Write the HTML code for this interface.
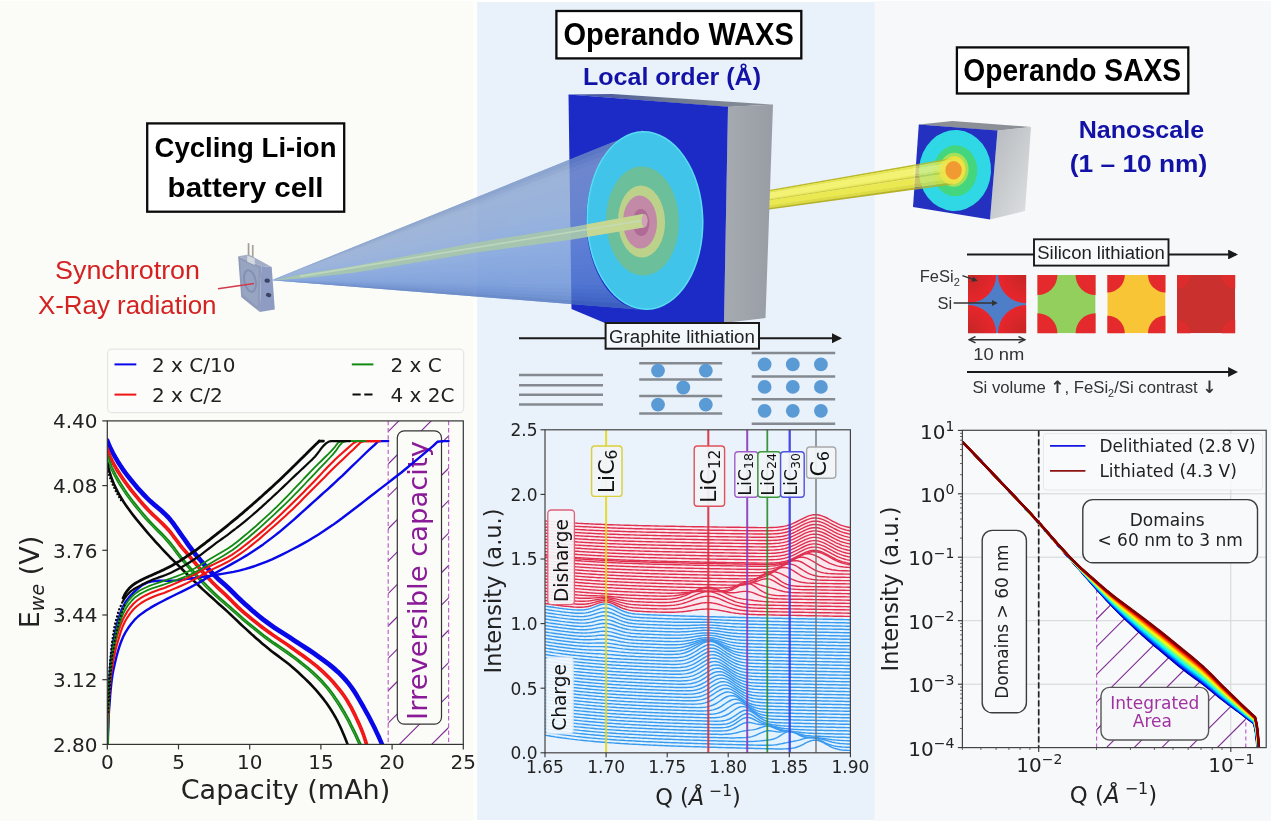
<!DOCTYPE html>
<html lang="en"><head><meta charset="utf-8"><title>Operando WAXS / SAXS of a cycling Li-ion battery cell</title>
<style>html,body{margin:0;padding:0;background:#fff;overflow:hidden}svg{display:block}</style></head>
<body>
<svg width="1280" height="822" viewBox="0 0 1280 822">
<rect x="0" y="0" width="1280" height="822" fill="#ffffff"/>
<rect x="0" y="1" width="477" height="820" fill="#fbfcf8"/>
<rect x="874" y="1" width="397" height="820" fill="#f6f8fa"/>
<rect x="477" y="2" width="397.5" height="818" fill="#e9f1fa"/>
<rect x="473" y="1" width="4.2" height="820" fill="#fefefd"/>
<defs>
<linearGradient id="coneG" x1="0" y1="0" x2="0" y2="1">
<stop offset="0" stop-color="#5f86c8"/><stop offset="0.18" stop-color="#86abe2"/><stop offset="0.5" stop-color="#8fb2e6"/><stop offset="0.8" stop-color="#7fa3dc"/><stop offset="1" stop-color="#5a7fc4"/>
</linearGradient>
<linearGradient id="coneFade" x1="0" y1="0" x2="1" y2="0">
<stop offset="0" stop-color="#fff" stop-opacity="0.75"/><stop offset="0.5" stop-color="#fff" stop-opacity="0.92"/><stop offset="1" stop-color="#fff" stop-opacity="1"/>
</linearGradient>
<linearGradient id="beamG" x1="0" y1="0" x2="0" y2="1">
<stop offset="0" stop-color="#c9c832"/><stop offset="0.15" stop-color="#eeee55"/><stop offset="0.45" stop-color="#f4f268"/><stop offset="0.52" stop-color="#cfcf3a"/><stop offset="0.6" stop-color="#eeec58"/><stop offset="0.88" stop-color="#e6e448"/><stop offset="1" stop-color="#bdbb2c"/>
</linearGradient>
<linearGradient id="sideG" x1="0" y1="0" x2="1" y2="0">
<stop offset="0" stop-color="#a6abb2"/><stop offset="1" stop-color="#989da5"/>
</linearGradient>
<linearGradient id="sideS" x1="0" y1="0" x2="1" y2="1">
<stop offset="0" stop-color="#b4b8bc"/><stop offset="1" stop-color="#dfe1e3"/>
</linearGradient>
<linearGradient id="topG" x1="0" y1="0" x2="1" y2="0">
<stop offset="0" stop-color="#3d4fa8"/><stop offset="0.5" stop-color="#6f7a90"/><stop offset="1" stop-color="#8a9098"/>
</linearGradient>
<radialGradient id="redC" cx="0.5" cy="0.5" r="0.5">
<stop offset="0" stop-color="#c42626"/><stop offset="1" stop-color="#e8262c"/>
</radialGradient>
<marker id="ah" viewBox="0 0 10 10" refX="8" refY="5" markerWidth="5.2" markerHeight="5.2" orient="auto-start-reverse"><path d="M0 0L10 5L0 10z" fill="#1a1a1a"/></marker>
<marker id="ahs" viewBox="0 0 10 10" refX="7" refY="5" markerWidth="4.2" markerHeight="4.2" orient="auto-start-reverse"><path d="M0 0L10 5L0 10z" fill="#333"/></marker>
<marker id="aho" viewBox="0 0 10 10" refX="8.5" refY="5" markerWidth="5" markerHeight="5" orient="auto-start-reverse"><path d="M1 1L9 5L1 9" fill="none" stroke="#333" stroke-width="1.8"/></marker>
</defs>
<polygon points="760,191.7 913.5,164.7 913.5,166.5 760,193" fill="#b9b82c"/><polygon points="760,192.8 913.5,166.2 913.5,168.7 760,194.7" fill="#e6e650"/><polygon points="760,194.5 913.5,168.5 913.5,175.3 760,199.7" fill="#f3f272"/><polygon points="760,199.5 913.5,175 913.5,176.9 760,200.9" fill="#ecea58"/><polygon points="760,200.9 913.5,176.8 913.5,178.3 760,202" fill="#cfce3c"/><polygon points="760,201.9 913.5,178.2 913.5,184.8 760,207" fill="#ebe952"/><polygon points="760,206.8 913.5,184.6 913.5,188.1 760,209.5" fill="#dedc44"/><polygon points="760,209.3 913.5,187.8 913.5,189.8 760,210.8" fill="#b4b228"/>
<polygon points="568.5,94.6 612,94 773,104.6 728,107" fill="url(#topG)"/>
<polygon points="728,106.8 773,104.6 765.5,318 724,323" fill="url(#sideG)"/>
<polygon points="568.5,94.6 728,106.8 724,323 605,323 571.5,309" fill="#1c2bc6"/>
<defs><clipPath id="coneclip"><path d="M0 0H645V131C612 131 586.5 171 586.5 220.5S612 310 645 310V400H0Z"/></clipPath></defs>
<g clip-path="url(#coneclip)"><g opacity="0.77"><polygon points="271.5,280.2 613.4,142.0 650,220 642.0,309.8" fill="#759ad9"/><polygon points="271.5,280.2 642.3,130.3 644.9,136.8" fill="#708ec2"/><polygon points="271.5,280.2 644.3,135.1 646.7,141.6" fill="#7a96c7"/><polygon points="271.5,280.2 646.1,139.9 648.5,146.4" fill="#839fcd"/><polygon points="271.5,280.2 647.9,144.7 650.2,151.3" fill="#87a2cf"/><polygon points="271.5,280.2 649.6,149.6 651.8,156.2" fill="#86a2d0"/><polygon points="271.5,280.2 651.2,154.5 653.4,161.1" fill="#85a1d0"/><polygon points="271.5,280.2 652.8,159.4 654.9,166" fill="#84a1d1"/><polygon points="271.5,280.2 654.3,164.3 656.3,171" fill="#84a1d1"/><polygon points="271.5,280.2 655.8,169.3 657.7,176" fill="#83a1d2"/><polygon points="271.5,280.2 657.2,174.2 659,180.9" fill="#82a0d2"/><polygon points="271.5,280.2 658.5,179.2 660.2,185.9" fill="#81a0d3"/><polygon points="271.5,280.2 659.8,184.2 661.4,191" fill="#80a0d3"/><polygon points="271.5,280.2 661,189.2 662.5,196" fill="#7f9fd4"/><polygon points="271.5,280.2 662.2,194.2 663.6,201" fill="#7d9ed5"/><polygon points="271.5,280.2 663.2,199.3 664.6,206.1" fill="#7c9ed5"/><polygon points="271.5,280.2 664.2,204.3 665.5,211.2" fill="#7b9dd6"/><polygon points="271.5,280.2 665.2,209.4 666.4,216.2" fill="#799cd7"/><polygon points="271.5,280.2 666.1,214.5 667.1,221.3" fill="#789cd7"/><polygon points="271.5,280.2 666.9,219.6 667.9,226.4" fill="#779bd8"/><polygon points="271.5,280.2 667.6,224.7 668.5,231.6" fill="#759ad9"/><polygon points="271.5,280.2 668.3,229.8 669.1,236.7" fill="#7499d9"/><polygon points="271.5,280.2 668.9,234.9 669.7,241.8" fill="#7298d8"/><polygon points="271.5,280.2 669.5,240 670.1,246.9" fill="#7096d8"/><polygon points="271.5,280.2 670,245.1 670.5,252.1" fill="#6f95d8"/><polygon points="271.5,280.2 670.4,250.3 670.8,257.2" fill="#6d94d7"/><polygon points="271.5,280.2 670.7,255.4 671.1,262.4" fill="#6c93d7"/><polygon points="271.5,280.2 671,260.6 671.3,267.5" fill="#6a91d7"/><polygon points="271.5,280.2 671.2,265.7 671.4,272.7" fill="#6890d6"/><polygon points="271.5,280.2 671.4,270.9 671.5,277.8" fill="#668fd6"/><polygon points="271.5,280.2 671.5,276 671.5,283" fill="#658dd5"/><polygon points="271.5,280.2 671.5,281.2 671.4,288.1" fill="#638cd5"/><polygon points="271.5,280.2 671.5,286.3 671.3,293.3" fill="#5e88d2"/><polygon points="271.5,280.2 671.3,291.5 671.1,298.4" fill="#5a82cf"/><polygon points="271.5,280.2 671.2,296.6 670.8,303.6" fill="#547dcb"/><polygon points="271.5,280.2 670.9,301.8 670.5,308.7" fill="#4e77c6"/><polygon points="271.5,280.2 670.6,306.9 670.2,312.1" fill="#456ebd"/></g></g>
<g transform="rotate(-1.5 644 221)">
<ellipse cx="645" cy="220.5" rx="58.5" ry="89.5" fill="#5adcf4"/>
<ellipse cx="645" cy="220.5" rx="57" ry="88" fill="#40c4ea"/>
<ellipse cx="642.5" cy="221" rx="36.5" ry="54.5" fill="#6bbf9a"/>
<ellipse cx="641.5" cy="221.5" rx="23.5" ry="36" fill="#bcd28a"/>
<ellipse cx="640" cy="222" rx="17" ry="26.5" fill="#c38aa8"/>
<ellipse cx="641" cy="222.5" rx="8.5" ry="13.5" fill="#b06a96"/>
</g>
<defs><clipPath id="ringclip"><ellipse cx="645" cy="220.5" rx="58.5" ry="89.5"/></clipPath></defs>
<polygon points="272.5,280.5 300,274.6 353.8,266 476,242.6 572.5,227 643,214 647.5,220.5 644.5,227.2 572.5,239.4 476,252.6 353.8,272.8 300,278.4" fill="#a9c8ac" opacity="0.9"/>
<polygon points="272.5,280.5 300,274.6 353.8,266 476,242.6 572.5,227 643,214 647.5,220.5 644.5,227.2 572.5,239.4 476,252.6 353.8,272.8 300,278.4" fill="#c9d88e" opacity="0.9" clip-path="url(#ringclip)"/>
<path d="M300 276.4L476 247.5L644 220.2" stroke="#c4dcc0" stroke-width="1.6" fill="none" opacity="0.8"/>
<ellipse cx="644.6" cy="220.6" rx="3" ry="6.6" fill="#cfa2b4"/>
<polygon points="918.8,124.5 952.5,121 1031,127 997.5,130.8" fill="#8c9096"/>
<polygon points="997.5,130.5 1031,127 1025,211 990,219.5" fill="url(#sideS)"/>
<polygon points="918.8,124.5 997.5,130.5 990,219.5 913,207" fill="#2430c0"/>
<g transform="rotate(4 955 170.5)">
<ellipse cx="955" cy="170.5" rx="36" ry="40.5" fill="#2fd8e4"/>
<ellipse cx="955.3" cy="170.8" rx="22" ry="25.5" fill="#43d67e"/>
<ellipse cx="954" cy="169.8" rx="14.6" ry="17" fill="#a6e05a"/>
<ellipse cx="954" cy="169.8" rx="11.4" ry="13.6" fill="#f0e23c"/>
</g>
<g opacity="0.82"><polygon points="913,164.8 952.5,157.9 952.5,159.7 913,166.6" fill="#b9b82c"/><polygon points="913,166.3 952.5,159.5 952.5,162.1 913,168.8" fill="#e6e650"/><polygon points="913,168.6 952.5,161.9 952.5,169.1 913,175.3" fill="#f3f272"/><polygon points="913,175.1 952.5,168.8 952.5,170.8 913,177" fill="#ecea58"/><polygon points="913,176.8 952.5,170.7 952.5,172.3 913,178.4" fill="#cfce3c"/><polygon points="913,178.2 952.5,172.1 952.5,179.2 913,184.9" fill="#ebe952"/><polygon points="913,184.6 952.5,178.9 952.5,182.6 913,188.1" fill="#dedc44"/><polygon points="913,187.9 952.5,182.4 952.5,184.5 913,189.9" fill="#b4b228"/></g>
<ellipse cx="952" cy="171.2" rx="12.5" ry="13.2" fill="#ece44a" opacity="0.8"/>
<ellipse cx="953.6" cy="170.3" rx="8.2" ry="9.2" fill="#f29a32"/>
<g>
<rect x="247.7" y="243.2" width="1.7" height="13.5" fill="#a39c92"/><rect x="251.9" y="245" width="1.7" height="13" fill="#a9a298"/>
<polygon points="238.1,256.2 261.3,266 259.8,312 241.2,297" fill="#8f9bb8"/>
<polygon points="240.2,260 258.6,268 257.6,306.5 242.6,294.5" fill="#98a5c2"/>
<polygon points="261.3,266 271.7,267 274.8,309.4 259.8,312" fill="#8e9cc4"/>
<polygon points="238.1,256.2 249,254.6 271.7,267 261.3,266" fill="#a2adc6"/>
<ellipse cx="250" cy="281" rx="5.6" ry="11" fill="none" stroke="#8391b2" stroke-width="2" transform="rotate(-12 250 281)"/>
<polygon points="247.2,255.6 254.8,258.8 254.8,265 247.2,261.8" fill="#d4d8e0"/>
<ellipse cx="267.2" cy="280.6" rx="2.7" ry="2.1" fill="#3c4464" transform="rotate(15 267.2 280.6)"/><ellipse cx="268.6" cy="295" rx="2.7" ry="2.1" fill="#3c4464" transform="rotate(15 268.6 295)"/>
</g>
<line x1="218" y1="288.8" x2="254" y2="283.5" stroke="#d23a4a" stroke-width="1.6"/>
<rect x="147.2" y="123.4" width="197" height="88.3" fill="#ffffff" stroke="#0a0a0a" stroke-width="2.3"/>
<text x="154.5" y="156.9" font-size="28.5" font-family="Liberation Sans, sans-serif" fill="#000" font-weight="bold" textLength="182" lengthAdjust="spacingAndGlyphs">Cycling Li-ion</text>
<text x="167.6" y="197.2" font-size="28.5" font-family="Liberation Sans, sans-serif" fill="#000" font-weight="bold" textLength="156" lengthAdjust="spacingAndGlyphs">battery cell</text>
<rect x="556.4" y="11" width="244.9" height="47.4" fill="#ffffff" stroke="#0a0a0a" stroke-width="2.3"/>
<text x="563.4" y="44.8" font-size="31" font-family="Liberation Sans, sans-serif" fill="#000" font-weight="bold" textLength="230.4" lengthAdjust="spacingAndGlyphs">Operando WAXS</text>
<rect x="956.9" y="47.4" width="231.4" height="46.1" fill="#ffffff" stroke="#0a0a0a" stroke-width="2.3"/>
<text x="963.2" y="81" font-size="31" font-family="Liberation Sans, sans-serif" fill="#000" font-weight="bold" textLength="218" lengthAdjust="spacingAndGlyphs">Operando SAXS</text>
<text x="583" y="85.3" font-size="23.5" font-family="Liberation Sans, sans-serif" fill="#1212a6" font-weight="bold" textLength="178" lengthAdjust="spacingAndGlyphs">Local order (Å)</text>
<text x="1078.7" y="137.5" font-size="23.5" font-family="Liberation Sans, sans-serif" fill="#1212a6" font-weight="bold" textLength="125.5" lengthAdjust="spacingAndGlyphs">Nanoscale</text>
<text x="1069.8" y="172" font-size="23.5" font-family="Liberation Sans, sans-serif" fill="#1212a6" font-weight="bold" textLength="137.5" lengthAdjust="spacingAndGlyphs">(1 – 10 nm)</text>
<text x="55" y="279.4" font-size="26" font-family="Liberation Sans, sans-serif" fill="#d42222" textLength="145" lengthAdjust="spacingAndGlyphs">Synchrotron</text>
<text x="37.9" y="314.4" font-size="26" font-family="Liberation Sans, sans-serif" fill="#d42222" textLength="178.6" lengthAdjust="spacingAndGlyphs">X-Ray radiation</text>
<line x1="519" y1="338.2" x2="840" y2="338.2" stroke="#1a1a1a" stroke-width="2" marker-end="url(#ah)"/>
<rect x="605.6" y="323" width="153.4" height="25.7" fill="#f3f8fd" stroke="#1a1a1a" stroke-width="2.0"/>
<text x="609" y="342.6" font-size="18" font-family="Liberation Sans, sans-serif" fill="#222" textLength="146" lengthAdjust="spacingAndGlyphs">Graphite lithiation</text>
<line x1="519" y1="375" x2="603" y2="375" stroke="#858a90" stroke-width="2.5"/>
<line x1="519" y1="385.2" x2="603" y2="385.2" stroke="#858a90" stroke-width="2.5"/>
<line x1="519" y1="394.8" x2="603" y2="394.8" stroke="#858a90" stroke-width="2.5"/>
<line x1="519" y1="404.6" x2="603" y2="404.6" stroke="#858a90" stroke-width="2.5"/>
<line x1="639.2" y1="363.2" x2="722.2" y2="363.2" stroke="#858a90" stroke-width="2.5"/>
<line x1="639.2" y1="379.4" x2="722.2" y2="379.4" stroke="#858a90" stroke-width="2.5"/>
<line x1="639.2" y1="396" x2="722.2" y2="396" stroke="#858a90" stroke-width="2.5"/>
<line x1="639.2" y1="413.4" x2="722.2" y2="413.4" stroke="#858a90" stroke-width="2.5"/>
<circle cx="658" cy="370.6" r="6.9" fill="#5b9bd5"/>
<circle cx="705.8" cy="370.6" r="6.9" fill="#5b9bd5"/>
<circle cx="683.3" cy="387.5" r="6.9" fill="#5b9bd5"/>
<circle cx="658" cy="404.6" r="6.9" fill="#5b9bd5"/>
<circle cx="705.8" cy="404.6" r="6.9" fill="#5b9bd5"/>
<line x1="751.7" y1="353.1" x2="835.2" y2="353.1" stroke="#858a90" stroke-width="2.5"/>
<line x1="751.7" y1="376.5" x2="835.2" y2="376.5" stroke="#858a90" stroke-width="2.5"/>
<line x1="751.7" y1="399.3" x2="835.2" y2="399.3" stroke="#858a90" stroke-width="2.5"/>
<line x1="751.7" y1="423.7" x2="835.2" y2="423.7" stroke="#858a90" stroke-width="2.5"/>
<circle cx="764.6" cy="364.4" r="6.9" fill="#5b9bd5"/>
<circle cx="764.6" cy="386.9" r="6.9" fill="#5b9bd5"/>
<circle cx="764.6" cy="410.8" r="6.9" fill="#5b9bd5"/>
<circle cx="792.8" cy="364.4" r="6.9" fill="#5b9bd5"/>
<circle cx="792.8" cy="386.9" r="6.9" fill="#5b9bd5"/>
<circle cx="792.8" cy="410.8" r="6.9" fill="#5b9bd5"/>
<circle cx="820.9" cy="364.4" r="6.9" fill="#5b9bd5"/>
<circle cx="820.9" cy="386.9" r="6.9" fill="#5b9bd5"/>
<circle cx="820.9" cy="410.8" r="6.9" fill="#5b9bd5"/>
<line x1="967" y1="254.5" x2="1236" y2="254.5" stroke="#1a1a1a" stroke-width="1.9" marker-end="url(#ah)"/>
<rect x="1034" y="239.3" width="134.5" height="26.3" fill="#f8fafc" stroke="#1a1a1a" stroke-width="1.9"/>
<text x="1037.2" y="259" font-size="18" font-family="Liberation Sans, sans-serif" fill="#222" textLength="127.6" lengthAdjust="spacingAndGlyphs">Silicon lithiation</text>
<defs><clipPath id="sq0"><rect x="968" y="275" width="58.2" height="58.2"/></clipPath><clipPath id="sq1"><rect x="1037.4" y="275" width="58.2" height="58.2"/></clipPath><clipPath id="sq2"><rect x="1107.3" y="275" width="58.2" height="58.2"/></clipPath><clipPath id="sq3"><rect x="1177" y="275" width="58.2" height="58.2"/></clipPath></defs>
<g clip-path="url(#sq0)"><rect x="968" y="275" width="58.2" height="58.2" fill="#4f7ec8"/>
<circle cx="968" cy="275" r="28.2" fill="url(#redC)"/>
<circle cx="1026.2" cy="275" r="28.2" fill="url(#redC)"/>
<circle cx="968" cy="333.2" r="28.2" fill="url(#redC)"/>
<circle cx="1026.2" cy="333.2" r="28.2" fill="url(#redC)"/>
</g>
<g clip-path="url(#sq1)"><rect x="1037.4" y="275" width="58.2" height="58.2" fill="#92cf5c"/>
<circle cx="1037.4" cy="275" r="20" fill="#e52a2e"/>
<circle cx="1095.6" cy="275" r="20" fill="#e52a2e"/>
<circle cx="1037.4" cy="333.2" r="20" fill="#e52a2e"/>
<circle cx="1095.6" cy="333.2" r="20" fill="#e52a2e"/>
</g>
<g clip-path="url(#sq2)"><rect x="1107.3" y="275" width="58.2" height="58.2" fill="#f7c536"/>
<circle cx="1107.3" cy="275" r="17.5" fill="#e52a2e"/>
<circle cx="1165.5" cy="275" r="17.5" fill="#e52a2e"/>
<circle cx="1107.3" cy="333.2" r="17.5" fill="#e52a2e"/>
<circle cx="1165.5" cy="333.2" r="17.5" fill="#e52a2e"/>
</g>
<g clip-path="url(#sq3)"><rect x="1177" y="275" width="58.2" height="58.2" fill="#c9302e"/>
<circle cx="1177" cy="275" r="13.5" fill="#de2c2c"/>
<circle cx="1235.2" cy="275" r="13.5" fill="#de2c2c"/>
<circle cx="1177" cy="333.2" r="13.5" fill="#de2c2c"/>
<circle cx="1235.2" cy="333.2" r="13.5" fill="#de2c2c"/>
</g>
<text x="919.7" y="282" font-size="16.5" font-family="Liberation Sans, sans-serif" fill="#333">FeSi<tspan font-size="11" dy="4">2</tspan></text>
<text x="937.4" y="308.7" font-size="16.5" font-family="Liberation Sans, sans-serif" fill="#333">Si</text>
<line x1="962.4" y1="275.6" x2="976" y2="280.4" stroke="#333" stroke-width="1.4" marker-end="url(#ahs)"/>
<line x1="953.6" y1="303" x2="996" y2="303" stroke="#333" stroke-width="1.4" marker-end="url(#ahs)"/>
<line x1="969.5" y1="339.7" x2="1024.5" y2="339.7" stroke="#333" stroke-width="1.6" marker-start="url(#aho)" marker-end="url(#aho)"/>
<text x="973.2" y="360" font-size="16.5" font-family="Liberation Sans, sans-serif" fill="#333" textLength="51" lengthAdjust="spacingAndGlyphs">10 nm</text>
<line x1="967" y1="372" x2="1236" y2="372" stroke="#1a1a1a" stroke-width="1.9" marker-end="url(#ah)"/>
<text x="972.4" y="392.5" font-size="17" font-family="Liberation Sans, sans-serif" fill="#333" textLength="244" lengthAdjust="spacingAndGlyphs">Si volume <tspan font-weight="bold" font-family="DejaVu Sans, sans-serif" font-size="17">↑</tspan>, FeSi<tspan font-size="11" dy="4">2</tspan><tspan dy="-4">/Si contrast </tspan><tspan font-weight="bold" font-family="DejaVu Sans, sans-serif" font-size="17">↓</tspan></text>
<defs><clipPath id="lclip"><rect x="107.3" y="420.9" width="356" height="323.5"/></clipPath>
<clipPath id="lhatch"><rect x="388.2" y="420.9" width="60.4" height="323.5"/></clipPath></defs>
<rect x="107.3" y="420.9" width="356" height="323.5" fill="#fbfcf8"/>
<g clip-path="url(#lhatch)" stroke="#7e2a92" stroke-width="1.1">
<line x1="-37.5" y1="760" x2="322.5" y2="400"/>
<line x1="-5.1" y1="760" x2="354.9" y2="400"/>
<line x1="27.3" y1="760" x2="387.3" y2="400"/>
<line x1="59.7" y1="760" x2="419.7" y2="400"/>
<line x1="92.1" y1="760" x2="452.1" y2="400"/>
<line x1="124.5" y1="760" x2="484.5" y2="400"/>
<line x1="156.9" y1="760" x2="516.9" y2="400"/>
<line x1="189.3" y1="760" x2="549.3" y2="400"/>
<line x1="221.7" y1="760" x2="581.7" y2="400"/>
<line x1="254.1" y1="760" x2="614.1" y2="400"/>
<line x1="286.5" y1="760" x2="646.5" y2="400"/>
<line x1="318.9" y1="760" x2="678.9" y2="400"/>
<line x1="351.3" y1="760" x2="711.3" y2="400"/>
<line x1="383.7" y1="760" x2="743.7" y2="400"/>
<line x1="416.1" y1="760" x2="776.1" y2="400"/>
<line x1="448.5" y1="760" x2="808.5" y2="400"/>
<line x1="480.9" y1="760" x2="840.9" y2="400"/>
</g>
<line x1="388.2" y1="420.9" x2="388.2" y2="744.4" stroke="#b846c6" stroke-width="1.2" stroke-dasharray="4.4 2.8" opacity="0.85"/>
<line x1="448.6" y1="420.9" x2="448.6" y2="744.4" stroke="#b846c6" stroke-width="1.2" stroke-dasharray="4.4 2.8" opacity="0.85"/>
<rect x="397.3" y="430.8" width="44.2" height="293.4" rx="7" ry="7" fill="#fbfcf8" stroke="#333" stroke-width="1.2"/>
<text x="427.2" y="580.5" font-size="27.4" font-family="DejaVu Sans, Liberation Sans, sans-serif" fill="#8a1a98" text-anchor="middle" transform="rotate(-90 427.2 580.5)">Irreversible capacity</text>
<g clip-path="url(#lclip)" fill="none" stroke-linejoin="round" stroke-linecap="round">
<path d="M107.6 440L109.4 444.3L111.3 448.6L113.4 452.8L115.7 456.9L118.1 460.9L120.6 464.8L123.2 468.7L125.9 472.5L128.8 476.2L131.7 479.9L134.7 483.5L137.7 487.1L140.9 490.6L144 494L147.3 497.4L150.6 500.6L154.2 503.7L157.8 506.7L161.4 509.8L164.8 512.9L168.1 516.2L171.1 519.7L174 523.4L176.7 527.3L179.4 531.1L182.1 534.9L184.8 538.8L187.5 542.6L190.2 546.4L193 550.1L195.9 553.8L198.9 557.4L201.9 561L205 564.5L208.2 567.9L211.4 571.3L214.7 574.6L218.1 577.9L221.6 581L225.1 584.1L228.6 587.2L231.9 590.5L235.2 593.8L238.5 597.1L241.9 600.3L245.4 603.4L248.9 606.6L252.4 609.7L256 612.7L259.6 615.7L263.2 618.6L266.9 621.4L270.7 624.2L274.5 626.8L278.4 629.4L282.4 632L286.3 634.5L290.3 637L294.2 639.6L298.1 642.2L302 644.7L306 647.3L309.9 649.8L313.8 652.4L317.6 655.1L321.4 657.8L325.2 660.6L328.9 663.4L332.6 666.4L336.1 669.4L339.6 672.6L342.8 675.9L346 679.4L349 683L351.8 686.7L354.4 690.5L356.9 694.5L359.3 698.5L361.6 702.6L364 706.7L366.2 710.8L368.5 714.9L370.7 719L372.8 723.2L374.9 727.3L376.9 731.6L378.9 735.8L380.8 740.1L382.6 744.4" stroke="#0808e8" stroke-width="3.4"/>
<path d="M106.6 441.6L108.4 445.9L110.3 450.2L112.4 454.4L114.7 458.5L117.1 462.5L119.6 466.4L122.2 470.3L124.9 474.1L127.8 477.8L130.7 481.5L133.7 485.1L136.7 488.7L139.9 492.2L143 495.6L146.3 499L149.6 502.2L153.2 505.3L156.8 508.3L160.4 511.4L163.8 514.5L167.1 517.8L170.1 521.3L173 525L175.7 528.9L178.4 532.7L181.1 536.5L183.8 540.4L186.5 544.2L189.2 548L192 551.7L194.9 555.4L197.9 559L200.9 562.6L204 566.1L207.2 569.5L210.4 572.9L213.7 576.2L217.1 579.5L220.6 582.6L224.1 585.7L227.6 588.8L230.9 592.1L234.2 595.4L237.5 598.7L240.9 601.9L244.4 605L247.9 608.2L251.4 611.3L255 614.3L258.6 617.3L262.2 620.2L265.9 623L269.7 625.8L273.5 628.4L277.4 631L281.4 633.6L285.3 636.1L289.3 638.6L293.2 641.2L297.1 643.8L301 646.3L305 648.9L308.9 651.4L312.8 654L316.6 656.7L320.4 659.4L324.2 662.2L327.9 665L331.6 668L335.1 671L338.6 674.2L341.8 677.5L345 681L348 684.6L350.8 688.3L353.4 692.1L355.9 696.1L358.3 700.1L360.6 704.2L363 708.3L365.2 712.4L367.5 716.5L369.7 720.6L371.8 724.8L373.9 728.9L375.9 733.2L377.9 737.4L379.8 741.7L381.6 746" stroke="#0808e8" stroke-width="2.4"/>
<path d="M107.6 448L109.1 452.2L110.8 456.4L112.7 460.5L114.8 464.4L117 468.4L119.4 472.2L121.9 476L124.4 479.7L127 483.3L129.7 486.9L132.4 490.5L135.3 494L138.2 497.5L141.1 500.9L144 504.3L147 507.6L150.1 510.9L153.3 514L156.6 517.1L159.9 520.2L163.2 523.3L166.3 526.5L169.3 529.8L172.2 533.3L174.9 536.9L177.6 540.5L180.3 544.1L183.1 547.6L186 551L188.9 554.4L191.8 557.9L194.7 561.3L197.6 564.8L200.5 568.2L203.4 571.6L206.4 575L209.5 578.2L212.6 581.5L215.8 584.7L219 587.8L222.3 590.9L225.6 593.9L228.9 597L232.1 600.2L235.2 603.4L238.4 606.5L241.7 609.6L245.1 612.5L248.5 615.4L252 618.3L255.5 621.1L259 623.9L262.6 626.7L266.2 629.4L269.8 632L273.5 634.6L277.2 637.1L280.9 639.6L284.7 642.1L288.4 644.6L292.1 647.2L295.8 649.8L299.4 652.4L303.1 655L306.8 657.7L310.4 660.4L313.9 663.1L317.4 665.9L320.8 668.8L324.1 671.8L327.4 675L330.6 678.2L333.6 681.5L336.5 684.9L339.4 688.4L342.2 691.9L344.8 695.6L347.3 699.3L349.6 703.2L351.8 707.1L353.8 711.1L355.8 715.1L357.7 719.2L359.6 723.3L361.4 727.4L363.1 731.6L364.6 735.8L366 740.1L367.3 744.4" stroke="#f01414" stroke-width="2.2"/>
<path d="M106.2 449L107.7 453.2L109.4 457.4L111.3 461.5L113.4 465.4L115.6 469.4L118 473.2L120.5 477L123 480.7L125.6 484.3L128.3 487.9L131 491.5L133.9 495L136.8 498.5L139.7 501.9L142.6 505.3L145.6 508.6L148.7 511.9L151.9 515L155.2 518.1L158.5 521.2L161.8 524.3L164.9 527.5L167.9 530.8L170.8 534.3L173.5 537.9L176.2 541.5L178.9 545.1L181.7 548.6L184.6 552L187.5 555.4L190.4 558.9L193.3 562.3L196.2 565.8L199.1 569.2L202 572.6L205 576L208.1 579.2L211.2 582.5L214.4 585.7L217.6 588.8L220.9 591.9L224.2 594.9L227.5 598L230.7 601.2L233.8 604.4L237 607.5L240.3 610.6L243.7 613.5L247.1 616.4L250.6 619.3L254.1 622.1L257.6 624.9L261.2 627.7L264.8 630.4L268.4 633L272.1 635.6L275.8 638.1L279.5 640.6L283.3 643.1L287 645.6L290.7 648.2L294.4 650.8L298 653.4L301.7 656L305.4 658.7L309 661.4L312.5 664.1L316 666.9L319.4 669.8L322.7 672.8L326 676L329.2 679.2L332.2 682.5L335.1 685.9L338 689.4L340.8 692.9L343.4 696.6L345.9 700.3L348.2 704.2L350.4 708.1L352.4 712.1L354.4 716.1L356.3 720.2L358.2 724.3L360 728.4L361.7 732.6L363.2 736.8L364.6 741.1L365.9 745.4" stroke="#f01414" stroke-width="1.8"/>
<path d="M107.6 455L109 459.2L110.5 463.3L112.1 467.3L114 471.3L116 475.2L118.2 479L120.4 482.8L122.8 486.5L125.1 490.1L127.6 493.7L130.2 497.3L132.8 500.8L135.5 504.2L138.3 507.7L141.1 511L143.9 514.4L146.7 517.7L149.7 521L152.7 524.1L155.8 527.3L158.9 530.4L162 533.5L165 536.6L168 539.9L170.8 543.2L173.5 546.6L176.1 550.1L178.7 553.6L181.4 557.1L184.2 560.4L187.1 563.8L189.9 567.1L192.8 570.4L195.8 573.6L198.7 576.9L201.7 580.1L204.7 583.2L207.8 586.4L210.9 589.5L214 592.5L217.2 595.5L220.5 598.4L223.8 601.2L227.2 604.1L230.5 607L233.7 609.9L237 612.8L240.3 615.7L243.6 618.6L246.9 621.4L250.3 624.2L253.7 627L257.1 629.7L260.5 632.5L263.9 635.2L267.4 637.8L271 640.4L274.5 642.9L278.2 645.4L281.8 647.8L285.4 650.3L289 652.8L292.5 655.4L296 658L299.5 660.7L302.9 663.5L306.4 666.2L309.7 669L313.1 671.9L316.3 674.9L319.4 677.9L322.4 681L325.3 684.3L328.2 687.6L330.9 691.1L333.5 694.6L336 698.2L338.4 701.8L340.8 705.5L343 709.3L345.3 713.1L347.4 716.9L349.5 720.7L351.4 724.7L353.4 728.6L355.3 732.5L357.2 736.5L359 740.4L360.9 744.4" stroke="#128a12" stroke-width="1.9"/>
<path d="M106.2 456L107.6 460.2L109.1 464.3L110.7 468.3L112.6 472.3L114.6 476.2L116.8 480L119 483.8L121.4 487.5L123.7 491.1L126.2 494.7L128.8 498.3L131.4 501.8L134.1 505.2L136.9 508.7L139.7 512L142.5 515.4L145.3 518.7L148.3 522L151.3 525.1L154.4 528.3L157.5 531.4L160.6 534.5L163.6 537.6L166.6 540.9L169.4 544.2L172.1 547.6L174.7 551.1L177.3 554.6L180 558.1L182.8 561.4L185.7 564.8L188.5 568.1L191.4 571.4L194.4 574.6L197.3 577.9L200.3 581.1L203.3 584.2L206.4 587.4L209.5 590.5L212.6 593.5L215.8 596.5L219.1 599.4L222.4 602.2L225.8 605.1L229.1 608L232.3 610.9L235.6 613.8L238.9 616.7L242.2 619.6L245.5 622.4L248.9 625.2L252.3 628L255.7 630.7L259.1 633.5L262.5 636.2L266 638.8L269.6 641.4L273.1 643.9L276.8 646.4L280.4 648.8L284 651.3L287.6 653.8L291.1 656.4L294.6 659L298.1 661.7L301.5 664.5L305 667.2L308.3 670L311.7 672.9L314.9 675.9L318 678.9L321 682L323.9 685.3L326.8 688.6L329.5 692.1L332.1 695.6L334.6 699.2L337 702.8L339.4 706.5L341.6 710.3L343.9 714.1L346 717.9L348.1 721.7L350 725.7L352 729.6L353.9 733.5L355.8 737.5L357.6 741.4L359.5 745.4" stroke="#128a12" stroke-width="1.5"/>
<path d="M107.6 464L108.5 468.1L109.6 472.2L110.9 476.2L112.3 480.1L113.9 484L115.7 487.8L117.6 491.6L119.7 495.3L121.8 498.9L124 502.5L126.4 505.9L128.8 509.3L131.3 512.7L133.9 516.1L136.5 519.4L139.2 522.6L141.9 525.9L144.6 529.1L147.3 532.3L150 535.5L152.8 538.7L155.6 541.8L158.5 544.9L161.3 548L164.2 551.1L167.1 554.1L170 557.2L173 560.1L176 563.1L179 566.1L181.9 569L184.9 572L187.9 575L190.9 577.9L193.9 580.9L196.9 583.8L200 586.7L203 589.6L206.1 592.4L209.2 595.3L212.4 598.1L215.5 600.9L218.6 603.7L221.8 606.5L224.9 609.3L228 612.1L231.1 615L234.1 617.9L237.2 620.8L240.2 623.7L243.3 626.6L246.4 629.4L249.5 632.2L252.6 635.1L255.8 637.9L258.9 640.6L262.1 643.4L265.3 646.1L268.6 648.8L271.9 651.4L275.2 653.9L278.6 656.4L282 659L285.4 661.5L288.7 664.1L291.9 666.7L295.1 669.5L298.2 672.3L301.3 675.2L304.4 678.1L307.4 681L310.4 684L313.3 687.1L316.1 690.2L318.8 693.4L321.5 696.6L324.1 699.9L326.6 703.3L329 706.8L331.3 710.3L333.5 713.9L335.6 717.5L337.6 721.2L339.4 725L341.2 728.8L342.9 732.7L344.5 736.6L346.1 740.5L347.6 744.4" stroke="#0a0a0a" stroke-width="2.6"/>
<path d="M106.4 464.8L106.5 465.2L106.6 465.7L106.7 466.1L106.8 466.6L106.9 467L107 467.5L107.1 467.9L107.2 468.3L107.3 468.8L107.4 469.2L107.5 469.7L107.6 470.1L107.8 470.5L107.9 471L108 471.4L108.1 471.9L108.2 472.3L108.4 472.7L108.5 473.2L108.6 473.6L108.8 474L108.9 474.5L109 474.9L109.2 475.3L109.3 475.8L109.4 476.2L109.6 476.6L109.7 477L109.8 477.5L110 477.9L110.1 478.3L110.3 478.8L110.4 479.2L110.6 479.6L110.8 480L110.9 480.5L111.1 480.9L111.3 481.3L111.4 481.7L111.6 482.2L111.8 482.6L111.9 483L112.1 483.4L112.3 483.8L112.5 484.2L112.6 484.7L112.8 485.1L113 485.5L113.2 485.9L113.4 486.3L113.6 486.7L113.7 487.1L113.9 487.5L114.1 487.9L114.3 488.4L114.5 488.8L114.7 489.2L114.9 489.6L115.1 490L115.3 490.4L115.5 490.8L115.7 491.2L115.9 491.6L116.1 492L116.3 492.4L116.6 492.8L116.8 493.2L117 493.6L117.2 494L117.4 494.4L117.6 494.8L117.9 495.2L118.1 495.6L118.3 496L118.5 496.4L118.8 496.8L119 497.2L119.2 497.5L119.5 497.9L119.7 498.3L119.9 498.7L120.2 499.1L120.4 499.5L120.7 499.9L120.9 500.3L121.2 500.7L121.4 501L121.6 501.4L121.9 501.8" stroke="#0a0a0a" stroke-width="2.0" stroke-dasharray="0.1 3.4"/>
<path d="M107.8 744.4L107.8 738.6L107.9 732.8L108 727L108.1 721.2L108.2 715.4L108.3 709.6L108.4 703.8L108.6 698L108.8 692.2L109 686.4L109.3 680.6L109.6 674.8L110 669L110.5 663.2L111.1 657.5L111.8 651.7L112.6 646L113.5 640.2L114.6 634.5L115.8 628.8L117.2 623.2L118.8 617.6L120.7 612.1L122.9 606.8L125.8 601.7L129.2 597.1L133.3 592.8L137.6 588.9L142.2 585.1L147.2 582.7L152.9 581.2L158.7 580.7L164.5 580.7L170.3 580.7L176.1 580.4L181.9 579.7L187.6 578.9L193.4 578.2L199.1 577.4L204.9 576.6L210.6 575.7L216.3 574.8L222.1 573.9L227.8 572.9L233.5 571.9L239.2 570.7L244.8 569.2L250.4 567.5L255.9 565.7L261.3 563.7L266.7 561.6L272 559.3L277.3 556.8L282.5 554.3L287.7 551.7L292.9 549L298 546.4L303.1 543.6L308.2 540.7L313.1 537.7L318.1 534.7L323 531.6L327.8 528.3L332.6 525.1L337.3 521.7L342 518.3L346.6 514.7L351.2 511.2L355.8 507.7L360.4 504.2L365 500.6L369.6 497L374.2 493.5L378.8 489.9L383.4 486.4L388 482.9L392.6 479.3L397.1 475.8L401.7 472.2L406.2 468.5L410.6 464.8L415.1 461.1L419.6 457.4L424 453.6L428.5 449.9L432.9 446.2L437.4 441.8L442.6 441.1L448.6 441.1" stroke="#0808e8" stroke-width="2.4"/>
<path d="M107.8 744.4L107.9 739.4L108 734.4L108.1 729.4L108.3 724.5L108.5 719.5L108.8 714.5L109.1 709.5L109.5 704.6L109.9 699.6L110.2 694.6L110.7 689.6L111.2 684.7L111.8 679.8L112.5 674.8L113.4 669.9L114.5 665L115.6 660.2L116.8 655.3L118.2 650.5L119.7 645.7L121.4 641L123.3 636.5L125.6 632.1L128.3 627.8L131.3 623.7L134.5 619.9L138 616.5L142 613.4L146.1 610.6L150.3 607.9L154.6 605.4L159 603L163.4 600.7L167.9 598.4L172.3 596.2L176.8 594L181.3 591.8L185.8 589.6L190.2 587.4L194.6 585L199 582.6L203.2 580.1L207.5 577.5L211.8 575L216.2 572.5L220.5 570.1L224.9 567.8L229.3 565.4L233.7 562.9L238 560.5L242.3 558L246.6 555.4L250.8 552.7L255 550L259.1 547.2L263.2 544.4L267.2 541.4L271.2 538.4L275.1 535.4L279 532.3L282.8 529.1L286.6 525.8L290.4 522.6L294.2 519.3L297.9 516L301.6 512.7L305.3 509.3L309 506L312.7 502.6L316.4 499.3L320.1 496L323.8 492.7L327.6 489.3L331.2 486L334.9 482.6L338.5 479.2L342.2 475.8L345.8 472.3L349.3 468.8L352.9 465.4L356.5 462L360.1 458.5L363.7 455L367.3 451.5L370.9 448.1L374.6 444.8L378.3 441.2L382.9 441.1L388.2 441.1" stroke="#0808e8" stroke-width="2.4"/>
<path d="M107.8 744.4L107.9 739.4L107.9 734.4L108.1 729.4L108.2 724.4L108.3 719.5L108.5 714.5L108.7 709.5L108.9 704.5L109.1 699.5L109.4 694.5L109.7 689.5L110.1 684.6L110.5 679.6L111.1 674.6L111.8 669.7L112.6 664.8L113.5 659.8L114.5 655L115.6 650.1L116.8 645.3L118.2 640.4L119.6 635.6L121.1 630.8L122.8 626.2L124.9 621.7L127.5 617.3L130.4 613.1L133.6 609.3L137.1 606L141.2 603L145.5 600.4L149.9 598.2L154.5 596.3L159.2 594.6L164 592.9L168.6 591.1L173.2 589.1L177.8 587.2L182.4 585.2L187 583.1L191.4 580.9L195.8 578.6L200.1 576.1L204.4 573.5L208.8 571.2L213.3 568.9L217.8 566.8L222.3 564.6L226.8 562.3L231.1 559.9L235.3 557.2L239.4 554.4L243.5 551.5L247.5 548.5L251.4 545.4L255.3 542.3L259.2 539.1L262.9 535.8L266.7 532.5L270.4 529.2L274.2 526L277.9 522.7L281.7 519.3L285.4 516L289 512.6L292.7 509.2L296.2 505.7L299.8 502.2L303.3 498.6L306.8 495.1L310.3 491.5L313.8 488L317.3 484.4L320.8 480.9L324.4 477.4L327.9 473.8L331.4 470.3L335 466.8L338.6 463.3L342.2 459.9L345.8 456.4L349.4 453L353.1 449.7L356.8 446L360.7 442.2L364.9 441.1L369.5 441.1L374.6 441.1L380 441.1" stroke="#f01414" stroke-width="2.1"/>
<path d="M107.8 744.4L107.8 739.4L107.9 734.4L108 729.4L108.1 724.3L108.2 719.3L108.3 714.3L108.5 709.3L108.6 704.3L108.8 699.3L109 694.3L109.3 689.2L109.6 684.2L110 679.2L110.3 674.2L110.9 669.3L111.5 664.3L112.3 659.3L113.1 654.4L114 649.4L115 644.5L116.2 639.6L117.5 634.8L118.9 630L120.5 625.2L122.4 620.5L124.6 616.1L127.2 611.7L130.2 607.5L133.5 603.7L137.1 600.5L141.3 597.7L145.8 595.2L150.2 593.1L154.9 591.3L159.6 589.6L164.4 587.9L169.1 586.1L173.7 584.1L178.3 582.1L182.9 580.1L187.4 578L192 575.8L196.4 573.5L200.8 571L205.2 568.6L209.6 566.3L214.2 564.1L218.7 561.9L223.2 559.7L227.6 557.4L231.9 554.8L236 552L240.1 549.1L244.1 546L248.1 542.9L252 539.8L255.9 536.6L259.7 533.4L263.6 530.1L267.3 526.8L271.1 523.5L274.8 520.1L278.4 516.7L282.1 513.2L285.7 509.8L289.3 506.3L292.9 502.7L296.5 499.2L300 495.7L303.6 492.2L307.1 488.6L310.6 485L314.1 481.4L317.6 477.8L321 474.1L324.4 470.4L327.9 466.8L331.4 463.2L334.9 459.7L338.6 456.3L342.3 453L346.1 449.6L349.9 446.3L353.6 443L357.6 441.1L362 441.1L366.9 441.1L372.1 441.1L378 441.1" stroke="#f01414" stroke-width="2.1"/>
<path d="M107.8 744.4L107.8 739.5L107.8 734.5L107.9 729.6L108 724.7L108.1 719.7L108.2 714.8L108.3 709.9L108.5 705L108.6 700L108.8 695.1L109.1 690.2L109.4 685.3L109.8 680.3L110.2 675.4L110.7 670.5L111.3 665.6L111.8 660.7L112.5 655.8L113.3 651L114.2 646.1L115.3 641.3L116.3 636.5L117.4 631.6L118.7 626.8L120.1 622L121.7 617.4L123.5 613L125.9 608.6L128.7 604.3L131.9 600.5L135.3 597.2L139.3 594.4L143.8 592L148.2 589.9L152.8 588.2L157.5 586.6L162.2 585.1L166.9 583.5L171.6 581.9L176.2 580.1L180.8 578.4L185.4 576.6L190 574.7L194.4 572.6L198.7 570.2L203 567.7L207.2 565.2L211.5 562.7L215.7 560.2L220 557.8L224.3 555.2L228.5 552.6L232.5 549.9L236.5 547L240.4 543.9L244.2 540.8L248.1 537.7L251.8 534.5L255.6 531.3L259.3 528.1L262.9 524.8L266.6 521.4L270.2 518.1L273.8 514.8L277.4 511.4L281 508L284.6 504.6L288.2 501.2L291.7 497.7L295.1 494.2L298.6 490.7L301.9 487.1L305.3 483.5L308.7 479.9L312.1 476.3L315.5 472.8L318.9 469.2L322.3 465.6L325.7 462.1L329.1 458.5L332.5 454.9L335.8 450.9L339 446.2L342.4 442.4L346.2 441.1L350.5 441.1L355.2 441.1L360.4 441.1L366 441.1" stroke="#128a12" stroke-width="1.8"/>
<path d="M107.8 744.4L107.8 739.5L107.8 734.6L107.9 729.7L108 724.7L108.1 719.8L108.1 714.9L108.3 710L108.4 705.1L108.5 700.2L108.7 695.3L108.8 690.4L109.1 685.5L109.4 680.6L109.8 675.7L110.2 670.8L110.7 665.9L111.1 661L111.7 656.1L112.3 651.3L113.1 646.4L114.1 641.6L115.1 636.7L116.1 632L117.3 627.1L118.5 622.3L120 617.5L121.6 612.9L123.5 608.6L126 604.3L128.9 600.1L132.2 596.4L135.7 593.2L139.8 590.5L144.2 588.2L148.7 586.2L153.3 584.5L157.9 582.9L162.6 581.3L167.3 579.7L171.9 578L176.5 576.3L181.1 574.5L185.6 572.6L190.1 570.6L194.5 568.5L198.7 566L202.9 563.4L207.1 560.8L211.3 558.2L215.5 555.8L219.8 553.3L224.1 550.8L228.2 548.2L232.2 545.4L236.2 542.5L240 539.5L243.8 536.3L247.6 533.1L251.3 530L255.1 526.8L258.7 523.5L262.4 520.2L266 516.9L269.6 513.6L273.2 510.2L276.7 506.8L280.2 503.3L283.6 499.8L287.1 496.3L290.5 492.8L293.9 489.2L297.3 485.7L300.7 482.1L304 478.5L307.4 475L310.8 471.4L314.2 467.9L317.7 464.4L321.2 461L324.7 457.5L328.2 454.1L331.6 450.6L335 446.8L338.3 442.4L342.1 441.1L346.4 441.1L351.1 441.1L356.3 441.1L362 441.1" stroke="#128a12" stroke-width="1.8"/>
<path d="M123.1 601L124.8 598.2L126.7 595.6L128.8 593.2L131 591.1L133.6 589.3L136.4 587.6L139.2 586.1L142 584.6L144.9 583.2L147.8 581.8L150.7 580.6L153.6 579.3L156.6 578.2L159.6 577.1L162.6 576.1L165.6 575L168.6 573.8L171.5 572.5L174.3 571.1L177.2 569.6L180 568.1L182.7 566.5L185.5 564.9L188.2 563.2L190.9 561.5L193.6 559.8L196.2 558L198.8 556.2L201.4 554.3L203.9 552.4L206.5 550.4L209 548.5L211.5 546.6L214.1 544.6L216.6 542.7L219.2 540.9L221.8 539L224.4 537.2L227 535.3L229.5 533.4L232 531.4L234.6 529.5L237.1 527.5L239.6 525.6L242.1 523.6L244.6 521.6L247 519.6L249.5 517.5L251.9 515.5L254.3 513.4L256.7 511.3L259.1 509.2L261.5 507.1L263.8 504.9L266.2 502.8L268.5 500.6L270.9 498.5L273.2 496.3L275.6 494.1L277.9 492L280.2 489.8L282.5 487.6L284.8 485.4L287.1 483.2L289.4 481L291.7 478.8L294 476.6L296.3 474.4L298.7 472.2L301 470L303.3 467.9L305.6 465.7L307.9 463.5L310.3 461.3L312.6 459.1L314.9 456.7L317.1 454L319.3 451.1L321.4 448.2L323.7 445.6L326 443.4L328.4 441.8L331 441.1L333.8 441.1L336.7 441.1L339.8 441.1L343.1 441.1L346.5 441.1L350 441.1" stroke="#0a0a0a" stroke-width="2.2"/>
<path d="M123.1 598L124.4 595.3L125.8 592.8L127.5 590.4L129.2 588.3L131.2 586.4L133.4 584.7L135.8 583L138.3 581.6L140.8 580.2L143.3 578.9L145.9 577.7L148.5 576.6L151.1 575.4L153.7 574.2L156.3 573.1L158.9 571.9L161.5 570.7L164.1 569.6L166.7 568.3L169.2 567L171.7 565.7L174.2 564.3L176.6 562.8L179.1 561.4L181.5 559.8L183.9 558.3L186.3 556.7L188.6 555.1L191 553.5L193.3 551.9L195.7 550.3L198 548.6L200.2 546.9L202.5 545.2L204.8 543.5L207 541.7L209.3 540L211.5 538.2L213.8 536.4L216 534.7L218.2 532.9L220.5 531.2L222.7 529.4L224.9 527.6L227.1 525.8L229.3 524L231.5 522.2L233.7 520.4L235.9 518.6L238.1 516.8L240.3 514.9L242.5 513.1L244.6 511.2L246.8 509.4L248.9 507.5L251.1 505.7L253.2 503.8L255.4 501.9L257.5 500L259.6 498.1L261.8 496.2L263.9 494.3L266 492.4L268.1 490.5L270.2 488.6L272.3 486.7L274.4 484.7L276.5 482.8L278.5 480.9L280.6 478.9L282.7 476.9L284.7 475L286.8 473L288.9 471L290.9 469.1L292.9 467.1L295 465.1L297 463.1L299 461.1L301 459.1L303.1 457.1L305.1 455.1L307.1 453L309.1 451L311.1 449L313.2 447L315.2 445.1L317.3 443.1L319.3 441.1" stroke="#0a0a0a" stroke-width="2.8"/>
<path d="M319.3 441.1L319.3 441.1L319.4 441.1L319.4 441.1L319.5 441.1L319.5 441.1L319.6 441.1L319.6 441.1L319.7 441.1L319.7 441.1L319.8 441.1L319.8 441.1L319.9 441.1L319.9 441.1L320 441.1L320 441.1L320.1 441.1L320.1 441.1L320.1 441.1L320.2 441.1L320.2 441.1L320.3 441.1L320.3 441.1L320.4 441.1L320.4 441.1L320.5 441.1L320.5 441.1L320.6 441.1L320.6 441.1L320.7 441.1L320.7 441.1L320.8 441.1L320.8 441.1L320.9 441.1L320.9 441.1L321 441.1L321 441.1L321 441.1L321.1 441.1L321.1 441.1L321.2 441.1L321.2 441.1L321.3 441.1L321.3 441.1L321.4 441.1L321.4 441.1L321.5 441.1L321.5 441.1L321.6 441.1L321.6 441.1L321.7 441.1L321.7 441.1L321.8 441.1L321.8 441.1L321.8 441.1L321.9 441.1L321.9 441.1L322 441.1L322 441.1L322.1 441.1L322.1 441.1L322.2 441.1L322.2 441.1L322.3 441.1L322.3 441.1L322.4 441.1L322.4 441.1L322.5 441.1L322.5 441.1L322.6 441.1L322.6 441.1L322.7 441.1L322.7 441.1L322.7 441.1L322.8 441.1L322.8 441.1L322.9 441.1L322.9 441.1L323 441.1L323 441.1L323.1 441.1L323.1 441.1L323.2 441.1L323.2 441.1L323.3 441.1L323.3 441.1L323.4 441.1L323.4 441.1L323.5 441.1L323.5 441.1" stroke="#0a0a0a" stroke-width="2.6"/>
</g>
<path d="M108.2 712L108.8 690L109.6 668L111.5 646L114.5 626L118.5 611L123.3 600" fill="none" stroke="#0a0a0a" stroke-width="2.3" stroke-dasharray="0.1 3.6" stroke-linecap="round"/>
<path d="M109.6 700L110.4 678L112.4 656L115.6 636L119.8 619L124.6 605" fill="none" stroke="#0a0a0a" stroke-width="2.0" stroke-dasharray="0.1 3.6" stroke-linecap="round"/>
<rect x="107.3" y="420.9" width="356" height="323.5" fill="none" stroke="#333" stroke-width="1.2"/>
<line x1="107.3" y1="744.4" x2="107.3" y2="749.4" stroke="#333" stroke-width="1.2"/>
<text x="107.3" y="769" font-size="20" font-family="DejaVu Sans, Liberation Sans, sans-serif" fill="#222" text-anchor="middle">0</text>
<line x1="178.5" y1="744.4" x2="178.5" y2="749.4" stroke="#333" stroke-width="1.2"/>
<text x="178.5" y="769" font-size="20" font-family="DejaVu Sans, Liberation Sans, sans-serif" fill="#222" text-anchor="middle">5</text>
<line x1="249.7" y1="744.4" x2="249.7" y2="749.4" stroke="#333" stroke-width="1.2"/>
<text x="249.7" y="769" font-size="20" font-family="DejaVu Sans, Liberation Sans, sans-serif" fill="#222" text-anchor="middle">10</text>
<line x1="320.9" y1="744.4" x2="320.9" y2="749.4" stroke="#333" stroke-width="1.2"/>
<text x="320.9" y="769" font-size="20" font-family="DejaVu Sans, Liberation Sans, sans-serif" fill="#222" text-anchor="middle">15</text>
<line x1="392.1" y1="744.4" x2="392.1" y2="749.4" stroke="#333" stroke-width="1.2"/>
<text x="392.1" y="769" font-size="20" font-family="DejaVu Sans, Liberation Sans, sans-serif" fill="#222" text-anchor="middle">20</text>
<line x1="463.3" y1="744.4" x2="463.3" y2="749.4" stroke="#333" stroke-width="1.2"/>
<text x="463.3" y="769" font-size="20" font-family="DejaVu Sans, Liberation Sans, sans-serif" fill="#222" text-anchor="middle">25</text>
<line x1="102.3" y1="744.4" x2="107.3" y2="744.4" stroke="#333" stroke-width="1.2"/>
<text x="97.5" y="751.8" font-size="20" font-family="DejaVu Sans, Liberation Sans, sans-serif" fill="#222" text-anchor="end">2.80</text>
<line x1="102.3" y1="679.7" x2="107.3" y2="679.7" stroke="#333" stroke-width="1.2"/>
<text x="97.5" y="687.1" font-size="20" font-family="DejaVu Sans, Liberation Sans, sans-serif" fill="#222" text-anchor="end">3.12</text>
<line x1="102.3" y1="615" x2="107.3" y2="615" stroke="#333" stroke-width="1.2"/>
<text x="97.5" y="622.4" font-size="20" font-family="DejaVu Sans, Liberation Sans, sans-serif" fill="#222" text-anchor="end">3.44</text>
<line x1="102.3" y1="550.3" x2="107.3" y2="550.3" stroke="#333" stroke-width="1.2"/>
<text x="97.5" y="557.7" font-size="20" font-family="DejaVu Sans, Liberation Sans, sans-serif" fill="#222" text-anchor="end">3.76</text>
<line x1="102.3" y1="485.6" x2="107.3" y2="485.6" stroke="#333" stroke-width="1.2"/>
<text x="97.5" y="493" font-size="20" font-family="DejaVu Sans, Liberation Sans, sans-serif" fill="#222" text-anchor="end">4.08</text>
<line x1="102.3" y1="420.9" x2="107.3" y2="420.9" stroke="#333" stroke-width="1.2"/>
<text x="97.5" y="428.3" font-size="20" font-family="DejaVu Sans, Liberation Sans, sans-serif" fill="#222" text-anchor="end">4.40</text>
<text x="285.5" y="799" font-size="27" font-family="DejaVu Sans, Liberation Sans, sans-serif" fill="#222" text-anchor="middle">Capacity (mAh)</text>
<text x="38.5" y="582" font-size="27" font-family="DejaVu Sans, Liberation Sans, sans-serif" fill="#222" text-anchor="middle" transform="rotate(-90 38.5 582)">E<tspan font-size="19" dy="5" font-style="italic">we</tspan><tspan dy="-5"> (V)</tspan></text>
<rect x="107.6" y="349.2" width="356" height="63.4" rx="4" ry="4" fill="#fcfdfa" stroke="#e4e6e2" stroke-width="1.2"/>
<line x1="114.5" y1="364.4" x2="136.3" y2="364.4" stroke="#0808e8" stroke-width="2"/>
<line x1="114.5" y1="394.6" x2="136.3" y2="394.6" stroke="#f01414" stroke-width="2"/>
<line x1="351.8" y1="364.4" x2="373.4" y2="364.4" stroke="#128a12" stroke-width="2"/>
<line x1="352.5" y1="394.6" x2="372.5" y2="394.6" stroke="#0a0a0a" stroke-width="2" stroke-dasharray="8.2 3.6"/>
<text x="152" y="372" font-size="20" font-family="DejaVu Sans, Liberation Sans, sans-serif" fill="#222">2 x C/10</text>
<text x="152" y="402" font-size="20" font-family="DejaVu Sans, Liberation Sans, sans-serif" fill="#222">2 x C/2</text>
<text x="390.4" y="372" font-size="20" font-family="DejaVu Sans, Liberation Sans, sans-serif" fill="#222">2 x C</text>
<text x="390.4" y="402" font-size="20" font-family="DejaVu Sans, Liberation Sans, sans-serif" fill="#222">4 x 2C</text>
<defs><clipPath id="mclip"><rect x="545" y="429.8" width="305.4" height="323"/></clipPath></defs>
<rect x="545" y="429.8" width="305.4" height="323" fill="#eaf2fb"/>
<g clip-path="url(#mclip)" stroke-linejoin="round">
<g fill="none" stroke="#3a9aee" stroke-width="1.45">
<path d="M545 606.1L547 606.4L549.1 606.7L551.1 607L553.2 607.3L555.2 607.6L557.3 607.9L559.3 608.2L561.4 608.4L563.4 608.7L565.5 608.9L567.5 609.2L569.6 609.4L571.6 609.6L573.7 609.8L575.7 609.9L577.8 610L579.8 610L581.9 610L583.9 609.8L586 609.5L588 609.1L590.1 608.6L592.1 607.9L594.2 607.1L596.2 606.3L598.3 605.5L600.3 604.8L602.4 604.3L604.4 604L606.5 604.1L608.5 604.4L610.6 605L612.6 605.9L614.7 606.9L616.7 608L618.8 609.1L620.8 610.1L622.9 611L624.9 611.8L627 612.5L629 613L631.1 613.4L633.1 613.7L635.2 614L637.2 614.1L639.3 614.3L641.3 614.4L643.4 614.5L645.4 614.6L647.5 614.7L649.5 614.8L651.6 614.9L653.6 615L655.7 615L657.7 615.1L659.8 615.2L661.8 615.3L663.9 615.3L665.9 615.4L668 615.5L670 615.5L672.1 615.6L674.1 615.7L676.2 615.7L678.2 615.8L680.3 615.9L682.3 615.9L684.4 616L686.4 616.1L688.5 616.1L690.5 616.2L692.6 616.2L694.6 616.3L696.7 616.4L698.7 616.4L700.8 616.5L702.8 616.5L704.9 616.6L706.9 616.6L709 616.7L711 616.7L713.1 616.8L715.1 616.8L717.2 616.9L719.2 616.9L721.3 617L723.3 617L725.4 617.1L727.4 617.1L729.5 617.2L731.5 617.2L733.6 617.3L735.6 617.3L737.7 617.4L739.7 617.4L741.8 617.5L743.8 617.5L745.9 617.6L747.9 617.6L750 617.7L752 617.7L754.1 617.8L756.1 617.8L758.2 617.8L760.2 617.9L762.3 617.9L764.3 618L766.4 618L768.4 618.1L770.5 618.1L772.5 618.1L774.6 618.2L776.6 618.2L778.7 618.3L780.7 618.3L782.8 618.4L784.8 618.4L786.9 618.4L788.9 618.5L791 618.5L793 618.6L795.1 618.6L797.1 618.7L799.2 618.7L801.2 618.7L803.3 618.8L805.3 618.8L807.4 618.9L809.4 618.9L811.5 618.9L813.5 619L815.6 619L817.6 619.1L819.7 619.1L821.7 619.1L823.8 619.2L825.8 619.2L827.9 619.3L829.9 619.3L832 619.3L834 619.4L836.1 619.4L838.1 619.5L840.2 619.5L842.2 619.5L844.3 619.6L846.3 619.6L848.4 619.7L850.4 619.7L850.4 750.5L848.4 750.4L846.3 750.3L844.3 750.2L842.2 750L840.2 749.7L838.1 749.3L836.1 748.8L834 748.1L832 747.3L829.9 746.3L827.9 745.2L825.8 744.1L823.8 742.9L821.7 741.9L819.7 741L817.6 740.4L815.6 740.1L813.5 740.2L811.5 740.6L809.4 741.3L807.4 742.2L805.3 743.2L803.3 744.3L801.2 745.3L799.2 746.3L797.1 747L795.1 747.7L793 748.1L791 748.5L788.9 748.7L786.9 748.8L784.8 748.9L782.8 749L780.7 748.9L778.7 748.9L776.6 748.9L774.6 748.9L772.5 748.8L770.5 748.8L768.4 748.7L766.4 748.7L764.3 748.6L762.3 748.6L760.2 748.5L758.2 748.5L756.1 748.4L754.1 748.4L752 748.3L750 748.3L747.9 748.2L745.9 748.2L743.8 748.1L741.8 748.1L739.7 748L737.7 747.9L735.6 747.9L733.6 747.8L731.5 747.8L729.5 747.7L727.4 747.7L725.4 747.6L723.3 747.6L721.3 747.5L719.2 747.4L717.2 747.4L715.1 747.3L713.1 747.3L711 747.2L709 747.2L706.9 747.1L704.9 747L702.8 747L700.8 746.9L698.7 746.8L696.7 746.8L694.6 746.7L692.6 746.6L690.5 746.6L688.5 746.5L686.4 746.4L684.4 746.4L682.3 746.3L680.3 746.2L678.2 746.2L676.2 746.1L674.1 746L672.1 745.9L670 745.9L668 745.8L665.9 745.7L663.9 745.6L661.8 745.5L659.8 745.5L657.7 745.4L655.7 745.3L653.6 745.2L651.6 745.1L649.5 745L647.5 744.9L645.4 744.8L643.4 744.7L641.3 744.6L639.3 744.5L637.2 744.4L635.2 744.3L633.1 744.2L631.1 744.1L629 744L627 743.8L624.9 743.7L622.9 743.6L620.8 743.5L618.8 743.3L616.7 743.2L614.7 743.1L612.6 742.9L610.6 742.8L608.5 742.6L606.5 742.5L604.4 742.3L602.4 742.2L600.3 742L598.3 741.8L596.2 741.7L594.2 741.5L592.1 741.3L590.1 741.1L588 740.9L586 740.7L583.9 740.5L581.9 740.3L579.8 740.1L577.8 739.9L575.7 739.6L573.7 739.4L571.6 739.1L569.6 738.9L567.5 738.6L565.5 738.3L563.4 738.1L561.4 737.8L559.3 737.5L557.3 737.2L555.2 736.9L553.2 736.5L551.1 736.2L549.1 735.8L547 735.5L545 735.1Z" fill="#e2f3fe" stroke="none"/>
<path d="M545 735.1L547 735.5L549.1 735.8L551.1 736.2L553.2 736.5L555.2 736.9L557.3 737.2L559.3 737.5L561.4 737.8L563.4 738.1L565.5 738.3L567.5 738.6L569.6 738.9L571.6 739.1L573.7 739.4L575.7 739.6L577.8 739.9L579.8 740.1L581.9 740.3L583.9 740.5L586 740.7L588 740.9L590.1 741.1L592.1 741.3L594.2 741.5L596.2 741.7L598.3 741.8L600.3 742L602.4 742.2L604.4 742.3L606.5 742.5L608.5 742.6L610.6 742.8L612.6 742.9L614.7 743.1L616.7 743.2L618.8 743.3L620.8 743.5L622.9 743.6L624.9 743.7L627 743.8L629 744L631.1 744.1L633.1 744.2L635.2 744.3L637.2 744.4L639.3 744.5L641.3 744.6L643.4 744.7L645.4 744.8L647.5 744.9L649.5 745L651.6 745.1L653.6 745.2L655.7 745.3L657.7 745.4L659.8 745.5L661.8 745.5L663.9 745.6L665.9 745.7L668 745.8L670 745.9L672.1 745.9L674.1 746L676.2 746.1L678.2 746.2L680.3 746.2L682.3 746.3L684.4 746.4L686.4 746.4L688.5 746.5L690.5 746.6L692.6 746.6L694.6 746.7L696.7 746.8L698.7 746.8L700.8 746.9L702.8 747L704.9 747L706.9 747.1L709 747.2L711 747.2L713.1 747.3L715.1 747.3L717.2 747.4L719.2 747.4L721.3 747.5L723.3 747.6L725.4 747.6L727.4 747.7L729.5 747.7L731.5 747.8L733.6 747.8L735.6 747.9L737.7 747.9L739.7 748L741.8 748.1L743.8 748.1L745.9 748.2L747.9 748.2L750 748.3L752 748.3L754.1 748.4L756.1 748.4L758.2 748.5L760.2 748.5L762.3 748.6L764.3 748.6L766.4 748.7L768.4 748.7L770.5 748.8L772.5 748.8L774.6 748.9L776.6 748.9L778.7 748.9L780.7 748.9L782.8 749L784.8 748.9L786.9 748.8L788.9 748.7L791 748.5L793 748.1L795.1 747.7L797.1 747L799.2 746.3L801.2 745.3L803.3 744.3L805.3 743.2L807.4 742.2L809.4 741.3L811.5 740.6L813.5 740.2L815.6 740.1L817.6 740.4L819.7 741L821.7 741.9L823.8 742.9L825.8 744.1L827.9 745.2L829.9 746.3L832 747.3L834 748.1L836.1 748.8L838.1 749.3L840.2 749.7L842.2 750L844.3 750.2L846.3 750.3L848.4 750.4L850.4 750.5"/>
<path d="M545 731.9L547 732.2L549.1 732.6L551.1 733L553.2 733.3L555.2 733.6L557.3 733.9L559.3 734.2L561.4 734.5L563.4 734.8L565.5 735.1L567.5 735.4L569.6 735.6L571.6 735.9L573.7 736.1L575.7 736.4L577.8 736.6L579.8 736.8L581.9 737.1L583.9 737.3L586 737.5L588 737.7L590.1 737.9L592.1 738.1L594.2 738.2L596.2 738.4L598.3 738.6L600.3 738.8L602.4 738.9L604.4 739.1L606.5 739.2L608.5 739.4L610.6 739.5L612.6 739.7L614.7 739.8L616.7 740L618.8 740.1L620.8 740.2L622.9 740.3L624.9 740.5L627 740.6L629 740.7L631.1 740.8L633.1 740.9L635.2 741L637.2 741.2L639.3 741.3L641.3 741.4L643.4 741.5L645.4 741.6L647.5 741.7L649.5 741.7L651.6 741.8L653.6 741.9L655.7 742L657.7 742.1L659.8 742.2L661.8 742.3L663.9 742.4L665.9 742.4L668 742.5L670 742.6L672.1 742.7L674.1 742.8L676.2 742.8L678.2 742.9L680.3 743L682.3 743L684.4 743.1L686.4 743.2L688.5 743.3L690.5 743.3L692.6 743.4L694.6 743.5L696.7 743.5L698.7 743.6L700.8 743.6L702.8 743.7L704.9 743.8L706.9 743.8L709 743.9L711 744L713.1 744L715.1 744.1L717.2 744.1L719.2 744.2L721.3 744.2L723.3 744.3L725.4 744.4L727.4 744.4L729.5 744.5L731.5 744.5L733.6 744.6L735.6 744.6L737.7 744.7L739.7 744.7L741.8 744.8L743.8 744.8L745.9 744.9L747.9 744.9L750 745L752 745L754.1 745.1L756.1 745.1L758.2 745.2L760.2 745.2L762.3 745.3L764.3 745.3L766.4 745.3L768.4 745.3L770.5 745.2L772.5 745.1L774.6 744.9L776.6 744.7L778.7 744.3L780.7 743.9L782.8 743.5L784.8 743L786.9 742.6L788.9 742.1L791 741.8L793 741.4L795.1 741L797.1 740.6L799.2 740.1L801.2 739.5L803.3 738.9L805.3 738.3L807.4 737.8L809.4 737.6L811.5 737.5L813.5 737.8L815.6 738.3L817.6 739.1L819.7 740L821.7 741L823.8 742.1L825.8 743.1L827.9 744L829.9 744.8L832 745.4L834 745.9L836.1 746.3L838.1 746.6L840.2 746.8L842.2 747L844.3 747.1L846.3 747.2L848.4 747.2L850.4 747.3"/>
<path d="M545 728.6L547 729L549.1 729.4L551.1 729.7L553.2 730.1L555.2 730.4L557.3 730.7L559.3 731L561.4 731.3L563.4 731.6L565.5 731.9L567.5 732.1L569.6 732.4L571.6 732.7L573.7 732.9L575.7 733.1L577.8 733.4L579.8 733.6L581.9 733.8L583.9 734L586 734.2L588 734.4L590.1 734.6L592.1 734.8L594.2 735L596.2 735.2L598.3 735.3L600.3 735.5L602.4 735.7L604.4 735.8L606.5 736L608.5 736.1L610.6 736.3L612.6 736.4L614.7 736.6L616.7 736.7L618.8 736.8L620.8 737L622.9 737.1L624.9 737.2L627 737.3L629 737.5L631.1 737.6L633.1 737.7L635.2 737.8L637.2 737.9L639.3 738L641.3 738.1L643.4 738.2L645.4 738.3L647.5 738.4L649.5 738.5L651.6 738.6L653.6 738.7L655.7 738.8L657.7 738.9L659.8 738.9L661.8 739L663.9 739.1L665.9 739.2L668 739.3L670 739.3L672.1 739.4L674.1 739.5L676.2 739.6L678.2 739.6L680.3 739.7L682.3 739.8L684.4 739.9L686.4 739.9L688.5 740L690.5 740.1L692.6 740.1L694.6 740.2L696.7 740.3L698.7 740.3L700.8 740.4L702.8 740.4L704.9 740.5L706.9 740.6L709 740.6L711 740.7L713.1 740.7L715.1 740.8L717.2 740.9L719.2 740.9L721.3 741L723.3 741L725.4 741.1L727.4 741.1L729.5 741.2L731.5 741.3L733.6 741.3L735.6 741.4L737.7 741.4L739.7 741.5L741.8 741.5L743.8 741.5L745.9 741.6L747.9 741.6L750 741.5L752 741.5L754.1 741.4L756.1 741.2L758.2 741.1L760.2 740.9L762.3 740.7L764.3 740.5L766.4 740.3L768.4 740L770.5 739.7L772.5 739.3L774.6 738.7L776.6 737.8L778.7 736.7L780.7 735.4L782.8 734L784.8 732.8L786.9 731.9L788.9 731.4L791 731.4L793 731.9L795.1 732.8L797.1 733.9L799.2 735L801.2 736.1L803.3 736.9L805.3 737.4L807.4 737.7L809.4 737.8L811.5 737.8L813.5 737.8L815.6 738L817.6 738.2L819.7 738.6L821.7 739.1L823.8 739.7L825.8 740.3L827.9 740.9L829.9 741.5L832 742.1L834 742.5L836.1 742.9L838.1 743.2L840.2 743.5L842.2 743.6L844.3 743.8L846.3 743.9L848.4 743.9L850.4 744"/>
<path d="M545 725.4L547 725.8L549.1 726.2L551.1 726.5L553.2 726.8L555.2 727.2L557.3 727.5L559.3 727.8L561.4 728.1L563.4 728.4L565.5 728.6L567.5 728.9L569.6 729.2L571.6 729.4L573.7 729.7L575.7 729.9L577.8 730.1L579.8 730.4L581.9 730.6L583.9 730.8L586 731L588 731.2L590.1 731.4L592.1 731.6L594.2 731.8L596.2 731.9L598.3 732.1L600.3 732.3L602.4 732.4L604.4 732.6L606.5 732.7L608.5 732.9L610.6 733L612.6 733.2L614.7 733.3L616.7 733.5L618.8 733.6L620.8 733.7L622.9 733.8L624.9 734L627 734.1L629 734.2L631.1 734.3L633.1 734.4L635.2 734.5L637.2 734.6L639.3 734.7L641.3 734.9L643.4 735L645.4 735L647.5 735.1L649.5 735.2L651.6 735.3L653.6 735.4L655.7 735.5L657.7 735.6L659.8 735.7L661.8 735.8L663.9 735.8L665.9 735.9L668 736L670 736.1L672.1 736.2L674.1 736.2L676.2 736.3L678.2 736.4L680.3 736.5L682.3 736.5L684.4 736.6L686.4 736.7L688.5 736.7L690.5 736.8L692.6 736.9L694.6 736.9L696.7 737L698.7 737.1L700.8 737.1L702.8 737.2L704.9 737.2L706.9 737.3L709 737.4L711 737.4L713.1 737.5L715.1 737.5L717.2 737.6L719.2 737.7L721.3 737.7L723.3 737.8L725.4 737.8L727.4 737.8L729.5 737.9L731.5 737.9L733.6 737.9L735.6 737.9L737.7 737.8L739.7 737.8L741.8 737.7L743.8 737.6L745.9 737.5L747.9 737.3L750 737L752 736.6L754.1 735.9L756.1 735.2L758.2 734.2L760.2 733.2L762.3 732.3L764.3 731.5L766.4 730.9L768.4 730.7L770.5 730.8L772.5 731.1L774.6 731.4L776.6 731.8L778.7 731.9L780.7 731.9L782.8 731.7L784.8 731.4L786.9 731.1L788.9 731.1L791 731.3L793 731.9L795.1 732.6L797.1 733.6L799.2 734.5L801.2 735.4L803.3 736.1L805.3 736.6L807.4 737L809.4 737.2L811.5 737.4L813.5 737.5L815.6 737.6L817.6 737.7L819.7 737.9L821.7 738.2L823.8 738.5L825.8 738.8L827.9 739.1L829.9 739.4L832 739.7L834 739.9L836.1 740.1L838.1 740.2L840.2 740.4L842.2 740.5L844.3 740.6L846.3 740.6L848.4 740.7L850.4 740.7"/>
<path d="M545 722.2L547 722.6L549.1 722.9L551.1 723.3L553.2 723.6L555.2 723.9L557.3 724.2L559.3 724.6L561.4 724.8L563.4 725.1L565.5 725.4L567.5 725.7L569.6 725.9L571.6 726.2L573.7 726.4L575.7 726.7L577.8 726.9L579.8 727.1L581.9 727.3L583.9 727.5L586 727.8L588 727.9L590.1 728.1L592.1 728.3L594.2 728.5L596.2 728.7L598.3 728.9L600.3 729L602.4 729.2L604.4 729.3L606.5 729.5L608.5 729.6L610.6 729.8L612.6 729.9L614.7 730.1L616.7 730.2L618.8 730.3L620.8 730.5L622.9 730.6L624.9 730.7L627 730.8L629 731L631.1 731.1L633.1 731.2L635.2 731.3L637.2 731.4L639.3 731.5L641.3 731.6L643.4 731.7L645.4 731.8L647.5 731.9L649.5 732L651.6 732.1L653.6 732.2L655.7 732.3L657.7 732.3L659.8 732.4L661.8 732.5L663.9 732.6L665.9 732.7L668 732.7L670 732.8L672.1 732.9L674.1 733L676.2 733.1L678.2 733.1L680.3 733.2L682.3 733.3L684.4 733.3L686.4 733.4L688.5 733.5L690.5 733.5L692.6 733.6L694.6 733.7L696.7 733.7L698.7 733.8L700.8 733.9L702.8 733.9L704.9 734L706.9 734L709 734.1L711 734.2L713.1 734.2L715.1 734.3L717.2 734.3L719.2 734.4L721.3 734.4L723.3 734.4L725.4 734.3L727.4 734.2L729.5 734L731.5 733.8L733.6 733.4L735.6 733L737.7 732.5L739.7 731.9L741.8 731.4L743.8 731L745.9 730.6L747.9 730.4L750 730.1L752 729.9L754.1 729.6L756.1 729.1L758.2 728.5L760.2 727.8L762.3 727.1L764.3 726.5L766.4 726.1L768.4 726.1L770.5 726.5L772.5 727.2L774.6 728L776.6 729L778.7 729.8L780.7 730.5L782.8 730.9L784.8 731.3L786.9 731.5L788.9 731.7L791 732L793 732.4L795.1 732.9L797.1 733.4L799.2 734L801.2 734.5L803.3 735L805.3 735.4L807.4 735.6L809.4 735.8L811.5 736L813.5 736.1L815.6 736.2L817.6 736.2L819.7 736.3L821.7 736.4L823.8 736.5L825.8 736.6L827.9 736.7L829.9 736.8L832 736.9L834 737L836.1 737.1L838.1 737.2L840.2 737.2L842.2 737.3L844.3 737.3L846.3 737.4L848.4 737.4L850.4 737.5"/>
<path d="M545 719L547 719.3L549.1 719.7L551.1 720L553.2 720.4L555.2 720.7L557.3 721L559.3 721.3L561.4 721.6L563.4 721.9L565.5 722.2L567.5 722.4L569.6 722.7L571.6 722.9L573.7 723.2L575.7 723.4L577.8 723.7L579.8 723.9L581.9 724.1L583.9 724.3L586 724.5L588 724.7L590.1 724.9L592.1 725.1L594.2 725.3L596.2 725.4L598.3 725.6L600.3 725.8L602.4 725.9L604.4 726.1L606.5 726.3L608.5 726.4L610.6 726.5L612.6 726.7L614.7 726.8L616.7 727L618.8 727.1L620.8 727.2L622.9 727.3L624.9 727.5L627 727.6L629 727.7L631.1 727.8L633.1 727.9L635.2 728L637.2 728.1L639.3 728.2L641.3 728.3L643.4 728.4L645.4 728.5L647.5 728.6L649.5 728.7L651.6 728.8L653.6 728.9L655.7 729L657.7 729.1L659.8 729.2L661.8 729.3L663.9 729.3L665.9 729.4L668 729.5L670 729.6L672.1 729.6L674.1 729.7L676.2 729.8L678.2 729.9L680.3 729.9L682.3 730L684.4 730.1L686.4 730.1L688.5 730.2L690.5 730.3L692.6 730.3L694.6 730.4L696.7 730.5L698.7 730.5L700.8 730.6L702.8 730.7L704.9 730.7L706.9 730.8L709 730.8L711 730.9L713.1 731L715.1 731L717.2 731L719.2 731L721.3 731L723.3 730.9L725.4 730.8L727.4 730.5L729.5 730L731.5 729.4L733.6 728.5L735.6 727.5L737.7 726.3L739.7 725.1L741.8 724.1L743.8 723.2L745.9 722.6L747.9 722.4L750 722.5L752 722.9L754.1 723.4L756.1 723.9L758.2 724.2L760.2 724.5L762.3 724.6L764.3 724.8L766.4 724.9L768.4 725.2L770.5 725.7L772.5 726.4L774.6 727.2L776.6 728L778.7 728.8L780.7 729.5L782.8 730L784.8 730.4L786.9 730.7L788.9 730.9L791 731.2L793 731.4L795.1 731.7L797.1 731.9L799.2 732.2L801.2 732.5L803.3 732.7L805.3 732.9L807.4 733.1L809.4 733.2L811.5 733.3L813.5 733.4L815.6 733.4L817.6 733.5L819.7 733.5L821.7 733.6L823.8 733.6L825.8 733.7L827.9 733.7L829.9 733.8L832 733.8L834 733.9L836.1 733.9L838.1 733.9L840.2 734L842.2 734L844.3 734.1L846.3 734.1L848.4 734.2L850.4 734.2"/>
<path d="M545 715.7L547 716.1L549.1 716.5L551.1 716.8L553.2 717.1L555.2 717.5L557.3 717.8L559.3 718.1L561.4 718.4L563.4 718.7L565.5 718.9L567.5 719.2L569.6 719.5L571.6 719.7L573.7 720L575.7 720.2L577.8 720.4L579.8 720.6L581.9 720.9L583.9 721.1L586 721.3L588 721.5L590.1 721.7L592.1 721.8L594.2 722L596.2 722.2L598.3 722.4L600.3 722.5L602.4 722.7L604.4 722.9L606.5 723L608.5 723.2L610.6 723.3L612.6 723.4L614.7 723.6L616.7 723.7L618.8 723.8L620.8 724L622.9 724.1L624.9 724.2L627 724.3L629 724.4L631.1 724.6L633.1 724.7L635.2 724.8L637.2 724.9L639.3 725L641.3 725.1L643.4 725.2L645.4 725.3L647.5 725.4L649.5 725.5L651.6 725.6L653.6 725.7L655.7 725.7L657.7 725.8L659.8 725.9L661.8 726L663.9 726.1L665.9 726.2L668 726.2L670 726.3L672.1 726.4L674.1 726.5L676.2 726.5L678.2 726.6L680.3 726.7L682.3 726.8L684.4 726.8L686.4 726.9L688.5 727L690.5 727L692.6 727.1L694.6 727.2L696.7 727.2L698.7 727.3L700.8 727.3L702.8 727.4L704.9 727.5L706.9 727.5L709 727.6L711 727.6L713.1 727.7L715.1 727.7L717.2 727.8L719.2 727.8L721.3 727.7L723.3 727.6L725.4 727.4L727.4 727L729.5 726.5L731.5 725.7L733.6 724.6L735.6 723.3L737.7 721.9L739.7 720.5L741.8 719.2L743.8 718.2L745.9 717.6L747.9 717.4L750 717.8L752 718.5L754.1 719.5L756.1 720.6L758.2 721.7L760.2 722.6L762.3 723.4L764.3 724L766.4 724.5L768.4 725L770.5 725.5L772.5 726L774.6 726.5L776.6 727L778.7 727.5L780.7 728L782.8 728.3L784.8 728.6L786.9 728.8L788.9 729L791 729.1L793 729.3L795.1 729.4L797.1 729.5L799.2 729.6L801.2 729.7L803.3 729.8L805.3 729.9L807.4 730L809.4 730L811.5 730.1L813.5 730.1L815.6 730.2L817.6 730.2L819.7 730.3L821.7 730.3L823.8 730.4L825.8 730.4L827.9 730.5L829.9 730.5L832 730.5L834 730.6L836.1 730.6L838.1 730.7L840.2 730.7L842.2 730.8L844.3 730.8L846.3 730.8L848.4 730.9L850.4 730.9"/>
<path d="M545 712.5L547 712.9L549.1 713.2L551.1 713.6L553.2 713.9L555.2 714.2L557.3 714.6L559.3 714.9L561.4 715.1L563.4 715.4L565.5 715.7L567.5 716L569.6 716.2L571.6 716.5L573.7 716.7L575.7 717L577.8 717.2L579.8 717.4L581.9 717.6L583.9 717.8L586 718L588 718.2L590.1 718.4L592.1 718.6L594.2 718.8L596.2 719L598.3 719.1L600.3 719.3L602.4 719.4L604.4 719.6L606.5 719.8L608.5 719.9L610.6 720L612.6 720.2L614.7 720.3L616.7 720.5L618.8 720.6L620.8 720.7L622.9 720.8L624.9 721L627 721.1L629 721.2L631.1 721.3L633.1 721.4L635.2 721.5L637.2 721.6L639.3 721.7L641.3 721.8L643.4 721.9L645.4 722L647.5 722.1L649.5 722.2L651.6 722.3L653.6 722.4L655.7 722.5L657.7 722.6L659.8 722.7L661.8 722.7L663.9 722.8L665.9 722.9L668 723L670 723.1L672.1 723.1L674.1 723.2L676.2 723.3L678.2 723.3L680.3 723.4L682.3 723.5L684.4 723.6L686.4 723.6L688.5 723.7L690.5 723.8L692.6 723.8L694.6 723.9L696.7 724L698.7 724L700.8 724.1L702.8 724.1L704.9 724.2L706.9 724.3L709 724.3L711 724.4L713.1 724.4L715.1 724.5L717.2 724.5L719.2 724.5L721.3 724.5L723.3 724.3L725.4 724.1L727.4 723.7L729.5 723.1L731.5 722.2L733.6 721.1L735.6 719.8L737.7 718.3L739.7 716.8L741.8 715.4L743.8 714.4L745.9 713.7L747.9 713.7L750 714.1L752 715.1L754.1 716.4L756.1 717.8L758.2 719.2L760.2 720.6L762.3 721.7L764.3 722.5L766.4 723.2L768.4 723.8L770.5 724.2L772.5 724.6L774.6 724.9L776.6 725.2L778.7 725.4L780.7 725.7L782.8 725.9L784.8 726L786.9 726.1L788.9 726.2L791 726.3L793 726.4L795.1 726.4L797.1 726.5L799.2 726.5L801.2 726.6L803.3 726.6L805.3 726.7L807.4 726.7L809.4 726.8L811.5 726.8L813.5 726.9L815.6 726.9L817.6 727L819.7 727L821.7 727L823.8 727.1L825.8 727.1L827.9 727.2L829.9 727.2L832 727.3L834 727.3L836.1 727.4L838.1 727.4L840.2 727.4L842.2 727.5L844.3 727.5L846.3 727.6L848.4 727.6L850.4 727.7"/>
<path d="M545 709.3L547 709.7L549.1 710L551.1 710.4L553.2 710.7L555.2 711L557.3 711.3L559.3 711.6L561.4 711.9L563.4 712.2L565.5 712.5L567.5 712.7L569.6 713L571.6 713.2L573.7 713.5L575.7 713.7L577.8 713.9L579.8 714.2L581.9 714.4L583.9 714.6L586 714.8L588 715L590.1 715.2L592.1 715.4L594.2 715.5L596.2 715.7L598.3 715.9L600.3 716L602.4 716.2L604.4 716.4L606.5 716.5L608.5 716.7L610.6 716.8L612.6 716.9L614.7 717.1L616.7 717.2L618.8 717.3L620.8 717.5L622.9 717.6L624.9 717.7L627 717.8L629 717.9L631.1 718.1L633.1 718.2L635.2 718.3L637.2 718.4L639.3 718.5L641.3 718.6L643.4 718.7L645.4 718.8L647.5 718.9L649.5 719L651.6 719.1L653.6 719.1L655.7 719.2L657.7 719.3L659.8 719.4L661.8 719.5L663.9 719.6L665.9 719.6L668 719.7L670 719.8L672.1 719.9L674.1 719.9L676.2 720L678.2 720.1L680.3 720.2L682.3 720.2L684.4 720.3L686.4 720.4L688.5 720.4L690.5 720.5L692.6 720.6L694.6 720.6L696.7 720.7L698.7 720.8L700.8 720.8L702.8 720.9L704.9 720.9L706.9 721L709 721.1L711 721.1L713.1 721.1L715.1 721.2L717.2 721.2L719.2 721.1L721.3 721L723.3 720.7L725.4 720.4L727.4 719.8L729.5 719L731.5 718L733.6 716.7L735.6 715.4L737.7 713.9L739.7 712.5L741.8 711.3L743.8 710.5L745.9 710.2L747.9 710.3L750 711L752 712.1L754.1 713.5L756.1 715L758.2 716.5L760.2 718L762.3 719.2L764.3 720.3L766.4 721L768.4 721.6L770.5 722.1L772.5 722.3L774.6 722.5L776.6 722.7L778.7 722.8L780.7 722.8L782.8 722.9L784.8 723L786.9 723L788.9 723.1L791 723.1L793 723.1L795.1 723.2L797.1 723.2L799.2 723.3L801.2 723.3L803.3 723.4L805.3 723.4L807.4 723.5L809.4 723.5L811.5 723.6L813.5 723.6L815.6 723.6L817.6 723.7L819.7 723.7L821.7 723.8L823.8 723.8L825.8 723.9L827.9 723.9L829.9 724L832 724L834 724L836.1 724.1L838.1 724.1L840.2 724.2L842.2 724.2L844.3 724.3L846.3 724.3L848.4 724.3L850.4 724.4"/>
<path d="M545 706.1L547 706.4L549.1 706.8L551.1 707.1L553.2 707.5L555.2 707.8L557.3 708.1L559.3 708.4L561.4 708.7L563.4 709L565.5 709.2L567.5 709.5L569.6 709.8L571.6 710L573.7 710.2L575.7 710.5L577.8 710.7L579.8 710.9L581.9 711.1L583.9 711.3L586 711.5L588 711.7L590.1 711.9L592.1 712.1L594.2 712.3L596.2 712.5L598.3 712.6L600.3 712.8L602.4 713L604.4 713.1L606.5 713.3L608.5 713.4L610.6 713.6L612.6 713.7L614.7 713.8L616.7 714L618.8 714.1L620.8 714.2L622.9 714.3L624.9 714.5L627 714.6L629 714.7L631.1 714.8L633.1 714.9L635.2 715L637.2 715.1L639.3 715.2L641.3 715.3L643.4 715.4L645.4 715.5L647.5 715.6L649.5 715.7L651.6 715.8L653.6 715.9L655.7 716L657.7 716.1L659.8 716.1L661.8 716.2L663.9 716.3L665.9 716.4L668 716.5L670 716.5L672.1 716.6L674.1 716.7L676.2 716.8L678.2 716.8L680.3 716.9L682.3 717L684.4 717L686.4 717.1L688.5 717.2L690.5 717.2L692.6 717.3L694.6 717.4L696.7 717.4L698.7 717.5L700.8 717.6L702.8 717.6L704.9 717.7L706.9 717.7L709 717.8L711 717.8L713.1 717.8L715.1 717.7L717.2 717.5L719.2 717.3L721.3 716.9L723.3 716.3L725.4 715.5L727.4 714.5L729.5 713.3L731.5 711.9L733.6 710.5L735.6 709.1L737.7 707.9L739.7 707L741.8 706.6L743.8 706.6L745.9 707.1L747.9 708.1L750 709.4L752 710.9L754.1 712.4L756.1 713.9L758.2 715.2L760.2 716.3L762.3 717.2L764.3 717.9L766.4 718.4L768.4 718.8L770.5 719.1L772.5 719.2L774.6 719.4L776.6 719.5L778.7 719.5L780.7 719.6L782.8 719.6L784.8 719.7L786.9 719.7L788.9 719.8L791 719.8L793 719.9L795.1 719.9L797.1 720L799.2 720L801.2 720.1L803.3 720.1L805.3 720.2L807.4 720.2L809.4 720.2L811.5 720.3L813.5 720.3L815.6 720.4L817.6 720.4L819.7 720.5L821.7 720.5L823.8 720.6L825.8 720.6L827.9 720.6L829.9 720.7L832 720.7L834 720.8L836.1 720.8L838.1 720.9L840.2 720.9L842.2 720.9L844.3 721L846.3 721L848.4 721.1L850.4 721.1"/>
<path d="M545 702.8L547 703.2L549.1 703.6L551.1 703.9L553.2 704.2L555.2 704.5L557.3 704.9L559.3 705.2L561.4 705.4L563.4 705.7L565.5 706L567.5 706.3L569.6 706.5L571.6 706.8L573.7 707L575.7 707.2L577.8 707.5L579.8 707.7L581.9 707.9L583.9 708.1L586 708.3L588 708.5L590.1 708.7L592.1 708.9L594.2 709L596.2 709.2L598.3 709.4L600.3 709.5L602.4 709.7L604.4 709.9L606.5 710L608.5 710.2L610.6 710.3L612.6 710.4L614.7 710.6L616.7 710.7L618.8 710.8L620.8 711L622.9 711.1L624.9 711.2L627 711.3L629 711.4L631.1 711.6L633.1 711.7L635.2 711.8L637.2 711.9L639.3 712L641.3 712.1L643.4 712.2L645.4 712.3L647.5 712.4L649.5 712.5L651.6 712.5L653.6 712.6L655.7 712.7L657.7 712.8L659.8 712.9L661.8 713L663.9 713L665.9 713.1L668 713.2L670 713.3L672.1 713.4L674.1 713.4L676.2 713.5L678.2 713.6L680.3 713.6L682.3 713.7L684.4 713.8L686.4 713.8L688.5 713.9L690.5 714L692.6 714L694.6 714.1L696.7 714.2L698.7 714.2L700.8 714.3L702.8 714.3L704.9 714.4L706.9 714.4L709 714.3L711 714.3L713.1 714.1L715.1 713.8L717.2 713.4L719.2 712.8L721.3 712L723.3 711L725.4 709.8L727.4 708.4L729.5 707L731.5 705.6L733.6 704.4L735.6 703.5L737.7 703L739.7 702.9L741.8 703.3L743.8 704.2L745.9 705.3L747.9 706.7L750 708.2L752 709.7L754.1 711.1L756.1 712.3L758.2 713.4L760.2 714.2L762.3 714.8L764.3 715.2L766.4 715.6L768.4 715.8L770.5 715.9L772.5 716.1L774.6 716.1L776.6 716.2L778.7 716.3L780.7 716.3L782.8 716.4L784.8 716.4L786.9 716.5L788.9 716.5L791 716.6L793 716.6L795.1 716.7L797.1 716.7L799.2 716.7L801.2 716.8L803.3 716.8L805.3 716.9L807.4 716.9L809.4 717L811.5 717L813.5 717.1L815.6 717.1L817.6 717.1L819.7 717.2L821.7 717.2L823.8 717.3L825.8 717.3L827.9 717.4L829.9 717.4L832 717.5L834 717.5L836.1 717.5L838.1 717.6L840.2 717.6L842.2 717.7L844.3 717.7L846.3 717.8L848.4 717.8L850.4 717.8"/>
<path d="M545 699.6L547 700L549.1 700.3L551.1 700.7L553.2 701L555.2 701.3L557.3 701.6L559.3 701.9L561.4 702.2L563.4 702.5L565.5 702.8L567.5 703L569.6 703.3L571.6 703.5L573.7 703.8L575.7 704L577.8 704.2L579.8 704.4L581.9 704.6L583.9 704.9L586 705.1L588 705.2L590.1 705.4L592.1 705.6L594.2 705.8L596.2 706L598.3 706.1L600.3 706.3L602.4 706.5L604.4 706.6L606.5 706.8L608.5 706.9L610.6 707.1L612.6 707.2L614.7 707.3L616.7 707.5L618.8 707.6L620.8 707.7L622.9 707.8L624.9 708L627 708.1L629 708.2L631.1 708.3L633.1 708.4L635.2 708.5L637.2 708.6L639.3 708.7L641.3 708.8L643.4 708.9L645.4 709L647.5 709.1L649.5 709.2L651.6 709.3L653.6 709.4L655.7 709.5L657.7 709.5L659.8 709.6L661.8 709.7L663.9 709.8L665.9 709.9L668 709.9L670 710L672.1 710.1L674.1 710.2L676.2 710.2L678.2 710.3L680.3 710.4L682.3 710.5L684.4 710.5L686.4 710.6L688.5 710.7L690.5 710.7L692.6 710.8L694.6 710.8L696.7 710.9L698.7 710.9L700.8 711L702.8 711L704.9 710.9L706.9 710.8L709 710.6L711 710.3L713.1 709.9L715.1 709.3L717.2 708.5L719.2 707.5L721.3 706.3L723.3 704.9L725.4 703.5L727.4 702.2L729.5 701L731.5 700L733.6 699.4L735.6 699.3L737.7 699.5L739.7 700.3L741.8 701.3L743.8 702.6L745.9 704.1L747.9 705.6L750 707L752 708.3L754.1 709.4L756.1 710.4L758.2 711.1L760.2 711.6L762.3 712L764.3 712.3L766.4 712.5L768.4 712.7L770.5 712.8L772.5 712.8L774.6 712.9L776.6 713L778.7 713L780.7 713.1L782.8 713.1L784.8 713.2L786.9 713.2L788.9 713.3L791 713.3L793 713.3L795.1 713.4L797.1 713.4L799.2 713.5L801.2 713.5L803.3 713.6L805.3 713.6L807.4 713.7L809.4 713.7L811.5 713.7L813.5 713.8L815.6 713.8L817.6 713.9L819.7 713.9L821.7 714L823.8 714L825.8 714.1L827.9 714.1L829.9 714.1L832 714.2L834 714.2L836.1 714.3L838.1 714.3L840.2 714.4L842.2 714.4L844.3 714.4L846.3 714.5L848.4 714.5L850.4 714.6"/>
<path d="M545 696.4L547 696.8L549.1 697.1L551.1 697.4L553.2 697.8L555.2 698.1L557.3 698.4L559.3 698.7L561.4 699L563.4 699.3L565.5 699.5L567.5 699.8L569.6 700L571.6 700.3L573.7 700.5L575.7 700.8L577.8 701L579.8 701.2L581.9 701.4L583.9 701.6L586 701.8L588 702L590.1 702.2L592.1 702.4L594.2 702.6L596.2 702.7L598.3 702.9L600.3 703.1L602.4 703.2L604.4 703.4L606.5 703.5L608.5 703.7L610.6 703.8L612.6 703.9L614.7 704.1L616.7 704.2L618.8 704.3L620.8 704.5L622.9 704.6L624.9 704.7L627 704.8L629 704.9L631.1 705L633.1 705.2L635.2 705.3L637.2 705.4L639.3 705.5L641.3 705.6L643.4 705.7L645.4 705.8L647.5 705.9L649.5 705.9L651.6 706L653.6 706.1L655.7 706.2L657.7 706.3L659.8 706.4L661.8 706.5L663.9 706.5L665.9 706.6L668 706.7L670 706.8L672.1 706.8L674.1 706.9L676.2 707L678.2 707.1L680.3 707.1L682.3 707.2L684.4 707.3L686.4 707.3L688.5 707.4L690.5 707.4L692.6 707.5L694.6 707.5L696.7 707.6L698.7 707.6L700.8 707.5L702.8 707.4L704.9 707.2L706.9 706.9L709 706.4L711 705.8L713.1 705L715.1 704L717.2 702.8L719.2 701.5L721.3 700.1L723.3 698.7L725.4 697.5L727.4 696.5L729.5 695.9L731.5 695.6L733.6 695.8L735.6 696.4L737.7 697.3L739.7 698.6L741.8 700L743.8 701.5L745.9 702.9L747.9 704.3L750 705.5L752 706.5L754.1 707.3L756.1 707.9L758.2 708.4L760.2 708.8L762.3 709L764.3 709.2L766.4 709.4L768.4 709.5L770.5 709.5L772.5 709.6L774.6 709.6L776.6 709.7L778.7 709.8L780.7 709.8L782.8 709.8L784.8 709.9L786.9 709.9L788.9 710L791 710L793 710.1L795.1 710.1L797.1 710.2L799.2 710.2L801.2 710.3L803.3 710.3L805.3 710.3L807.4 710.4L809.4 710.4L811.5 710.5L813.5 710.5L815.6 710.6L817.6 710.6L819.7 710.7L821.7 710.7L823.8 710.7L825.8 710.8L827.9 710.8L829.9 710.9L832 710.9L834 711L836.1 711L838.1 711L840.2 711.1L842.2 711.1L844.3 711.2L846.3 711.2L848.4 711.3L850.4 711.3"/>
<path d="M545 693.2L547 693.5L549.1 693.9L551.1 694.2L553.2 694.5L555.2 694.9L557.3 695.2L559.3 695.5L561.4 695.7L563.4 696L565.5 696.3L567.5 696.6L569.6 696.8L571.6 697L573.7 697.3L575.7 697.5L577.8 697.7L579.8 698L581.9 698.2L583.9 698.4L586 698.6L588 698.8L590.1 698.9L592.1 699.1L594.2 699.3L596.2 699.5L598.3 699.6L600.3 699.8L602.4 700L604.4 700.1L606.5 700.3L608.5 700.4L610.6 700.6L612.6 700.7L614.7 700.8L616.7 701L618.8 701.1L620.8 701.2L622.9 701.3L624.9 701.5L627 701.6L629 701.7L631.1 701.8L633.1 701.9L635.2 702L637.2 702.1L639.3 702.2L641.3 702.3L643.4 702.4L645.4 702.5L647.5 702.6L649.5 702.7L651.6 702.8L653.6 702.9L655.7 702.9L657.7 703L659.8 703.1L661.8 703.2L663.9 703.3L665.9 703.4L668 703.4L670 703.5L672.1 703.6L674.1 703.7L676.2 703.7L678.2 703.8L680.3 703.9L682.3 703.9L684.4 704L686.4 704.1L688.5 704.1L690.5 704.1L692.6 704.2L694.6 704.1L696.7 704.1L698.7 703.9L700.8 703.7L702.8 703.4L704.9 702.9L706.9 702.3L709 701.5L711 700.5L713.1 699.3L715.1 698L717.2 696.6L719.2 695.3L721.3 694.1L723.3 693.1L725.4 692.3L727.4 692L729.5 692.1L731.5 692.6L733.6 693.4L735.6 694.5L737.7 695.9L739.7 697.3L741.8 698.8L743.8 700.2L745.9 701.5L747.9 702.6L750 703.5L752 704.2L754.1 704.8L756.1 705.2L758.2 705.5L760.2 705.8L762.3 705.9L764.3 706L766.4 706.1L768.4 706.2L770.5 706.3L772.5 706.3L774.6 706.4L776.6 706.4L778.7 706.5L780.7 706.5L782.8 706.6L784.8 706.6L786.9 706.7L788.9 706.7L791 706.8L793 706.8L795.1 706.9L797.1 706.9L799.2 706.9L801.2 707L803.3 707L805.3 707.1L807.4 707.1L809.4 707.2L811.5 707.2L813.5 707.3L815.6 707.3L817.6 707.3L819.7 707.4L821.7 707.4L823.8 707.5L825.8 707.5L827.9 707.6L829.9 707.6L832 707.6L834 707.7L836.1 707.7L838.1 707.8L840.2 707.8L842.2 707.9L844.3 707.9L846.3 707.9L848.4 708L850.4 708"/>
<path d="M545 689.9L547 690.3L549.1 690.6L551.1 691L553.2 691.3L555.2 691.6L557.3 691.9L559.3 692.2L561.4 692.5L563.4 692.8L565.5 693.1L567.5 693.3L569.6 693.6L571.6 693.8L573.7 694L575.7 694.3L577.8 694.5L579.8 694.7L581.9 694.9L583.9 695.1L586 695.3L588 695.5L590.1 695.7L592.1 695.9L594.2 696.1L596.2 696.2L598.3 696.4L600.3 696.6L602.4 696.7L604.4 696.9L606.5 697L608.5 697.2L610.6 697.3L612.6 697.4L614.7 697.6L616.7 697.7L618.8 697.8L620.8 698L622.9 698.1L624.9 698.2L627 698.3L629 698.4L631.1 698.5L633.1 698.6L635.2 698.8L637.2 698.9L639.3 699L641.3 699.1L643.4 699.2L645.4 699.2L647.5 699.3L649.5 699.4L651.6 699.5L653.6 699.6L655.7 699.7L657.7 699.8L659.8 699.9L661.8 699.9L663.9 700L665.9 700.1L668 700.2L670 700.2L672.1 700.3L674.1 700.4L676.2 700.5L678.2 700.5L680.3 700.6L682.3 700.7L684.4 700.7L686.4 700.8L688.5 700.8L690.5 700.8L692.6 700.8L694.6 700.7L696.7 700.5L698.7 700.3L700.8 699.9L702.8 699.4L704.9 698.7L706.9 697.9L709 696.8L711 695.6L713.1 694.3L715.1 693L717.2 691.7L719.2 690.5L721.3 689.5L723.3 688.8L725.4 688.4L727.4 688.5L729.5 688.9L731.5 689.7L733.6 690.8L735.6 692.1L737.7 693.5L739.7 695L741.8 696.4L743.8 697.7L745.9 698.8L747.9 699.8L750 700.6L752 701.2L754.1 701.7L756.1 702.1L758.2 702.3L760.2 702.5L762.3 702.7L764.3 702.8L766.4 702.9L768.4 703L770.5 703L772.5 703.1L774.6 703.1L776.6 703.2L778.7 703.2L780.7 703.3L782.8 703.3L784.8 703.4L786.9 703.4L788.9 703.4L791 703.5L793 703.5L795.1 703.6L797.1 703.6L799.2 703.7L801.2 703.7L803.3 703.8L805.3 703.8L807.4 703.9L809.4 703.9L811.5 703.9L813.5 704L815.6 704L817.6 704.1L819.7 704.1L821.7 704.2L823.8 704.2L825.8 704.2L827.9 704.3L829.9 704.3L832 704.4L834 704.4L836.1 704.5L838.1 704.5L840.2 704.5L842.2 704.6L844.3 704.6L846.3 704.7L848.4 704.7L850.4 704.8"/>
<path d="M545 686.7L547 687.1L549.1 687.4L551.1 687.8L553.2 688.1L555.2 688.4L557.3 688.7L559.3 689L561.4 689.3L563.4 689.6L565.5 689.8L567.5 690.1L569.6 690.3L571.6 690.6L573.7 690.8L575.7 691L577.8 691.3L579.8 691.5L581.9 691.7L583.9 691.9L586 692.1L588 692.3L590.1 692.5L592.1 692.6L594.2 692.8L596.2 693L598.3 693.2L600.3 693.3L602.4 693.5L604.4 693.6L606.5 693.8L608.5 693.9L610.6 694.1L612.6 694.2L614.7 694.3L616.7 694.5L618.8 694.6L620.8 694.7L622.9 694.8L624.9 695L627 695.1L629 695.2L631.1 695.3L633.1 695.4L635.2 695.5L637.2 695.6L639.3 695.7L641.3 695.8L643.4 695.9L645.4 696L647.5 696.1L649.5 696.2L651.6 696.3L653.6 696.4L655.7 696.4L657.7 696.5L659.8 696.6L661.8 696.7L663.9 696.8L665.9 696.8L668 696.9L670 697L672.1 697.1L674.1 697.1L676.2 697.2L678.2 697.3L680.3 697.3L682.3 697.4L684.4 697.4L686.4 697.5L688.5 697.5L690.5 697.5L692.6 697.4L694.6 697.2L696.7 697L698.7 696.7L700.8 696.2L702.8 695.6L704.9 694.7L706.9 693.8L709 692.6L711 691.3L713.1 690L715.1 688.7L717.2 687.4L719.2 686.4L721.3 685.6L723.3 685.1L725.4 685L727.4 685.4L729.5 686.1L731.5 687.1L733.6 688.3L735.6 689.7L737.7 691.1L739.7 692.6L741.8 693.9L743.8 695.1L745.9 696.1L747.9 697L750 697.7L752 698.2L754.1 698.6L756.1 698.9L758.2 699.2L760.2 699.3L762.3 699.5L764.3 699.6L766.4 699.6L768.4 699.7L770.5 699.8L772.5 699.8L774.6 699.9L776.6 699.9L778.7 700L780.7 700L782.8 700L784.8 700.1L786.9 700.1L788.9 700.2L791 700.2L793 700.3L795.1 700.3L797.1 700.4L799.2 700.4L801.2 700.4L803.3 700.5L805.3 700.5L807.4 700.6L809.4 700.6L811.5 700.7L813.5 700.7L815.6 700.8L817.6 700.8L819.7 700.8L821.7 700.9L823.8 700.9L825.8 701L827.9 701L829.9 701.1L832 701.1L834 701.1L836.1 701.2L838.1 701.2L840.2 701.3L842.2 701.3L844.3 701.4L846.3 701.4L848.4 701.4L850.4 701.5"/>
<path d="M545 683.5L547 683.8L549.1 684.2L551.1 684.5L553.2 684.8L555.2 685.2L557.3 685.5L559.3 685.8L561.4 686L563.4 686.3L565.5 686.6L567.5 686.8L569.6 687.1L571.6 687.3L573.7 687.6L575.7 687.8L577.8 688L579.8 688.2L581.9 688.4L583.9 688.6L586 688.8L588 689L590.1 689.2L592.1 689.4L594.2 689.6L596.2 689.7L598.3 689.9L600.3 690.1L602.4 690.2L604.4 690.4L606.5 690.5L608.5 690.7L610.6 690.8L612.6 690.9L614.7 691.1L616.7 691.2L618.8 691.3L620.8 691.5L622.9 691.6L624.9 691.7L627 691.8L629 691.9L631.1 692L633.1 692.1L635.2 692.2L637.2 692.4L639.3 692.5L641.3 692.5L643.4 692.6L645.4 692.7L647.5 692.8L649.5 692.9L651.6 693L653.6 693.1L655.7 693.2L657.7 693.3L659.8 693.3L661.8 693.4L663.9 693.5L665.9 693.6L668 693.7L670 693.7L672.1 693.8L674.1 693.9L676.2 693.9L678.2 694L680.3 694.1L682.3 694.1L684.4 694.2L686.4 694.2L688.5 694.1L690.5 694.1L692.6 694L694.6 693.8L696.7 693.4L698.7 693L700.8 692.4L702.8 691.6L704.9 690.7L706.9 689.6L709 688.3L711 687L713.1 685.7L715.1 684.4L717.2 683.3L719.2 682.4L721.3 681.8L723.3 681.7L725.4 681.9L727.4 682.4L729.5 683.4L731.5 684.5L733.6 685.9L735.6 687.3L737.7 688.8L739.7 690.1L741.8 691.4L743.8 692.5L745.9 693.4L747.9 694.2L750 694.7L752 695.2L754.1 695.5L756.1 695.8L758.2 696L760.2 696.1L762.3 696.2L764.3 696.3L766.4 696.4L768.4 696.4L770.5 696.5L772.5 696.5L774.6 696.6L776.6 696.6L778.7 696.7L780.7 696.7L782.8 696.8L784.8 696.8L786.9 696.9L788.9 696.9L791 697L793 697L795.1 697L797.1 697.1L799.2 697.1L801.2 697.2L803.3 697.2L805.3 697.3L807.4 697.3L809.4 697.4L811.5 697.4L813.5 697.4L815.6 697.5L817.6 697.5L819.7 697.6L821.7 697.6L823.8 697.7L825.8 697.7L827.9 697.7L829.9 697.8L832 697.8L834 697.9L836.1 697.9L838.1 698L840.2 698L842.2 698L844.3 698.1L846.3 698.1L848.4 698.2L850.4 698.2"/>
<path d="M545 680.3L547 680.6L549.1 681L551.1 681.3L553.2 681.6L555.2 681.9L557.3 682.2L559.3 682.5L561.4 682.8L563.4 683.1L565.5 683.3L567.5 683.6L569.6 683.9L571.6 684.1L573.7 684.3L575.7 684.6L577.8 684.8L579.8 685L581.9 685.2L583.9 685.4L586 685.6L588 685.8L590.1 686L592.1 686.2L594.2 686.3L596.2 686.5L598.3 686.7L600.3 686.8L602.4 687L604.4 687.1L606.5 687.3L608.5 687.4L610.6 687.6L612.6 687.7L614.7 687.8L616.7 688L618.8 688.1L620.8 688.2L622.9 688.3L624.9 688.4L627 688.6L629 688.7L631.1 688.8L633.1 688.9L635.2 689L637.2 689.1L639.3 689.2L641.3 689.3L643.4 689.4L645.4 689.5L647.5 689.6L649.5 689.7L651.6 689.8L653.6 689.8L655.7 689.9L657.7 690L659.8 690.1L661.8 690.2L663.9 690.2L665.9 690.3L668 690.4L670 690.5L672.1 690.5L674.1 690.6L676.2 690.7L678.2 690.7L680.3 690.8L682.3 690.8L684.4 690.9L686.4 690.8L688.5 690.8L690.5 690.7L692.6 690.5L694.6 690.2L696.7 689.8L698.7 689.2L700.8 688.5L702.8 687.6L704.9 686.5L706.9 685.3L709 684L711 682.6L713.1 681.3L715.1 680.2L717.2 679.2L719.2 678.6L721.3 678.3L723.3 678.4L725.4 678.9L727.4 679.7L729.5 680.8L731.5 682.1L733.6 683.5L735.6 685L737.7 686.4L739.7 687.7L741.8 688.8L743.8 689.8L745.9 690.6L747.9 691.2L750 691.7L752 692.1L754.1 692.4L756.1 692.6L758.2 692.8L760.2 692.9L762.3 693L764.3 693.1L766.4 693.1L768.4 693.2L770.5 693.2L772.5 693.3L774.6 693.3L776.6 693.4L778.7 693.4L780.7 693.5L782.8 693.5L784.8 693.6L786.9 693.6L788.9 693.6L791 693.7L793 693.7L795.1 693.8L797.1 693.8L799.2 693.9L801.2 693.9L803.3 694L805.3 694L807.4 694L809.4 694.1L811.5 694.1L813.5 694.2L815.6 694.2L817.6 694.3L819.7 694.3L821.7 694.3L823.8 694.4L825.8 694.4L827.9 694.5L829.9 694.5L832 694.6L834 694.6L836.1 694.6L838.1 694.7L840.2 694.7L842.2 694.8L844.3 694.8L846.3 694.9L848.4 694.9L850.4 694.9"/>
<path d="M545 677L547 677.4L549.1 677.7L551.1 678.1L553.2 678.4L555.2 678.7L557.3 679L559.3 679.3L561.4 679.6L563.4 679.8L565.5 680.1L567.5 680.4L569.6 680.6L571.6 680.9L573.7 681.1L575.7 681.3L577.8 681.5L579.8 681.8L581.9 682L583.9 682.2L586 682.4L588 682.5L590.1 682.7L592.1 682.9L594.2 683.1L596.2 683.3L598.3 683.4L600.3 683.6L602.4 683.7L604.4 683.9L606.5 684L608.5 684.2L610.6 684.3L612.6 684.5L614.7 684.6L616.7 684.7L618.8 684.8L620.8 685L622.9 685.1L624.9 685.2L627 685.3L629 685.4L631.1 685.5L633.1 685.6L635.2 685.7L637.2 685.8L639.3 685.9L641.3 686L643.4 686.1L645.4 686.2L647.5 686.3L649.5 686.4L651.6 686.5L653.6 686.6L655.7 686.7L657.7 686.8L659.8 686.8L661.8 686.9L663.9 687L665.9 687.1L668 687.1L670 687.2L672.1 687.3L674.1 687.4L676.2 687.4L678.2 687.5L680.3 687.5L682.3 687.5L684.4 687.5L686.4 687.5L688.5 687.4L690.5 687.2L692.6 687L694.6 686.6L696.7 686L698.7 685.3L700.8 684.5L702.8 683.4L704.9 682.3L706.9 681L709 679.6L711 678.3L713.1 677.1L715.1 676.1L717.2 675.4L719.2 675L721.3 675L723.3 675.3L725.4 676.1L727.4 677.1L729.5 678.3L731.5 679.7L733.6 681.2L735.6 682.6L737.7 683.9L739.7 685.1L741.8 686.2L743.8 687L745.9 687.7L747.9 688.3L750 688.7L752 689L754.1 689.3L756.1 689.4L758.2 689.6L760.2 689.7L762.3 689.7L764.3 689.8L766.4 689.9L768.4 689.9L770.5 690L772.5 690L774.6 690.1L776.6 690.1L778.7 690.2L780.7 690.2L782.8 690.2L784.8 690.3L786.9 690.3L788.9 690.4L791 690.4L793 690.5L795.1 690.5L797.1 690.6L799.2 690.6L801.2 690.6L803.3 690.7L805.3 690.7L807.4 690.8L809.4 690.8L811.5 690.9L813.5 690.9L815.6 690.9L817.6 691L819.7 691L821.7 691.1L823.8 691.1L825.8 691.2L827.9 691.2L829.9 691.2L832 691.3L834 691.3L836.1 691.4L838.1 691.4L840.2 691.5L842.2 691.5L844.3 691.5L846.3 691.6L848.4 691.6L850.4 691.7"/>
<path d="M545 673.8L547 674.2L549.1 674.5L551.1 674.8L553.2 675.2L555.2 675.5L557.3 675.8L559.3 676.1L561.4 676.3L563.4 676.6L565.5 676.9L567.5 677.1L569.6 677.4L571.6 677.6L573.7 677.9L575.7 678.1L577.8 678.3L579.8 678.5L581.9 678.7L583.9 678.9L586 679.1L588 679.3L590.1 679.5L592.1 679.7L594.2 679.8L596.2 680L598.3 680.2L600.3 680.3L602.4 680.5L604.4 680.6L606.5 680.8L608.5 680.9L610.6 681.1L612.6 681.2L614.7 681.3L616.7 681.5L618.8 681.6L620.8 681.7L622.9 681.8L624.9 681.9L627 682.1L629 682.2L631.1 682.3L633.1 682.4L635.2 682.5L637.2 682.6L639.3 682.7L641.3 682.8L643.4 682.9L645.4 683L647.5 683.1L649.5 683.2L651.6 683.2L653.6 683.3L655.7 683.4L657.7 683.5L659.8 683.6L661.8 683.7L663.9 683.7L665.9 683.8L668 683.9L670 684L672.1 684L674.1 684.1L676.2 684.1L678.2 684.2L680.3 684.2L682.3 684.2L684.4 684.2L686.4 684.1L688.5 683.9L690.5 683.7L692.6 683.3L694.6 682.8L696.7 682.2L698.7 681.4L700.8 680.4L702.8 679.2L704.9 678L706.9 676.6L709 675.3L711 674.1L713.1 673L715.1 672.2L717.2 671.7L719.2 671.6L721.3 671.8L723.3 672.4L725.4 673.4L727.4 674.6L729.5 675.9L731.5 677.3L733.6 678.8L735.6 680.2L737.7 681.4L739.7 682.5L741.8 683.4L743.8 684.2L745.9 684.8L747.9 685.3L750 685.6L752 685.9L754.1 686.1L756.1 686.2L758.2 686.3L760.2 686.4L762.3 686.5L764.3 686.5L766.4 686.6L768.4 686.6L770.5 686.7L772.5 686.7L774.6 686.8L776.6 686.8L778.7 686.9L780.7 686.9L782.8 687L784.8 687L786.9 687.1L788.9 687.1L791 687.2L793 687.2L795.1 687.2L797.1 687.3L799.2 687.3L801.2 687.4L803.3 687.4L805.3 687.5L807.4 687.5L809.4 687.5L811.5 687.6L813.5 687.6L815.6 687.7L817.6 687.7L819.7 687.8L821.7 687.8L823.8 687.9L825.8 687.9L827.9 687.9L829.9 688L832 688L834 688.1L836.1 688.1L838.1 688.1L840.2 688.2L842.2 688.2L844.3 688.3L846.3 688.3L848.4 688.4L850.4 688.4"/>
<path d="M545 670.6L547 670.9L549.1 671.3L551.1 671.6L553.2 671.9L555.2 672.2L557.3 672.5L559.3 672.8L561.4 673.1L563.4 673.4L565.5 673.6L567.5 673.9L569.6 674.1L571.6 674.4L573.7 674.6L575.7 674.8L577.8 675.1L579.8 675.3L581.9 675.5L583.9 675.7L586 675.9L588 676.1L590.1 676.2L592.1 676.4L594.2 676.6L596.2 676.8L598.3 676.9L600.3 677.1L602.4 677.2L604.4 677.4L606.5 677.5L608.5 677.7L610.6 677.8L612.6 678L614.7 678.1L616.7 678.2L618.8 678.3L620.8 678.5L622.9 678.6L624.9 678.7L627 678.8L629 678.9L631.1 679L633.1 679.1L635.2 679.2L637.2 679.3L639.3 679.4L641.3 679.5L643.4 679.6L645.4 679.7L647.5 679.8L649.5 679.9L651.6 680L653.6 680.1L655.7 680.2L657.7 680.2L659.8 680.3L661.8 680.4L663.9 680.5L665.9 680.6L668 680.6L670 680.7L672.1 680.8L674.1 680.8L676.2 680.9L678.2 680.9L680.3 680.9L682.3 680.9L684.4 680.8L686.4 680.7L688.5 680.4L690.5 680.1L692.6 679.6L694.6 679L696.7 678.2L698.7 677.3L700.8 676.2L702.8 674.9L704.9 673.6L706.9 672.3L709 671L711 669.9L713.1 669L715.1 668.4L717.2 668.2L719.2 668.3L721.3 668.9L723.3 669.7L725.4 670.8L727.4 672.1L729.5 673.5L731.5 675L733.6 676.4L735.6 677.7L737.7 678.8L739.7 679.8L741.8 680.6L743.8 681.3L745.9 681.8L747.9 682.2L750 682.5L752 682.7L754.1 682.9L756.1 683L758.2 683.1L760.2 683.2L762.3 683.2L764.3 683.3L766.4 683.3L768.4 683.4L770.5 683.4L772.5 683.5L774.6 683.5L776.6 683.6L778.7 683.6L780.7 683.7L782.8 683.7L784.8 683.8L786.9 683.8L788.9 683.8L791 683.9L793 683.9L795.1 684L797.1 684L799.2 684.1L801.2 684.1L803.3 684.1L805.3 684.2L807.4 684.2L809.4 684.3L811.5 684.3L813.5 684.4L815.6 684.4L817.6 684.5L819.7 684.5L821.7 684.5L823.8 684.6L825.8 684.6L827.9 684.7L829.9 684.7L832 684.8L834 684.8L836.1 684.8L838.1 684.9L840.2 684.9L842.2 685L844.3 685L846.3 685L848.4 685.1L850.4 685.1"/>
<path d="M545 667.4L547 667.7L549.1 668.1L551.1 668.4L553.2 668.7L555.2 669L557.3 669.3L559.3 669.6L561.4 669.9L563.4 670.1L565.5 670.4L567.5 670.7L569.6 670.9L571.6 671.1L573.7 671.4L575.7 671.6L577.8 671.8L579.8 672L581.9 672.2L583.9 672.4L586 672.6L588 672.8L590.1 673L592.1 673.2L594.2 673.4L596.2 673.5L598.3 673.7L600.3 673.8L602.4 674L604.4 674.1L606.5 674.3L608.5 674.4L610.6 674.6L612.6 674.7L614.7 674.8L616.7 675L618.8 675.1L620.8 675.2L622.9 675.3L624.9 675.4L627 675.6L629 675.7L631.1 675.8L633.1 675.9L635.2 676L637.2 676.1L639.3 676.2L641.3 676.3L643.4 676.4L645.4 676.5L647.5 676.6L649.5 676.6L651.6 676.7L653.6 676.8L655.7 676.9L657.7 677L659.8 677.1L661.8 677.1L663.9 677.2L665.9 677.3L668 677.4L670 677.4L672.1 677.5L674.1 677.5L676.2 677.6L678.2 677.6L680.3 677.6L682.3 677.5L684.4 677.4L686.4 677.2L688.5 676.9L690.5 676.4L692.6 675.9L694.6 675.1L696.7 674.2L698.7 673.1L700.8 671.9L702.8 670.6L704.9 669.3L706.9 668L709 666.8L711 665.9L713.1 665.2L715.1 664.9L717.2 664.9L719.2 665.3L721.3 666.1L723.3 667.1L725.4 668.3L727.4 669.7L729.5 671.2L731.5 672.6L733.6 673.9L735.6 675.1L737.7 676.2L739.7 677L741.8 677.8L743.8 678.3L745.9 678.8L747.9 679.1L750 679.3L752 679.5L754.1 679.6L756.1 679.8L758.2 679.8L760.2 679.9L762.3 680L764.3 680L766.4 680.1L768.4 680.1L770.5 680.2L772.5 680.2L774.6 680.3L776.6 680.3L778.7 680.3L780.7 680.4L782.8 680.4L784.8 680.5L786.9 680.5L788.9 680.6L791 680.6L793 680.7L795.1 680.7L797.1 680.7L799.2 680.8L801.2 680.8L803.3 680.9L805.3 680.9L807.4 681L809.4 681L811.5 681.1L813.5 681.1L815.6 681.1L817.6 681.2L819.7 681.2L821.7 681.3L823.8 681.3L825.8 681.4L827.9 681.4L829.9 681.4L832 681.5L834 681.5L836.1 681.6L838.1 681.6L840.2 681.6L842.2 681.7L844.3 681.7L846.3 681.8L848.4 681.8L850.4 681.9"/>
<path d="M545 664.1L547 664.5L549.1 664.8L551.1 665.2L553.2 665.5L555.2 665.8L557.3 666.1L559.3 666.4L561.4 666.6L563.4 666.9L565.5 667.2L567.5 667.4L569.6 667.7L571.6 667.9L573.7 668.1L575.7 668.4L577.8 668.6L579.8 668.8L581.9 669L583.9 669.2L586 669.4L588 669.6L590.1 669.8L592.1 669.9L594.2 670.1L596.2 670.3L598.3 670.4L600.3 670.6L602.4 670.7L604.4 670.9L606.5 671L608.5 671.2L610.6 671.3L612.6 671.5L614.7 671.6L616.7 671.7L618.8 671.8L620.8 672L622.9 672.1L624.9 672.2L627 672.3L629 672.4L631.1 672.5L633.1 672.6L635.2 672.7L637.2 672.8L639.3 672.9L641.3 673L643.4 673.1L645.4 673.2L647.5 673.3L649.5 673.4L651.6 673.5L653.6 673.6L655.7 673.6L657.7 673.7L659.8 673.8L661.8 673.9L663.9 674L665.9 674L668 674.1L670 674.2L672.1 674.2L674.1 674.3L676.2 674.3L678.2 674.3L680.3 674.2L682.3 674.1L684.4 673.9L686.4 673.6L688.5 673.2L690.5 672.7L692.6 672L694.6 671.1L696.7 670.1L698.7 668.9L700.8 667.6L702.8 666.3L704.9 665L706.9 663.8L709 662.7L711 662L713.1 661.6L715.1 661.5L717.2 661.8L719.2 662.4L721.3 663.4L723.3 664.6L725.4 665.9L727.4 667.4L729.5 668.8L731.5 670.2L733.6 671.4L735.6 672.5L737.7 673.4L739.7 674.2L741.8 674.8L743.8 675.3L745.9 675.7L747.9 675.9L750 676.1L752 676.3L754.1 676.4L756.1 676.5L758.2 676.6L760.2 676.6L762.3 676.7L764.3 676.8L766.4 676.8L768.4 676.9L770.5 676.9L772.5 676.9L774.6 677L776.6 677L778.7 677.1L780.7 677.1L782.8 677.2L784.8 677.2L786.9 677.3L788.9 677.3L791 677.3L793 677.4L795.1 677.4L797.1 677.5L799.2 677.5L801.2 677.6L803.3 677.6L805.3 677.7L807.4 677.7L809.4 677.7L811.5 677.8L813.5 677.8L815.6 677.9L817.6 677.9L819.7 678L821.7 678L823.8 678L825.8 678.1L827.9 678.1L829.9 678.2L832 678.2L834 678.3L836.1 678.3L838.1 678.3L840.2 678.4L842.2 678.4L844.3 678.5L846.3 678.5L848.4 678.5L850.4 678.6"/>
<path d="M545 660.9L547 661.3L549.1 661.6L551.1 661.9L553.2 662.2L555.2 662.5L557.3 662.8L559.3 663.1L561.4 663.4L563.4 663.7L565.5 663.9L567.5 664.2L569.6 664.4L571.6 664.7L573.7 664.9L575.7 665.1L577.8 665.3L579.8 665.6L581.9 665.8L583.9 666L586 666.1L588 666.3L590.1 666.5L592.1 666.7L594.2 666.9L596.2 667L598.3 667.2L600.3 667.3L602.4 667.5L604.4 667.6L606.5 667.8L608.5 667.9L610.6 668.1L612.6 668.2L614.7 668.3L616.7 668.5L618.8 668.6L620.8 668.7L622.9 668.8L624.9 668.9L627 669.1L629 669.2L631.1 669.3L633.1 669.4L635.2 669.5L637.2 669.6L639.3 669.7L641.3 669.8L643.4 669.9L645.4 670L647.5 670L649.5 670.1L651.6 670.2L653.6 670.3L655.7 670.4L657.7 670.5L659.8 670.5L661.8 670.6L663.9 670.7L665.9 670.8L668 670.8L670 670.9L672.1 670.9L674.1 671L676.2 671L678.2 670.9L680.3 670.9L682.3 670.7L684.4 670.5L686.4 670.2L688.5 669.7L690.5 669.1L692.6 668.3L694.6 667.3L696.7 666.2L698.7 665L700.8 663.7L702.8 662.4L704.9 661.1L706.9 660L709 659.1L711 658.4L713.1 658.1L715.1 658.2L717.2 658.6L719.2 659.4L721.3 660.5L723.3 661.7L725.4 663.1L727.4 664.6L729.5 666L731.5 667.3L733.6 668.5L735.6 669.5L737.7 670.4L739.7 671.1L741.8 671.7L743.8 672.1L745.9 672.5L747.9 672.7L750 672.9L752 673.1L754.1 673.2L756.1 673.3L758.2 673.3L760.2 673.4L762.3 673.4L764.3 673.5L766.4 673.5L768.4 673.6L770.5 673.6L772.5 673.7L774.6 673.7L776.6 673.8L778.7 673.8L780.7 673.9L782.8 673.9L784.8 673.9L786.9 674L788.9 674L791 674.1L793 674.1L795.1 674.2L797.1 674.2L799.2 674.3L801.2 674.3L803.3 674.3L805.3 674.4L807.4 674.4L809.4 674.5L811.5 674.5L813.5 674.6L815.6 674.6L817.6 674.6L819.7 674.7L821.7 674.7L823.8 674.8L825.8 674.8L827.9 674.9L829.9 674.9L832 674.9L834 675L836.1 675L838.1 675.1L840.2 675.1L842.2 675.1L844.3 675.2L846.3 675.2L848.4 675.3L850.4 675.3"/>
<path d="M545 657.7L547 658L549.1 658.4L551.1 658.7L553.2 659L555.2 659.3L557.3 659.6L559.3 659.9L561.4 660.2L563.4 660.4L565.5 660.7L567.5 661L569.6 661.2L571.6 661.4L573.7 661.7L575.7 661.9L577.8 662.1L579.8 662.3L581.9 662.5L583.9 662.7L586 662.9L588 663.1L590.1 663.3L592.1 663.4L594.2 663.6L596.2 663.8L598.3 663.9L600.3 664.1L602.4 664.3L604.4 664.4L606.5 664.5L608.5 664.7L610.6 664.8L612.6 665L614.7 665.1L616.7 665.2L618.8 665.3L620.8 665.5L622.9 665.6L624.9 665.7L627 665.8L629 665.9L631.1 666L633.1 666.1L635.2 666.2L637.2 666.3L639.3 666.4L641.3 666.5L643.4 666.6L645.4 666.7L647.5 666.8L649.5 666.9L651.6 667L653.6 667L655.7 667.1L657.7 667.2L659.8 667.3L661.8 667.4L663.9 667.4L665.9 667.5L668 667.6L670 667.6L672.1 667.7L674.1 667.7L676.2 667.7L678.2 667.6L680.3 667.5L682.3 667.3L684.4 667.1L686.4 666.7L688.5 666.1L690.5 665.4L692.6 664.6L694.6 663.6L696.7 662.4L698.7 661.1L700.8 659.8L702.8 658.5L704.9 657.3L706.9 656.2L709 655.4L711 654.9L713.1 654.8L715.1 655L717.2 655.6L719.2 656.4L721.3 657.6L723.3 658.9L725.4 660.3L727.4 661.7L729.5 663.1L731.5 664.4L733.6 665.6L735.6 666.5L737.7 667.4L739.7 668L741.8 668.6L743.8 669L745.9 669.3L747.9 669.5L750 669.7L752 669.8L754.1 669.9L756.1 670L758.2 670.1L760.2 670.1L762.3 670.2L764.3 670.2L766.4 670.3L768.4 670.3L770.5 670.4L772.5 670.4L774.6 670.5L776.6 670.5L778.7 670.5L780.7 670.6L782.8 670.6L784.8 670.7L786.9 670.7L788.9 670.8L791 670.8L793 670.9L795.1 670.9L797.1 670.9L799.2 671L801.2 671L803.3 671.1L805.3 671.1L807.4 671.2L809.4 671.2L811.5 671.2L813.5 671.3L815.6 671.3L817.6 671.4L819.7 671.4L821.7 671.5L823.8 671.5L825.8 671.5L827.9 671.6L829.9 671.6L832 671.7L834 671.7L836.1 671.8L838.1 671.8L840.2 671.8L842.2 671.9L844.3 671.9L846.3 672L848.4 672L850.4 672"/>
<path d="M545 654.5L547 654.8L549.1 655.1L551.1 655.5L553.2 655.8L555.2 656.1L557.3 656.4L559.3 656.7L561.4 656.9L563.4 657.2L565.5 657.5L567.5 657.7L569.6 658L571.6 658.2L573.7 658.4L575.7 658.6L577.8 658.9L579.8 659.1L581.9 659.3L583.9 659.5L586 659.7L588 659.8L590.1 660L592.1 660.2L594.2 660.4L596.2 660.5L598.3 660.7L600.3 660.9L602.4 661L604.4 661.2L606.5 661.3L608.5 661.4L610.6 661.6L612.6 661.7L614.7 661.8L616.7 662L618.8 662.1L620.8 662.2L622.9 662.3L624.9 662.4L627 662.5L629 662.7L631.1 662.8L633.1 662.9L635.2 663L637.2 663.1L639.3 663.2L641.3 663.3L643.4 663.4L645.4 663.4L647.5 663.5L649.5 663.6L651.6 663.7L653.6 663.8L655.7 663.9L657.7 664L659.8 664L661.8 664.1L663.9 664.2L665.9 664.2L668 664.3L670 664.4L672.1 664.4L674.1 664.4L676.2 664.4L678.2 664.3L680.3 664.1L682.3 663.9L684.4 663.6L686.4 663.1L688.5 662.5L690.5 661.7L692.6 660.8L694.6 659.7L696.7 658.5L698.7 657.2L700.8 655.9L702.8 654.6L704.9 653.5L706.9 652.5L709 651.8L711 651.5L713.1 651.5L715.1 651.8L717.2 652.5L719.2 653.5L721.3 654.7L723.3 656.1L725.4 657.5L727.4 658.9L729.5 660.3L731.5 661.5L733.6 662.6L735.6 663.5L737.7 664.3L739.7 664.9L741.8 665.4L743.8 665.8L745.9 666.1L747.9 666.3L750 666.4L752 666.6L754.1 666.7L756.1 666.7L758.2 666.8L760.2 666.9L762.3 666.9L764.3 667L766.4 667L768.4 667.1L770.5 667.1L772.5 667.1L774.6 667.2L776.6 667.2L778.7 667.3L780.7 667.3L782.8 667.4L784.8 667.4L786.9 667.5L788.9 667.5L791 667.5L793 667.6L795.1 667.6L797.1 667.7L799.2 667.7L801.2 667.8L803.3 667.8L805.3 667.8L807.4 667.9L809.4 667.9L811.5 668L813.5 668L815.6 668.1L817.6 668.1L819.7 668.1L821.7 668.2L823.8 668.2L825.8 668.3L827.9 668.3L829.9 668.4L832 668.4L834 668.4L836.1 668.5L838.1 668.5L840.2 668.6L842.2 668.6L844.3 668.6L846.3 668.7L848.4 668.7L850.4 668.8"/>
<path d="M545 651.2L547 651.6L549.1 651.9L551.1 652.2L553.2 652.6L555.2 652.9L557.3 653.1L559.3 653.4L561.4 653.7L563.4 654L565.5 654.2L567.5 654.5L569.6 654.7L571.6 655L573.7 655.2L575.7 655.4L577.8 655.6L579.8 655.8L581.9 656L583.9 656.2L586 656.4L588 656.6L590.1 656.8L592.1 657L594.2 657.1L596.2 657.3L598.3 657.5L600.3 657.6L602.4 657.8L604.4 657.9L606.5 658.1L608.5 658.2L610.6 658.3L612.6 658.5L614.7 658.6L616.7 658.7L618.8 658.8L620.8 659L622.9 659.1L624.9 659.2L627 659.3L629 659.4L631.1 659.5L633.1 659.6L635.2 659.7L637.2 659.8L639.3 659.9L641.3 660L643.4 660.1L645.4 660.2L647.5 660.3L649.5 660.4L651.6 660.5L653.6 660.5L655.7 660.6L657.7 660.7L659.8 660.8L661.8 660.9L663.9 660.9L665.9 661L668 661L670 661.1L672.1 661.1L674.1 661.1L676.2 661L678.2 660.9L680.3 660.7L682.3 660.5L684.4 660.1L686.4 659.6L688.5 658.9L690.5 658L692.6 657L694.6 655.9L696.7 654.6L698.7 653.3L700.8 652L702.8 650.8L704.9 649.7L706.9 648.9L709 648.3L711 648.1L713.1 648.2L715.1 648.7L717.2 649.5L719.2 650.6L721.3 651.9L723.3 653.3L725.4 654.7L727.4 656.1L729.5 657.4L731.5 658.6L733.6 659.6L735.6 660.5L737.7 661.2L739.7 661.8L741.8 662.3L743.8 662.6L745.9 662.9L747.9 663.1L750 663.2L752 663.3L754.1 663.4L756.1 663.5L758.2 663.5L760.2 663.6L762.3 663.6L764.3 663.7L766.4 663.7L768.4 663.8L770.5 663.8L772.5 663.9L774.6 663.9L776.6 664L778.7 664L780.7 664.1L782.8 664.1L784.8 664.1L786.9 664.2L788.9 664.2L791 664.3L793 664.3L795.1 664.4L797.1 664.4L799.2 664.5L801.2 664.5L803.3 664.5L805.3 664.6L807.4 664.6L809.4 664.7L811.5 664.7L813.5 664.7L815.6 664.8L817.6 664.8L819.7 664.9L821.7 664.9L823.8 665L825.8 665L827.9 665L829.9 665.1L832 665.1L834 665.2L836.1 665.2L838.1 665.3L840.2 665.3L842.2 665.3L844.3 665.4L846.3 665.4L848.4 665.5L850.4 665.5"/>
<path d="M545 648L547 648.4L549.1 648.7L551.1 649L553.2 649.3L555.2 649.6L557.3 649.9L559.3 650.2L561.4 650.5L563.4 650.7L565.5 651L567.5 651.2L569.6 651.5L571.6 651.7L573.7 651.9L575.7 652.2L577.8 652.4L579.8 652.6L581.9 652.8L583.9 652.9L586 653.1L588 653.2L590.1 653.4L592.1 653.5L594.2 653.6L596.2 653.7L598.3 653.8L600.3 653.9L602.4 654.1L604.4 654.2L606.5 654.3L608.5 654.5L610.6 654.6L612.6 654.8L614.7 655L616.7 655.2L618.8 655.3L620.8 655.5L622.9 655.7L624.9 655.8L627 656L629 656.1L631.1 656.2L633.1 656.3L635.2 656.5L637.2 656.6L639.3 656.7L641.3 656.8L643.4 656.8L645.4 656.9L647.5 657L649.5 657.1L651.6 657.2L653.6 657.3L655.7 657.4L657.7 657.4L659.8 657.5L661.8 657.6L663.9 657.7L665.9 657.7L668 657.8L670 657.8L672.1 657.8L674.1 657.8L676.2 657.7L678.2 657.6L680.3 657.3L682.3 657L684.4 656.6L686.4 656L688.5 655.2L690.5 654.3L692.6 653.2L694.6 652L696.7 650.8L698.7 649.4L700.8 648.2L702.8 647L704.9 646L706.9 645.2L709 644.8L711 644.7L713.1 645L715.1 645.6L717.2 646.6L719.2 647.7L721.3 649L723.3 650.5L725.4 651.9L727.4 653.3L729.5 654.5L731.5 655.7L733.6 656.7L735.6 657.5L737.7 658.1L739.7 658.7L741.8 659.1L743.8 659.4L745.9 659.6L747.9 659.8L750 660L752 660.1L754.1 660.1L756.1 660.2L758.2 660.3L760.2 660.3L762.3 660.4L764.3 660.4L766.4 660.5L768.4 660.5L770.5 660.6L772.5 660.6L774.6 660.7L776.6 660.7L778.7 660.7L780.7 660.8L782.8 660.8L784.8 660.9L786.9 660.9L788.9 661L791 661L793 661.1L795.1 661.1L797.1 661.1L799.2 661.2L801.2 661.2L803.3 661.3L805.3 661.3L807.4 661.4L809.4 661.4L811.5 661.4L813.5 661.5L815.6 661.5L817.6 661.6L819.7 661.6L821.7 661.6L823.8 661.7L825.8 661.7L827.9 661.8L829.9 661.8L832 661.9L834 661.9L836.1 661.9L838.1 662L840.2 662L842.2 662.1L844.3 662.1L846.3 662.1L848.4 662.2L850.4 662.2"/>
<path d="M545 644.8L547 645.1L549.1 645.5L551.1 645.8L553.2 646.1L555.2 646.4L557.3 646.7L559.3 647L561.4 647.2L563.4 647.5L565.5 647.8L567.5 648L569.6 648.2L571.6 648.5L573.7 648.7L575.7 648.9L577.8 649.1L579.8 649.3L581.9 649.5L583.9 649.6L586 649.8L588 649.9L590.1 650L592.1 650.1L594.2 650.1L596.2 650.2L598.3 650.2L600.3 650.3L602.4 650.4L604.4 650.5L606.5 650.6L608.5 650.7L610.6 650.9L612.6 651.2L614.7 651.4L616.7 651.6L618.8 651.9L620.8 652.1L622.9 652.3L624.9 652.5L627 652.6L629 652.8L631.1 652.9L633.1 653.1L635.2 653.2L637.2 653.3L639.3 653.4L641.3 653.5L643.4 653.6L645.4 653.7L647.5 653.8L649.5 653.9L651.6 653.9L653.6 654L655.7 654.1L657.7 654.2L659.8 654.3L661.8 654.3L663.9 654.4L665.9 654.4L668 654.5L670 654.5L672.1 654.5L674.1 654.4L676.2 654.3L678.2 654.2L680.3 653.9L682.3 653.5L684.4 653L686.4 652.3L688.5 651.5L690.5 650.5L692.6 649.4L694.6 648.2L696.7 646.9L698.7 645.6L700.8 644.3L702.8 643.2L704.9 642.3L706.9 641.7L709 641.4L711 641.5L713.1 641.9L715.1 642.6L717.2 643.6L719.2 644.9L721.3 646.2L723.3 647.7L725.4 649.1L727.4 650.4L729.5 651.6L731.5 652.7L733.6 653.7L735.6 654.4L737.7 655L739.7 655.5L741.8 655.9L743.8 656.2L745.9 656.4L747.9 656.6L750 656.7L752 656.8L754.1 656.9L756.1 657L758.2 657L760.2 657.1L762.3 657.1L764.3 657.2L766.4 657.2L768.4 657.3L770.5 657.3L772.5 657.3L774.6 657.4L776.6 657.4L778.7 657.5L780.7 657.5L782.8 657.6L784.8 657.6L786.9 657.7L788.9 657.7L791 657.7L793 657.8L795.1 657.8L797.1 657.9L799.2 657.9L801.2 658L803.3 658L805.3 658L807.4 658.1L809.4 658.1L811.5 658.2L813.5 658.2L815.6 658.3L817.6 658.3L819.7 658.3L821.7 658.4L823.8 658.4L825.8 658.5L827.9 658.5L829.9 658.5L832 658.6L834 658.6L836.1 658.7L838.1 658.7L840.2 658.8L842.2 658.8L844.3 658.8L846.3 658.9L848.4 658.9L850.4 659"/>
<path d="M545 641.6L547 641.9L549.1 642.2L551.1 642.6L553.2 642.9L555.2 643.2L557.3 643.5L559.3 643.7L561.4 644L563.4 644.3L565.5 644.5L567.5 644.8L569.6 645L571.6 645.2L573.7 645.5L575.7 645.7L577.8 645.9L579.8 646L581.9 646.2L583.9 646.3L586 646.4L588 646.5L590.1 646.6L592.1 646.6L594.2 646.6L596.2 646.6L598.3 646.6L600.3 646.6L602.4 646.6L604.4 646.7L606.5 646.9L608.5 647L610.6 647.2L612.6 647.5L614.7 647.8L616.7 648.1L618.8 648.4L620.8 648.6L622.9 648.9L624.9 649.1L627 649.3L629 649.5L631.1 649.7L633.1 649.8L635.2 649.9L637.2 650L639.3 650.1L641.3 650.2L643.4 650.3L645.4 650.4L647.5 650.5L649.5 650.6L651.6 650.7L653.6 650.8L655.7 650.8L657.7 650.9L659.8 651L661.8 651.1L663.9 651.1L665.9 651.2L668 651.2L670 651.2L672.1 651.2L674.1 651.2L676.2 651.1L678.2 650.9L680.3 650.7L682.3 650.3L684.4 649.9L686.4 649.3L688.5 648.5L690.5 647.7L692.6 646.7L694.6 645.7L696.7 644.7L698.7 643.6L700.8 642.6L702.8 641.8L704.9 641.2L706.9 640.8L709 640.7L711 640.9L713.1 641.3L715.1 642L717.2 642.9L719.2 644L721.3 645.1L723.3 646.3L725.4 647.5L727.4 648.5L729.5 649.5L731.5 650.4L733.6 651.1L735.6 651.7L737.7 652.2L739.7 652.6L741.8 652.8L743.8 653.1L745.9 653.2L747.9 653.4L750 653.5L752 653.6L754.1 653.6L756.1 653.7L758.2 653.8L760.2 653.8L762.3 653.9L764.3 653.9L766.4 653.9L768.4 654L770.5 654L772.5 654.1L774.6 654.1L776.6 654.2L778.7 654.2L780.7 654.3L782.8 654.3L784.8 654.3L786.9 654.4L788.9 654.4L791 654.5L793 654.5L795.1 654.6L797.1 654.6L799.2 654.6L801.2 654.7L803.3 654.7L805.3 654.8L807.4 654.8L809.4 654.9L811.5 654.9L813.5 654.9L815.6 655L817.6 655L819.7 655.1L821.7 655.1L823.8 655.1L825.8 655.2L827.9 655.2L829.9 655.3L832 655.3L834 655.4L836.1 655.4L838.1 655.4L840.2 655.5L842.2 655.5L844.3 655.6L846.3 655.6L848.4 655.6L850.4 655.7"/>
<path d="M545 638.3L547 638.7L549.1 639L551.1 639.3L553.2 639.6L555.2 639.9L557.3 640.2L559.3 640.5L561.4 640.8L563.4 641L565.5 641.3L567.5 641.5L569.6 641.8L571.6 642L573.7 642.2L575.7 642.4L577.8 642.6L579.8 642.8L581.9 642.9L583.9 643L586 643.1L588 643.2L590.1 643.2L592.1 643.1L594.2 643.1L596.2 643L598.3 643L600.3 642.9L602.4 642.9L604.4 643L606.5 643.1L608.5 643.3L610.6 643.6L612.6 643.9L614.7 644.2L616.7 644.5L618.8 644.9L620.8 645.2L622.9 645.5L624.9 645.8L627 646L629 646.2L631.1 646.4L633.1 646.5L635.2 646.7L637.2 646.8L639.3 646.9L641.3 647L643.4 647.1L645.4 647.2L647.5 647.3L649.5 647.3L651.6 647.4L653.6 647.5L655.7 647.6L657.7 647.7L659.8 647.7L661.8 647.8L663.9 647.9L665.9 647.9L668 648L670 648L672.1 648L674.1 647.9L676.2 647.9L678.2 647.7L680.3 647.5L682.3 647.2L684.4 646.8L686.4 646.3L688.5 645.7L690.5 645L692.6 644.3L694.6 643.5L696.7 642.7L698.7 641.9L700.8 641.2L702.8 640.6L704.9 640.2L706.9 640L709 640L711 640.2L713.1 640.7L715.1 641.3L717.2 642.1L719.2 643L721.3 643.9L723.3 644.8L725.4 645.7L727.4 646.5L729.5 647.3L731.5 647.9L733.6 648.4L735.6 648.9L737.7 649.2L739.7 649.5L741.8 649.7L743.8 649.9L745.9 650.1L747.9 650.2L750 650.2L752 650.3L754.1 650.4L756.1 650.4L758.2 650.5L760.2 650.5L762.3 650.6L764.3 650.6L766.4 650.7L768.4 650.7L770.5 650.8L772.5 650.8L774.6 650.9L776.6 650.9L778.7 650.9L780.7 651L782.8 651L784.8 651.1L786.9 651.1L788.9 651.2L791 651.2L793 651.2L795.1 651.3L797.1 651.3L799.2 651.4L801.2 651.4L803.3 651.5L805.3 651.5L807.4 651.5L809.4 651.6L811.5 651.6L813.5 651.7L815.6 651.7L817.6 651.8L819.7 651.8L821.7 651.8L823.8 651.9L825.8 651.9L827.9 652L829.9 652L832 652L834 652.1L836.1 652.1L838.1 652.2L840.2 652.2L842.2 652.2L844.3 652.3L846.3 652.3L848.4 652.4L850.4 652.4"/>
<path d="M545 635.1L547 635.4L549.1 635.8L551.1 636.1L553.2 636.4L555.2 636.7L557.3 637L559.3 637.3L561.4 637.5L563.4 637.8L565.5 638.1L567.5 638.3L569.6 638.5L571.6 638.8L573.7 639L575.7 639.2L577.8 639.3L579.8 639.5L581.9 639.6L583.9 639.7L586 639.8L588 639.7L590.1 639.7L592.1 639.6L594.2 639.5L596.2 639.3L598.3 639.2L600.3 639.1L602.4 639.1L604.4 639.1L606.5 639.2L608.5 639.4L610.6 639.7L612.6 640L614.7 640.4L616.7 640.9L618.8 641.3L620.8 641.7L622.9 642L624.9 642.4L627 642.6L629 642.9L631.1 643.1L633.1 643.2L635.2 643.4L637.2 643.5L639.3 643.6L641.3 643.7L643.4 643.8L645.4 643.9L647.5 644L649.5 644.1L651.6 644.2L653.6 644.3L655.7 644.3L657.7 644.4L659.8 644.5L661.8 644.6L663.9 644.6L665.9 644.7L668 644.7L670 644.8L672.1 644.8L674.1 644.8L676.2 644.7L678.2 644.6L680.3 644.5L682.3 644.3L684.4 644L686.4 643.6L688.5 643.2L690.5 642.7L692.6 642.2L694.6 641.6L696.7 641L698.7 640.4L700.8 639.9L702.8 639.5L704.9 639.2L706.9 639.1L709 639.1L711 639.3L713.1 639.6L715.1 640.1L717.2 640.7L719.2 641.3L721.3 642L723.3 642.7L725.4 643.4L727.4 644.1L729.5 644.6L731.5 645.1L733.6 645.5L735.6 645.9L737.7 646.2L739.7 646.4L741.8 646.6L743.8 646.7L745.9 646.8L747.9 646.9L750 647L752 647.1L754.1 647.1L756.1 647.2L758.2 647.2L760.2 647.3L762.3 647.3L764.3 647.4L766.4 647.4L768.4 647.5L770.5 647.5L772.5 647.5L774.6 647.6L776.6 647.6L778.7 647.7L780.7 647.7L782.8 647.8L784.8 647.8L786.9 647.9L788.9 647.9L791 647.9L793 648L795.1 648L797.1 648.1L799.2 648.1L801.2 648.2L803.3 648.2L805.3 648.2L807.4 648.3L809.4 648.3L811.5 648.4L813.5 648.4L815.6 648.4L817.6 648.5L819.7 648.5L821.7 648.6L823.8 648.6L825.8 648.7L827.9 648.7L829.9 648.7L832 648.8L834 648.8L836.1 648.9L838.1 648.9L840.2 648.9L842.2 649L844.3 649L846.3 649.1L848.4 649.1L850.4 649.1"/>
<path d="M545 631.9L547 632.2L549.1 632.6L551.1 632.9L553.2 633.2L555.2 633.5L557.3 633.8L559.3 634L561.4 634.3L563.4 634.6L565.5 634.8L567.5 635.1L569.6 635.3L571.6 635.5L573.7 635.7L575.7 635.9L577.8 636.1L579.8 636.2L581.9 636.3L583.9 636.4L586 636.4L588 636.3L590.1 636.2L592.1 636.1L594.2 635.9L596.2 635.7L598.3 635.4L600.3 635.3L602.4 635.2L604.4 635.2L606.5 635.3L608.5 635.5L610.6 635.8L612.6 636.2L614.7 636.7L616.7 637.2L618.8 637.7L620.8 638.2L622.9 638.6L624.9 639L627 639.3L629 639.6L631.1 639.8L633.1 640L635.2 640.1L637.2 640.2L639.3 640.4L641.3 640.5L643.4 640.6L645.4 640.7L647.5 640.8L649.5 640.8L651.6 640.9L653.6 641L655.7 641.1L657.7 641.2L659.8 641.2L661.8 641.3L663.9 641.4L665.9 641.4L668 641.5L670 641.5L672.1 641.6L674.1 641.6L676.2 641.5L678.2 641.5L680.3 641.4L682.3 641.3L684.4 641.1L686.4 640.8L688.5 640.5L690.5 640.2L692.6 639.8L694.6 639.4L696.7 638.9L698.7 638.5L700.8 638.2L702.8 637.9L704.9 637.7L706.9 637.6L709 637.6L711 637.8L713.1 638L715.1 638.4L717.2 638.9L719.2 639.4L721.3 639.9L723.3 640.4L725.4 640.9L727.4 641.4L729.5 641.9L731.5 642.2L733.6 642.6L735.6 642.8L737.7 643.1L739.7 643.2L741.8 643.4L743.8 643.5L745.9 643.6L747.9 643.7L750 643.7L752 643.8L754.1 643.9L756.1 643.9L758.2 644L760.2 644L762.3 644.1L764.3 644.1L766.4 644.1L768.4 644.2L770.5 644.2L772.5 644.3L774.6 644.3L776.6 644.4L778.7 644.4L780.7 644.5L782.8 644.5L784.8 644.5L786.9 644.6L788.9 644.6L791 644.7L793 644.7L795.1 644.8L797.1 644.8L799.2 644.8L801.2 644.9L803.3 644.9L805.3 645L807.4 645L809.4 645L811.5 645.1L813.5 645.1L815.6 645.2L817.6 645.2L819.7 645.3L821.7 645.3L823.8 645.3L825.8 645.4L827.9 645.4L829.9 645.5L832 645.5L834 645.5L836.1 645.6L838.1 645.6L840.2 645.7L842.2 645.7L844.3 645.7L846.3 645.8L848.4 645.8L850.4 645.9"/>
<path d="M545 628.7L547 629L549.1 629.3L551.1 629.6L553.2 629.9L555.2 630.2L557.3 630.5L559.3 630.8L561.4 631.1L563.4 631.3L565.5 631.6L567.5 631.8L569.6 632.1L571.6 632.3L573.7 632.5L575.7 632.7L577.8 632.8L579.8 632.9L581.9 633L583.9 633.1L586 633L588 632.9L590.1 632.8L592.1 632.5L594.2 632.3L596.2 632L598.3 631.7L600.3 631.4L602.4 631.3L604.4 631.2L606.5 631.3L608.5 631.6L610.6 631.9L612.6 632.4L614.7 633L616.7 633.5L618.8 634.1L620.8 634.7L622.9 635.1L624.9 635.6L627 635.9L629 636.2L631.1 636.5L633.1 636.7L635.2 636.8L637.2 637L639.3 637.1L641.3 637.2L643.4 637.3L645.4 637.4L647.5 637.5L649.5 637.6L651.6 637.7L653.6 637.7L655.7 637.8L657.7 637.9L659.8 638L661.8 638.1L663.9 638.1L665.9 638.2L668 638.2L670 638.3L672.1 638.3L674.1 638.3L676.2 638.3L678.2 638.3L680.3 638.2L682.3 638.1L684.4 638L686.4 637.8L688.5 637.6L690.5 637.3L692.6 637L694.6 636.6L696.7 636.3L698.7 636L700.8 635.7L702.8 635.4L704.9 635.3L706.9 635.2L709 635.3L711 635.4L713.1 635.6L715.1 635.9L717.2 636.3L719.2 636.7L721.3 637.2L723.3 637.6L725.4 638.1L727.4 638.5L729.5 638.8L731.5 639.2L733.6 639.4L735.6 639.7L737.7 639.9L739.7 640L741.8 640.2L743.8 640.3L745.9 640.3L747.9 640.4L750 640.5L752 640.5L754.1 640.6L756.1 640.6L758.2 640.7L760.2 640.7L762.3 640.8L764.3 640.8L766.4 640.9L768.4 640.9L770.5 641L772.5 641L774.6 641.1L776.6 641.1L778.7 641.1L780.7 641.2L782.8 641.2L784.8 641.3L786.9 641.3L788.9 641.4L791 641.4L793 641.4L795.1 641.5L797.1 641.5L799.2 641.6L801.2 641.6L803.3 641.7L805.3 641.7L807.4 641.7L809.4 641.8L811.5 641.8L813.5 641.9L815.6 641.9L817.6 641.9L819.7 642L821.7 642L823.8 642.1L825.8 642.1L827.9 642.2L829.9 642.2L832 642.2L834 642.3L836.1 642.3L838.1 642.4L840.2 642.4L842.2 642.4L844.3 642.5L846.3 642.5L848.4 642.6L850.4 642.6"/>
<path d="M545 625.4L547 625.8L549.1 626.1L551.1 626.4L553.2 626.7L555.2 627L557.3 627.3L559.3 627.6L561.4 627.8L563.4 628.1L565.5 628.3L567.5 628.6L569.6 628.8L571.6 629L573.7 629.2L575.7 629.4L577.8 629.6L579.8 629.7L581.9 629.7L583.9 629.7L586 629.7L588 629.5L590.1 629.3L592.1 629L594.2 628.6L596.2 628.3L598.3 627.9L600.3 627.6L602.4 627.4L604.4 627.3L606.5 627.4L608.5 627.7L610.6 628.1L612.6 628.6L614.7 629.2L616.7 629.9L618.8 630.5L620.8 631.1L622.9 631.7L624.9 632.2L627 632.6L629 632.9L631.1 633.2L633.1 633.4L635.2 633.6L637.2 633.7L639.3 633.8L641.3 634L643.4 634.1L645.4 634.2L647.5 634.2L649.5 634.3L651.6 634.4L653.6 634.5L655.7 634.6L657.7 634.6L659.8 634.7L661.8 634.8L663.9 634.9L665.9 634.9L668 635L670 635L672.1 635.1L674.1 635.1L676.2 635.1L678.2 635.1L680.3 635.1L682.3 635L684.4 634.9L686.4 634.8L688.5 634.6L690.5 634.4L692.6 634.1L694.6 633.9L696.7 633.6L698.7 633.4L700.8 633.2L702.8 633L704.9 632.9L706.9 632.9L709 632.9L711 633L713.1 633.2L715.1 633.5L717.2 633.8L719.2 634.1L721.3 634.5L723.3 634.8L725.4 635.2L727.4 635.5L729.5 635.8L731.5 636.1L733.6 636.3L735.6 636.5L737.7 636.7L739.7 636.8L741.8 636.9L743.8 637L745.9 637.1L747.9 637.2L750 637.2L752 637.3L754.1 637.3L756.1 637.4L758.2 637.4L760.2 637.5L762.3 637.5L764.3 637.6L766.4 637.6L768.4 637.7L770.5 637.7L772.5 637.7L774.6 637.8L776.6 637.8L778.7 637.9L780.7 637.9L782.8 638L784.8 638L786.9 638L788.9 638.1L791 638.1L793 638.2L795.1 638.2L797.1 638.3L799.2 638.3L801.2 638.3L803.3 638.4L805.3 638.4L807.4 638.5L809.4 638.5L811.5 638.6L813.5 638.6L815.6 638.6L817.6 638.7L819.7 638.7L821.7 638.8L823.8 638.8L825.8 638.8L827.9 638.9L829.9 638.9L832 639L834 639L836.1 639L838.1 639.1L840.2 639.1L842.2 639.2L844.3 639.2L846.3 639.2L848.4 639.3L850.4 639.3"/>
<path d="M545 622.2L547 622.5L549.1 622.9L551.1 623.2L553.2 623.5L555.2 623.8L557.3 624.1L559.3 624.3L561.4 624.6L563.4 624.9L565.5 625.1L567.5 625.3L569.6 625.6L571.6 625.8L573.7 626L575.7 626.2L577.8 626.3L579.8 626.4L581.9 626.4L583.9 626.4L586 626.3L588 626.1L590.1 625.8L592.1 625.5L594.2 625.1L596.2 624.6L598.3 624.2L600.3 623.8L602.4 623.5L604.4 623.4L606.5 623.5L608.5 623.8L610.6 624.2L612.6 624.8L614.7 625.5L616.7 626.2L618.8 627L620.8 627.6L622.9 628.3L624.9 628.8L627 629.2L629 629.6L631.1 629.9L633.1 630.1L635.2 630.3L637.2 630.5L639.3 630.6L641.3 630.7L643.4 630.8L645.4 630.9L647.5 631L649.5 631.1L651.6 631.2L653.6 631.2L655.7 631.3L657.7 631.4L659.8 631.5L661.8 631.5L663.9 631.6L665.9 631.7L668 631.7L670 631.8L672.1 631.8L674.1 631.9L676.2 631.9L678.2 631.9L680.3 631.9L682.3 631.8L684.4 631.8L686.4 631.7L688.5 631.5L690.5 631.4L692.6 631.2L694.6 631L696.7 630.8L698.7 630.6L700.8 630.5L702.8 630.3L704.9 630.3L706.9 630.2L709 630.3L711 630.4L713.1 630.6L715.1 630.8L717.2 631L719.2 631.3L721.3 631.6L723.3 631.9L725.4 632.2L727.4 632.5L729.5 632.7L731.5 633L733.6 633.2L735.6 633.3L737.7 633.5L739.7 633.6L741.8 633.7L743.8 633.8L745.9 633.8L747.9 633.9L750 634L752 634L754.1 634.1L756.1 634.1L758.2 634.2L760.2 634.2L762.3 634.3L764.3 634.3L766.4 634.3L768.4 634.4L770.5 634.4L772.5 634.5L774.6 634.5L776.6 634.6L778.7 634.6L780.7 634.7L782.8 634.7L784.8 634.7L786.9 634.8L788.9 634.8L791 634.9L793 634.9L795.1 635L797.1 635L799.2 635L801.2 635.1L803.3 635.1L805.3 635.2L807.4 635.2L809.4 635.2L811.5 635.3L813.5 635.3L815.6 635.4L817.6 635.4L819.7 635.4L821.7 635.5L823.8 635.5L825.8 635.6L827.9 635.6L829.9 635.7L832 635.7L834 635.7L836.1 635.8L838.1 635.8L840.2 635.9L842.2 635.9L844.3 635.9L846.3 636L848.4 636L850.4 636.1"/>
<path d="M545 619L547 619.3L549.1 619.6L551.1 620L553.2 620.3L555.2 620.5L557.3 620.8L559.3 621.1L561.4 621.4L563.4 621.6L565.5 621.9L567.5 622.1L569.6 622.3L571.6 622.5L573.7 622.7L575.7 622.9L577.8 623L579.8 623.1L581.9 623.1L583.9 623.1L586 623L588 622.7L590.1 622.4L592.1 622L594.2 621.5L596.2 620.9L598.3 620.4L600.3 620L602.4 619.7L604.4 619.6L606.5 619.6L608.5 619.9L610.6 620.4L612.6 621L614.7 621.8L616.7 622.6L618.8 623.4L620.8 624.1L622.9 624.8L624.9 625.4L627 625.9L629 626.3L631.1 626.6L633.1 626.8L635.2 627L637.2 627.2L639.3 627.3L641.3 627.4L643.4 627.5L645.4 627.6L647.5 627.7L649.5 627.8L651.6 627.9L653.6 628L655.7 628.1L657.7 628.1L659.8 628.2L661.8 628.3L663.9 628.4L665.9 628.4L668 628.5L670 628.5L672.1 628.6L674.1 628.6L676.2 628.7L678.2 628.7L680.3 628.7L682.3 628.7L684.4 628.6L686.4 628.6L688.5 628.5L690.5 628.4L692.6 628.3L694.6 628.1L696.7 628L698.7 627.9L700.8 627.8L702.8 627.7L704.9 627.6L706.9 627.6L709 627.7L711 627.8L713.1 627.9L715.1 628.1L717.2 628.3L719.2 628.5L721.3 628.8L723.3 629L725.4 629.2L727.4 629.5L729.5 629.7L731.5 629.8L733.6 630L735.6 630.1L737.7 630.3L739.7 630.4L741.8 630.4L743.8 630.5L745.9 630.6L747.9 630.7L750 630.7L752 630.8L754.1 630.8L756.1 630.9L758.2 630.9L760.2 630.9L762.3 631L764.3 631L766.4 631.1L768.4 631.1L770.5 631.2L772.5 631.2L774.6 631.3L776.6 631.3L778.7 631.3L780.7 631.4L782.8 631.4L784.8 631.5L786.9 631.5L788.9 631.6L791 631.6L793 631.6L795.1 631.7L797.1 631.7L799.2 631.8L801.2 631.8L803.3 631.8L805.3 631.9L807.4 631.9L809.4 632L811.5 632L813.5 632.1L815.6 632.1L817.6 632.1L819.7 632.2L821.7 632.2L823.8 632.3L825.8 632.3L827.9 632.3L829.9 632.4L832 632.4L834 632.5L836.1 632.5L838.1 632.5L840.2 632.6L842.2 632.6L844.3 632.7L846.3 632.7L848.4 632.7L850.4 632.8"/>
<path d="M545 615.8L547 616.1L549.1 616.4L551.1 616.7L553.2 617L555.2 617.3L557.3 617.6L559.3 617.9L561.4 618.1L563.4 618.4L565.5 618.6L567.5 618.9L569.6 619.1L571.6 619.3L573.7 619.5L575.7 619.7L577.8 619.8L579.8 619.9L581.9 619.9L583.9 619.8L586 619.6L588 619.3L590.1 618.9L592.1 618.4L594.2 617.9L596.2 617.3L598.3 616.7L600.3 616.2L602.4 615.8L604.4 615.7L606.5 615.7L608.5 616L610.6 616.6L612.6 617.2L614.7 618.1L616.7 618.9L618.8 619.8L620.8 620.6L622.9 621.4L624.9 622L627 622.5L629 623L631.1 623.3L633.1 623.6L635.2 623.8L637.2 623.9L639.3 624.1L641.3 624.2L643.4 624.3L645.4 624.4L647.5 624.5L649.5 624.6L651.6 624.6L653.6 624.7L655.7 624.8L657.7 624.9L659.8 625L661.8 625L663.9 625.1L665.9 625.2L668 625.2L670 625.3L672.1 625.4L674.1 625.4L676.2 625.4L678.2 625.5L680.3 625.5L682.3 625.5L684.4 625.5L686.4 625.5L688.5 625.4L690.5 625.4L692.6 625.3L694.6 625.2L696.7 625.2L698.7 625.1L700.8 625L702.8 625L704.9 625L706.9 625L709 625.1L711 625.1L713.1 625.2L715.1 625.4L717.2 625.5L719.2 625.7L721.3 625.9L723.3 626.1L725.4 626.3L727.4 626.4L729.5 626.6L731.5 626.7L733.6 626.8L735.6 627L737.7 627.1L739.7 627.1L741.8 627.2L743.8 627.3L745.9 627.3L747.9 627.4L750 627.4L752 627.5L754.1 627.5L756.1 627.6L758.2 627.6L760.2 627.7L762.3 627.7L764.3 627.8L766.4 627.8L768.4 627.9L770.5 627.9L772.5 627.9L774.6 628L776.6 628L778.7 628.1L780.7 628.1L782.8 628.2L784.8 628.2L786.9 628.2L788.9 628.3L791 628.3L793 628.4L795.1 628.4L797.1 628.5L799.2 628.5L801.2 628.5L803.3 628.6L805.3 628.6L807.4 628.7L809.4 628.7L811.5 628.7L813.5 628.8L815.6 628.8L817.6 628.9L819.7 628.9L821.7 628.9L823.8 629L825.8 629L827.9 629.1L829.9 629.1L832 629.1L834 629.2L836.1 629.2L838.1 629.3L840.2 629.3L842.2 629.3L844.3 629.4L846.3 629.4L848.4 629.5L850.4 629.5"/>
<path d="M545 612.5L547 612.9L549.1 613.2L551.1 613.5L553.2 613.8L555.2 614.1L557.3 614.4L559.3 614.6L561.4 614.9L563.4 615.2L565.5 615.4L567.5 615.6L569.6 615.9L571.6 616.1L573.7 616.3L575.7 616.4L577.8 616.5L579.8 616.6L581.9 616.6L583.9 616.5L586 616.2L588 615.9L590.1 615.5L592.1 614.9L594.2 614.3L596.2 613.6L598.3 612.9L600.3 612.4L602.4 612L604.4 611.8L606.5 611.8L608.5 612.2L610.6 612.7L612.6 613.5L614.7 614.3L616.7 615.3L618.8 616.2L620.8 617.1L622.9 617.9L624.9 618.6L627 619.2L629 619.6L631.1 620L633.1 620.3L635.2 620.5L637.2 620.7L639.3 620.8L641.3 620.9L643.4 621L645.4 621.1L647.5 621.2L649.5 621.3L651.6 621.4L653.6 621.5L655.7 621.5L657.7 621.6L659.8 621.7L661.8 621.8L663.9 621.8L665.9 621.9L668 622L670 622L672.1 622.1L674.1 622.2L676.2 622.2L678.2 622.3L680.3 622.3L682.3 622.3L684.4 622.3L686.4 622.3L688.5 622.3L690.5 622.3L692.6 622.3L694.6 622.3L696.7 622.2L698.7 622.2L700.8 622.2L702.8 622.2L704.9 622.2L706.9 622.2L709 622.3L711 622.3L713.1 622.4L715.1 622.5L717.2 622.7L719.2 622.8L721.3 622.9L723.3 623.1L725.4 623.2L727.4 623.3L729.5 623.4L731.5 623.6L733.6 623.7L735.6 623.7L737.7 623.8L739.7 623.9L741.8 624L743.8 624L745.9 624.1L747.9 624.1L750 624.2L752 624.2L754.1 624.3L756.1 624.3L758.2 624.4L760.2 624.4L762.3 624.5L764.3 624.5L766.4 624.6L768.4 624.6L770.5 624.6L772.5 624.7L774.6 624.7L776.6 624.8L778.7 624.8L780.7 624.9L782.8 624.9L784.8 624.9L786.9 625L788.9 625L791 625.1L793 625.1L795.1 625.1L797.1 625.2L799.2 625.2L801.2 625.3L803.3 625.3L805.3 625.4L807.4 625.4L809.4 625.4L811.5 625.5L813.5 625.5L815.6 625.6L817.6 625.6L819.7 625.6L821.7 625.7L823.8 625.7L825.8 625.8L827.9 625.8L829.9 625.8L832 625.9L834 625.9L836.1 626L838.1 626L840.2 626L842.2 626.1L844.3 626.1L846.3 626.2L848.4 626.2L850.4 626.2"/>
<path d="M545 609.3L547 609.6L549.1 610L551.1 610.3L553.2 610.6L555.2 610.9L557.3 611.1L559.3 611.4L561.4 611.7L563.4 611.9L565.5 612.2L567.5 612.4L569.6 612.6L571.6 612.8L573.7 613L575.7 613.2L577.8 613.3L579.8 613.3L581.9 613.3L583.9 613.1L586 612.9L588 612.5L590.1 612L592.1 611.4L594.2 610.7L596.2 609.9L598.3 609.2L600.3 608.6L602.4 608.1L604.4 607.9L606.5 608L608.5 608.3L610.6 608.9L612.6 609.7L614.7 610.6L616.7 611.6L618.8 612.7L620.8 613.6L622.9 614.5L624.9 615.2L627 615.8L629 616.3L631.1 616.7L633.1 617L635.2 617.2L637.2 617.4L639.3 617.5L641.3 617.7L643.4 617.8L645.4 617.9L647.5 618L649.5 618L651.6 618.1L653.6 618.2L655.7 618.3L657.7 618.4L659.8 618.4L661.8 618.5L663.9 618.6L665.9 618.7L668 618.7L670 618.8L672.1 618.9L674.1 618.9L676.2 619L678.2 619L680.3 619.1L682.3 619.1L684.4 619.2L686.4 619.2L688.5 619.2L690.5 619.2L692.6 619.3L694.6 619.3L696.7 619.3L698.7 619.3L700.8 619.3L702.8 619.4L704.9 619.4L706.9 619.4L709 619.5L711 619.5L713.1 619.6L715.1 619.7L717.2 619.8L719.2 619.9L721.3 620L723.3 620.1L725.4 620.1L727.4 620.2L729.5 620.3L731.5 620.4L733.6 620.5L735.6 620.5L737.7 620.6L739.7 620.7L741.8 620.7L743.8 620.8L745.9 620.8L747.9 620.9L750 620.9L752 621L754.1 621L756.1 621.1L758.2 621.1L760.2 621.2L762.3 621.2L764.3 621.2L766.4 621.3L768.4 621.3L770.5 621.4L772.5 621.4L774.6 621.5L776.6 621.5L778.7 621.5L780.7 621.6L782.8 621.6L784.8 621.7L786.9 621.7L788.9 621.8L791 621.8L793 621.8L795.1 621.9L797.1 621.9L799.2 622L801.2 622L803.3 622L805.3 622.1L807.4 622.1L809.4 622.2L811.5 622.2L813.5 622.2L815.6 622.3L817.6 622.3L819.7 622.4L821.7 622.4L823.8 622.4L825.8 622.5L827.9 622.5L829.9 622.6L832 622.6L834 622.6L836.1 622.7L838.1 622.7L840.2 622.8L842.2 622.8L844.3 622.8L846.3 622.9L848.4 622.9L850.4 623"/>
<path d="M545 606.1L547 606.4L549.1 606.7L551.1 607L553.2 607.3L555.2 607.6L557.3 607.9L559.3 608.2L561.4 608.4L563.4 608.7L565.5 608.9L567.5 609.2L569.6 609.4L571.6 609.6L573.7 609.8L575.7 609.9L577.8 610L579.8 610L581.9 610L583.9 609.8L586 609.5L588 609.1L590.1 608.6L592.1 607.9L594.2 607.1L596.2 606.3L598.3 605.5L600.3 604.8L602.4 604.3L604.4 604L606.5 604.1L608.5 604.4L610.6 605L612.6 605.9L614.7 606.9L616.7 608L618.8 609.1L620.8 610.1L622.9 611L624.9 611.8L627 612.5L629 613L631.1 613.4L633.1 613.7L635.2 614L637.2 614.1L639.3 614.3L641.3 614.4L643.4 614.5L645.4 614.6L647.5 614.7L649.5 614.8L651.6 614.9L653.6 615L655.7 615L657.7 615.1L659.8 615.2L661.8 615.3L663.9 615.3L665.9 615.4L668 615.5L670 615.5L672.1 615.6L674.1 615.7L676.2 615.7L678.2 615.8L680.3 615.9L682.3 615.9L684.4 616L686.4 616.1L688.5 616.1L690.5 616.2L692.6 616.2L694.6 616.3L696.7 616.4L698.7 616.4L700.8 616.5L702.8 616.5L704.9 616.6L706.9 616.6L709 616.7L711 616.7L713.1 616.8L715.1 616.8L717.2 616.9L719.2 616.9L721.3 617L723.3 617L725.4 617.1L727.4 617.1L729.5 617.2L731.5 617.2L733.6 617.3L735.6 617.3L737.7 617.4L739.7 617.4L741.8 617.5L743.8 617.5L745.9 617.6L747.9 617.6L750 617.7L752 617.7L754.1 617.8L756.1 617.8L758.2 617.8L760.2 617.9L762.3 617.9L764.3 618L766.4 618L768.4 618.1L770.5 618.1L772.5 618.1L774.6 618.2L776.6 618.2L778.7 618.3L780.7 618.3L782.8 618.4L784.8 618.4L786.9 618.4L788.9 618.5L791 618.5L793 618.6L795.1 618.6L797.1 618.7L799.2 618.7L801.2 618.7L803.3 618.8L805.3 618.8L807.4 618.9L809.4 618.9L811.5 618.9L813.5 619L815.6 619L817.6 619.1L819.7 619.1L821.7 619.1L823.8 619.2L825.8 619.2L827.9 619.3L829.9 619.3L832 619.3L834 619.4L836.1 619.4L838.1 619.5L840.2 619.5L842.2 619.5L844.3 619.6L846.3 619.6L848.4 619.7L850.4 619.7"/>
</g>
<g fill="none" stroke="#df3050" stroke-width="1.4">
<path d="M545 520.9L547 521.1L549.1 521.3L551.1 521.4L553.2 521.6L555.2 521.8L557.3 521.9L559.3 522.1L561.4 522.2L563.4 522.4L565.5 522.5L567.5 522.6L569.6 522.8L571.6 522.9L573.7 523L575.7 523.1L577.8 523.3L579.8 523.4L581.9 523.5L583.9 523.6L586 523.7L588 523.8L590.1 523.9L592.1 524L594.2 524.1L596.2 524.2L598.3 524.3L600.3 524.3L602.4 524.4L604.4 524.5L606.5 524.6L608.5 524.7L610.6 524.7L612.6 524.8L614.7 524.9L616.7 524.9L618.8 525L620.8 525.1L622.9 525.1L624.9 525.2L627 525.3L629 525.3L631.1 525.4L633.1 525.4L635.2 525.5L637.2 525.5L639.3 525.6L641.3 525.6L643.4 525.7L645.4 525.7L647.5 525.8L649.5 525.8L651.6 525.9L653.6 525.9L655.7 526L657.7 526L659.8 526.1L661.8 526.1L663.9 526.1L665.9 526.2L668 526.2L670 526.3L672.1 526.3L674.1 526.3L676.2 526.4L678.2 526.4L680.3 526.5L682.3 526.5L684.4 526.5L686.4 526.6L688.5 526.6L690.5 526.6L692.6 526.7L694.6 526.7L696.7 526.7L698.7 526.8L700.8 526.8L702.8 526.8L704.9 526.9L706.9 526.9L709 526.9L711 526.9L713.1 527L715.1 527L717.2 527L719.2 527.1L721.3 527.1L723.3 527.1L725.4 527.1L727.4 527.2L729.5 527.2L731.5 527.2L733.6 527.3L735.6 527.3L737.7 527.3L739.7 527.3L741.8 527.4L743.8 527.4L745.9 527.4L747.9 527.4L750 527.5L752 527.5L754.1 527.5L756.1 527.5L758.2 527.6L760.2 527.6L762.3 527.6L764.3 527.6L766.4 527.6L768.4 527.6L770.5 527.5L772.5 527.5L774.6 527.4L776.6 527.3L778.7 527.1L780.7 526.8L782.8 526.5L784.8 526.1L786.9 525.6L788.9 525L791 524.3L793 523.4L795.1 522.5L797.1 521.5L799.2 520.4L801.2 519.4L803.3 518.3L805.3 517.3L807.4 516.4L809.4 515.7L811.5 515.1L813.5 514.8L815.6 514.7L817.6 514.8L819.7 515.2L821.7 515.8L823.8 516.6L825.8 517.5L827.9 518.5L829.9 519.7L832 520.8L834 521.9L836.1 522.9L838.1 523.9L840.2 524.8L842.2 525.6L844.3 526.2L846.3 526.8L848.4 527.2L850.4 527.6L850.4 616.5L848.4 616.4L846.3 616.4L844.3 616.4L842.2 616.3L840.2 616.3L838.1 616.2L836.1 616.2L834 616.2L832 616.1L829.9 616.1L827.9 616L825.8 616L823.8 616L821.7 615.9L819.7 615.9L817.6 615.9L815.6 615.8L813.5 615.8L811.5 615.7L809.4 615.7L807.4 615.7L805.3 615.6L803.3 615.6L801.2 615.5L799.2 615.5L797.1 615.5L795.1 615.4L793 615.4L791 615.4L788.9 615.3L786.9 615.3L784.8 615.2L782.8 615.2L780.7 615.2L778.7 615.1L776.6 615.1L774.6 615L772.5 615L770.5 614.9L768.4 614.9L766.4 614.9L764.3 614.8L762.3 614.8L760.2 614.7L758.2 614.7L756.1 614.6L754.1 614.5L752 614.5L750 614.4L747.9 614.3L745.9 614.2L743.8 614L741.8 613.9L739.7 613.7L737.7 613.4L735.6 613.2L733.6 612.9L731.5 612.6L729.5 612.2L727.4 611.8L725.4 611.4L723.3 611L721.3 610.6L719.2 610.3L717.2 609.9L715.1 609.6L713.1 609.4L711 609.2L709 609.1L706.9 609L704.9 609.1L702.8 609.2L700.8 609.4L698.7 609.6L696.7 609.8L694.6 610.1L692.6 610.4L690.5 610.7L688.5 611L686.4 611.3L684.4 611.5L682.3 611.7L680.3 611.9L678.2 612L676.2 612.1L674.1 612.2L672.1 612.2L670 612.3L668 612.3L665.9 612.2L663.9 612.2L661.8 612.2L659.8 612.1L657.7 612.1L655.7 612L653.6 611.9L651.6 611.9L649.5 611.8L647.5 611.7L645.4 611.6L643.4 611.5L641.3 611.4L639.3 611.3L637.2 611.2L635.2 611L633.1 610.8L631.1 610.5L629 610.1L627 609.6L624.9 609L622.9 608.3L620.8 607.5L618.8 606.5L616.7 605.5L614.7 604.5L612.6 603.6L610.6 602.8L608.5 602.3L606.5 601.9L604.4 601.9L602.4 602.1L600.3 602.6L598.3 603.2L596.2 603.9L594.2 604.6L592.1 605.3L590.1 606L588 606.5L586 606.8L583.9 607.1L581.9 607.2L579.8 607.3L577.8 607.2L575.7 607.1L573.7 607L571.6 606.8L569.6 606.6L567.5 606.4L565.5 606.2L563.4 606L561.4 605.7L559.3 605.5L557.3 605.2L555.2 604.9L553.2 604.7L551.1 604.4L549.1 604.1L547 603.8L545 603.5Z" fill="#fbe8ee" stroke="none"/>
<path d="M545 603.5L547 603.8L549.1 604.1L551.1 604.4L553.2 604.7L555.2 604.9L557.3 605.2L559.3 605.5L561.4 605.7L563.4 606L565.5 606.2L567.5 606.4L569.6 606.6L571.6 606.8L573.7 607L575.7 607.1L577.8 607.2L579.8 607.3L581.9 607.2L583.9 607.1L586 606.8L588 606.5L590.1 606L592.1 605.3L594.2 604.6L596.2 603.9L598.3 603.2L600.3 602.6L602.4 602.1L604.4 601.9L606.5 601.9L608.5 602.3L610.6 602.8L612.6 603.6L614.7 604.5L616.7 605.5L618.8 606.5L620.8 607.5L622.9 608.3L624.9 609L627 609.6L629 610.1L631.1 610.5L633.1 610.8L635.2 611L637.2 611.2L639.3 611.3L641.3 611.4L643.4 611.5L645.4 611.6L647.5 611.7L649.5 611.8L651.6 611.9L653.6 611.9L655.7 612L657.7 612.1L659.8 612.1L661.8 612.2L663.9 612.2L665.9 612.2L668 612.3L670 612.3L672.1 612.2L674.1 612.2L676.2 612.1L678.2 612L680.3 611.9L682.3 611.7L684.4 611.5L686.4 611.3L688.5 611L690.5 610.7L692.6 610.4L694.6 610.1L696.7 609.8L698.7 609.6L700.8 609.4L702.8 609.2L704.9 609.1L706.9 609L709 609.1L711 609.2L713.1 609.4L715.1 609.6L717.2 609.9L719.2 610.3L721.3 610.6L723.3 611L725.4 611.4L727.4 611.8L729.5 612.2L731.5 612.6L733.6 612.9L735.6 613.2L737.7 613.4L739.7 613.7L741.8 613.9L743.8 614L745.9 614.2L747.9 614.3L750 614.4L752 614.5L754.1 614.5L756.1 614.6L758.2 614.7L760.2 614.7L762.3 614.8L764.3 614.8L766.4 614.9L768.4 614.9L770.5 614.9L772.5 615L774.6 615L776.6 615.1L778.7 615.1L780.7 615.2L782.8 615.2L784.8 615.2L786.9 615.3L788.9 615.3L791 615.4L793 615.4L795.1 615.4L797.1 615.5L799.2 615.5L801.2 615.5L803.3 615.6L805.3 615.6L807.4 615.7L809.4 615.7L811.5 615.7L813.5 615.8L815.6 615.8L817.6 615.9L819.7 615.9L821.7 615.9L823.8 616L825.8 616L827.9 616L829.9 616.1L832 616.1L834 616.2L836.1 616.2L838.1 616.2L840.2 616.3L842.2 616.3L844.3 616.4L846.3 616.4L848.4 616.4L850.4 616.5"/>
<path d="M545 600.4L547 600.7L549.1 601L551.1 601.3L553.2 601.6L555.2 601.9L557.3 602.1L559.3 602.4L561.4 602.6L563.4 602.9L565.5 603.1L567.5 603.3L569.6 603.5L571.6 603.7L573.7 603.9L575.7 604L577.8 604.2L579.8 604.2L581.9 604.2L583.9 604.2L586 604L588 603.7L590.1 603.4L592.1 602.9L594.2 602.4L596.2 601.8L598.3 601.3L600.3 600.8L602.4 600.5L604.4 600.3L606.5 600.4L608.5 600.7L610.6 601.2L612.6 601.8L614.7 602.6L616.7 603.4L618.8 604.2L620.8 604.9L622.9 605.6L624.9 606.2L627 606.7L629 607.1L631.1 607.4L633.1 607.7L635.2 607.9L637.2 608L639.3 608.1L641.3 608.3L643.4 608.4L645.4 608.4L647.5 608.5L649.5 608.6L651.6 608.7L653.6 608.7L655.7 608.8L657.7 608.9L659.8 608.9L661.8 608.9L663.9 609L665.9 609L668 608.9L670 608.9L672.1 608.8L674.1 608.7L676.2 608.5L678.2 608.3L680.3 608L682.3 607.7L684.4 607.3L686.4 606.8L688.5 606.3L690.5 605.8L692.6 605.2L694.6 604.7L696.7 604.2L698.7 603.7L700.8 603.3L702.8 602.9L704.9 602.7L706.9 602.6L709 602.6L711 602.8L713.1 603.1L715.1 603.5L717.2 603.9L719.2 604.5L721.3 605.1L723.3 605.8L725.4 606.4L727.4 607.1L729.5 607.7L731.5 608.2L733.6 608.8L735.6 609.2L737.7 609.6L739.7 610L741.8 610.3L743.8 610.5L745.9 610.7L747.9 610.9L750 611.1L752 611.2L754.1 611.3L756.1 611.3L758.2 611.4L760.2 611.5L762.3 611.5L764.3 611.6L766.4 611.6L768.4 611.7L770.5 611.7L772.5 611.8L774.6 611.8L776.6 611.8L778.7 611.9L780.7 611.9L782.8 612L784.8 612L786.9 612L788.9 612.1L791 612.1L793 612.2L795.1 612.2L797.1 612.2L799.2 612.3L801.2 612.3L803.3 612.3L805.3 612.4L807.4 612.4L809.4 612.5L811.5 612.5L813.5 612.5L815.6 612.6L817.6 612.6L819.7 612.7L821.7 612.7L823.8 612.7L825.8 612.8L827.9 612.8L829.9 612.8L832 612.9L834 612.9L836.1 613L838.1 613L840.2 613L842.2 613.1L844.3 613.1L846.3 613.1L848.4 613.2L850.4 613.2"/>
<path d="M545 597.4L547 597.7L549.1 598L551.1 598.2L553.2 598.5L555.2 598.8L557.3 599L559.3 599.3L561.4 599.5L563.4 599.8L565.5 600L567.5 600.2L569.6 600.4L571.6 600.6L573.7 600.8L575.7 601L577.8 601.1L579.8 601.2L581.9 601.2L583.9 601.2L586 601.1L588 601L590.1 600.8L592.1 600.5L594.2 600.1L596.2 599.7L598.3 599.4L600.3 599.1L602.4 598.9L604.4 598.8L606.5 598.9L608.5 599.1L610.6 599.5L612.6 600L614.7 600.6L616.7 601.2L618.8 601.8L620.8 602.4L622.9 602.9L624.9 603.4L627 603.8L629 604.1L631.1 604.4L633.1 604.6L635.2 604.7L637.2 604.9L639.3 605L641.3 605.1L643.4 605.2L645.4 605.3L647.5 605.3L649.5 605.4L651.6 605.5L653.6 605.5L655.7 605.6L657.7 605.6L659.8 605.7L661.8 605.7L663.9 605.7L665.9 605.7L668 605.6L670 605.5L672.1 605.4L674.1 605.2L676.2 604.9L678.2 604.5L680.3 604.1L682.3 603.6L684.4 603L686.4 602.4L688.5 601.6L690.5 600.8L692.6 600L694.6 599.2L696.7 598.5L698.7 597.8L700.8 597.2L702.8 596.7L704.9 596.4L706.9 596.2L709 596.2L711 596.4L713.1 596.8L715.1 597.3L717.2 598L719.2 598.7L721.3 599.6L723.3 600.5L725.4 601.4L727.4 602.3L729.5 603.1L731.5 603.9L733.6 604.6L735.6 605.3L737.7 605.8L739.7 606.3L741.8 606.7L743.8 607L745.9 607.3L747.9 607.5L750 607.7L752 607.9L754.1 608L756.1 608.1L758.2 608.2L760.2 608.2L762.3 608.3L764.3 608.3L766.4 608.4L768.4 608.4L770.5 608.5L772.5 608.5L774.6 608.6L776.6 608.6L778.7 608.6L780.7 608.7L782.8 608.7L784.8 608.8L786.9 608.8L788.9 608.8L791 608.9L793 608.9L795.1 609L797.1 609L799.2 609L801.2 609.1L803.3 609.1L805.3 609.1L807.4 609.2L809.4 609.2L811.5 609.3L813.5 609.3L815.6 609.3L817.6 609.4L819.7 609.4L821.7 609.4L823.8 609.5L825.8 609.5L827.9 609.6L829.9 609.6L832 609.6L834 609.7L836.1 609.7L838.1 609.7L840.2 609.8L842.2 609.8L844.3 609.8L846.3 609.9L848.4 609.9L850.4 610"/>
<path d="M545 594.3L547 594.6L549.1 594.9L551.1 595.2L553.2 595.4L555.2 595.7L557.3 596L559.3 596.2L561.4 596.4L563.4 596.7L565.5 596.9L567.5 597.1L569.6 597.3L571.6 597.5L573.7 597.7L575.7 597.9L577.8 598L579.8 598.2L581.9 598.3L583.9 598.3L586 598.3L588 598.3L590.1 598.2L592.1 598.1L594.2 597.9L596.2 597.8L598.3 597.6L600.3 597.5L602.4 597.4L604.4 597.4L606.5 597.5L608.5 597.7L610.6 598L612.6 598.3L614.7 598.7L616.7 599.1L618.8 599.6L620.8 600L622.9 600.3L624.9 600.6L627 600.9L629 601.1L631.1 601.3L633.1 601.5L635.2 601.6L637.2 601.7L639.3 601.8L641.3 601.9L643.4 602L645.4 602.1L647.5 602.2L649.5 602.2L651.6 602.3L653.6 602.4L655.7 602.4L657.7 602.5L659.8 602.5L661.8 602.5L663.9 602.5L665.9 602.5L668 602.4L670 602.3L672.1 602.1L674.1 601.8L676.2 601.5L678.2 601.1L680.3 600.6L682.3 600.1L684.4 599.4L686.4 598.7L688.5 597.8L690.5 597L692.6 596.1L694.6 595.2L696.7 594.3L698.7 593.5L700.8 592.8L702.8 592.3L704.9 591.9L706.9 591.7L709 591.7L711 591.9L713.1 592.3L715.1 592.9L717.2 593.6L719.2 594.5L721.3 595.4L723.3 596.4L725.4 597.4L727.4 598.4L729.5 599.4L731.5 600.2L733.6 601L735.6 601.8L737.7 602.4L739.7 602.9L741.8 603.3L743.8 603.7L745.9 604L747.9 604.3L750 604.5L752 604.6L754.1 604.7L756.1 604.8L758.2 604.9L760.2 605L762.3 605.1L764.3 605.1L766.4 605.2L768.4 605.2L770.5 605.2L772.5 605.3L774.6 605.3L776.6 605.4L778.7 605.4L780.7 605.4L782.8 605.5L784.8 605.5L786.9 605.6L788.9 605.6L791 605.6L793 605.7L795.1 605.7L797.1 605.8L799.2 605.8L801.2 605.8L803.3 605.9L805.3 605.9L807.4 605.9L809.4 606L811.5 606L813.5 606.1L815.6 606.1L817.6 606.1L819.7 606.2L821.7 606.2L823.8 606.2L825.8 606.3L827.9 606.3L829.9 606.3L832 606.4L834 606.4L836.1 606.5L838.1 606.5L840.2 606.5L842.2 606.6L844.3 606.6L846.3 606.6L848.4 606.7L850.4 606.7"/>
<path d="M545 591.2L547 591.5L549.1 591.8L551.1 592.1L553.2 592.4L555.2 592.6L557.3 592.9L559.3 593.1L561.4 593.4L563.4 593.6L565.5 593.8L567.5 594L569.6 594.2L571.6 594.4L573.7 594.6L575.7 594.8L577.8 595L579.8 595.1L581.9 595.3L583.9 595.4L586 595.5L588 595.6L590.1 595.7L592.1 595.7L594.2 595.8L596.2 595.8L598.3 595.9L600.3 595.9L602.4 596L604.4 596.1L606.5 596.2L608.5 596.3L610.6 596.5L612.6 596.7L614.7 596.9L616.7 597.1L618.8 597.3L620.8 597.5L622.9 597.7L624.9 597.9L627 598L629 598.1L631.1 598.3L633.1 598.4L635.2 598.5L637.2 598.6L639.3 598.7L641.3 598.7L643.4 598.8L645.4 598.9L647.5 599L649.5 599L651.6 599.1L653.6 599.2L655.7 599.2L657.7 599.3L659.8 599.3L661.8 599.3L663.9 599.3L665.9 599.2L668 599.1L670 599L672.1 598.8L674.1 598.5L676.2 598.2L678.2 597.7L680.3 597.2L682.3 596.5L684.4 595.8L686.4 595L688.5 594L690.5 593.1L692.6 592.1L694.6 591.1L696.7 590.1L698.7 589.2L700.8 588.4L702.8 587.8L704.9 587.4L706.9 587.2L709 587.2L711 587.4L713.1 587.9L715.1 588.5L717.2 589.3L719.2 590.2L721.3 591.2L723.3 592.3L725.4 593.4L727.4 594.4L729.5 595.3L731.5 596.2L733.6 596.9L735.6 597.5L737.7 598.1L739.7 598.5L741.8 598.9L743.8 599.2L745.9 599.4L747.9 599.7L750 599.9L752 600.2L754.1 600.5L756.1 600.7L758.2 601L760.2 601.2L762.3 601.4L764.3 601.6L766.4 601.7L768.4 601.8L770.5 601.9L772.5 602L774.6 602.1L776.6 602.1L778.7 602.2L780.7 602.2L782.8 602.3L784.8 602.3L786.9 602.3L788.9 602.4L791 602.4L793 602.4L795.1 602.5L797.1 602.5L799.2 602.6L801.2 602.6L803.3 602.6L805.3 602.7L807.4 602.7L809.4 602.7L811.5 602.8L813.5 602.8L815.6 602.8L817.6 602.9L819.7 602.9L821.7 603L823.8 603L825.8 603L827.9 603.1L829.9 603.1L832 603.1L834 603.2L836.1 603.2L838.1 603.2L840.2 603.3L842.2 603.3L844.3 603.3L846.3 603.4L848.4 603.4L850.4 603.5"/>
<path d="M545 588.2L547 588.5L549.1 588.7L551.1 589L553.2 589.3L555.2 589.5L557.3 589.8L559.3 590L561.4 590.3L563.4 590.5L565.5 590.7L567.5 590.9L569.6 591.1L571.6 591.3L573.7 591.5L575.7 591.7L577.8 591.9L579.8 592L581.9 592.2L583.9 592.4L586 592.5L588 592.7L590.1 592.9L592.1 593L594.2 593.1L596.2 593.3L598.3 593.4L600.3 593.5L602.4 593.7L604.4 593.8L606.5 593.9L608.5 594L610.6 594.2L612.6 594.3L614.7 594.4L616.7 594.5L618.8 594.6L620.8 594.7L622.9 594.8L624.9 594.9L627 595L629 595.1L631.1 595.2L633.1 595.2L635.2 595.3L637.2 595.4L639.3 595.5L641.3 595.6L643.4 595.6L645.4 595.7L647.5 595.8L649.5 595.9L651.6 595.9L653.6 596L655.7 596L657.7 596.1L659.8 596.1L661.8 596.2L663.9 596.2L665.9 596.2L668 596.1L670 596L672.1 595.9L674.1 595.8L676.2 595.5L678.2 595.3L680.3 594.9L682.3 594.5L684.4 594L686.4 593.5L688.5 592.9L690.5 592.3L692.6 591.6L694.6 591L696.7 590.3L698.7 589.8L700.8 589.3L702.8 588.9L704.9 588.6L706.9 588.5L709 588.5L711 588.7L713.1 589L715.1 589.4L717.2 589.9L719.2 590.5L721.3 591L723.3 591.6L725.4 592.1L727.4 592.5L729.5 592.8L731.5 592.8L733.6 592.8L735.6 592.6L737.7 592.3L739.7 591.9L741.8 591.6L743.8 591.4L745.9 591.4L747.9 591.5L750 591.9L752 592.4L754.1 593.2L756.1 594L758.2 594.8L760.2 595.6L762.3 596.4L764.3 597L766.4 597.5L768.4 598L770.5 598.3L772.5 598.5L774.6 598.7L776.6 598.8L778.7 598.9L780.7 598.9L782.8 599L784.8 599L786.9 599.1L788.9 599.1L791 599.2L793 599.2L795.1 599.2L797.1 599.3L799.2 599.3L801.2 599.3L803.3 599.4L805.3 599.4L807.4 599.5L809.4 599.5L811.5 599.5L813.5 599.6L815.6 599.6L817.6 599.6L819.7 599.7L821.7 599.7L823.8 599.7L825.8 599.8L827.9 599.8L829.9 599.8L832 599.9L834 599.9L836.1 600L838.1 600L840.2 600L842.2 600.1L844.3 600.1L846.3 600.1L848.4 600.2L850.4 600.2"/>
<path d="M545 585.1L547 585.4L549.1 585.7L551.1 585.9L553.2 586.2L555.2 586.5L557.3 586.7L559.3 586.9L561.4 587.2L563.4 587.4L565.5 587.6L567.5 587.8L569.6 588L571.6 588.2L573.7 588.4L575.7 588.6L577.8 588.8L579.8 588.9L581.9 589.1L583.9 589.3L586 589.4L588 589.6L590.1 589.7L592.1 589.9L594.2 590L596.2 590.1L598.3 590.3L600.3 590.4L602.4 590.5L604.4 590.6L606.5 590.8L608.5 590.9L610.6 591L612.6 591.1L614.7 591.2L616.7 591.3L618.8 591.4L620.8 591.5L622.9 591.6L624.9 591.7L627 591.8L629 591.9L631.1 592L633.1 592.1L635.2 592.1L637.2 592.2L639.3 592.3L641.3 592.4L643.4 592.5L645.4 592.5L647.5 592.6L649.5 592.7L651.6 592.8L653.6 592.8L655.7 592.9L657.7 592.9L659.8 593L661.8 593.1L663.9 593.1L665.9 593.1L668 593.2L670 593.2L672.1 593.2L674.1 593.1L676.2 593.1L678.2 593L680.3 593L682.3 592.8L684.4 592.7L686.4 592.5L688.5 592.4L690.5 592.2L692.6 592L694.6 591.8L696.7 591.6L698.7 591.4L700.8 591.3L702.8 591.1L704.9 591.1L706.9 591.1L709 591.1L711 591.2L713.1 591.3L715.1 591.4L717.2 591.6L719.2 591.7L721.3 591.8L723.3 591.7L725.4 591.6L727.4 591.3L729.5 590.7L731.5 590L733.6 589L735.6 587.9L737.7 586.7L739.7 585.5L741.8 584.5L743.8 583.8L745.9 583.4L747.9 583.4L750 583.9L752 584.7L754.1 585.9L756.1 587.2L758.2 588.7L760.2 590.1L762.3 591.4L764.3 592.5L766.4 593.4L768.4 594.1L770.5 594.6L772.5 595L774.6 595.3L776.6 595.5L778.7 595.6L780.7 595.7L782.8 595.8L784.8 595.8L786.9 595.9L788.9 595.9L791 595.9L793 596L795.1 596L797.1 596L799.2 596.1L801.2 596.1L803.3 596.1L805.3 596.2L807.4 596.2L809.4 596.3L811.5 596.3L813.5 596.3L815.6 596.4L817.6 596.4L819.7 596.4L821.7 596.5L823.8 596.5L825.8 596.5L827.9 596.6L829.9 596.6L832 596.6L834 596.7L836.1 596.7L838.1 596.7L840.2 596.8L842.2 596.8L844.3 596.8L846.3 596.9L848.4 596.9L850.4 596.9"/>
<path d="M545 582.1L547 582.3L549.1 582.6L551.1 582.9L553.2 583.1L555.2 583.4L557.3 583.6L559.3 583.9L561.4 584.1L563.4 584.3L565.5 584.5L567.5 584.7L569.6 584.9L571.6 585.1L573.7 585.3L575.7 585.5L577.8 585.6L579.8 585.8L581.9 586L583.9 586.1L586 586.3L588 586.4L590.1 586.6L592.1 586.7L594.2 586.9L596.2 587L598.3 587.1L600.3 587.3L602.4 587.4L604.4 587.5L606.5 587.6L608.5 587.7L610.6 587.8L612.6 587.9L614.7 588.1L616.7 588.2L618.8 588.3L620.8 588.4L622.9 588.4L624.9 588.5L627 588.6L629 588.7L631.1 588.8L633.1 588.9L635.2 589L637.2 589.1L639.3 589.1L641.3 589.2L643.4 589.3L645.4 589.4L647.5 589.4L649.5 589.5L651.6 589.6L653.6 589.6L655.7 589.7L657.7 589.8L659.8 589.8L661.8 589.9L663.9 590L665.9 590L668 590.1L670 590.1L672.1 590.2L674.1 590.3L676.2 590.3L678.2 590.4L680.3 590.4L682.3 590.5L684.4 590.5L686.4 590.6L688.5 590.6L690.5 590.7L692.6 590.7L694.6 590.8L696.7 590.8L698.7 590.9L700.8 590.9L702.8 591L704.9 591L706.9 591.1L709 591.1L711 591.1L713.1 591.2L715.1 591.2L717.2 591.2L719.2 591.1L721.3 591L723.3 590.7L725.4 590.4L727.4 589.9L729.5 589.3L731.5 588.5L733.6 587.5L735.6 586.4L737.7 585.3L739.7 584.2L741.8 583.2L743.8 582.5L745.9 582L747.9 581.8L750 581.9L752 582.3L754.1 582.8L756.1 583.5L758.2 584.2L760.2 584.9L762.3 585.5L764.3 586.1L766.4 586.7L768.4 587.2L770.5 587.8L772.5 588.4L774.6 589L776.6 589.7L778.7 590.3L780.7 590.8L782.8 591.3L784.8 591.7L786.9 592L788.9 592.3L791 592.5L793 592.6L795.1 592.7L797.1 592.8L799.2 592.8L801.2 592.9L803.3 592.9L805.3 592.9L807.4 593L809.4 593L811.5 593L813.5 593.1L815.6 593.1L817.6 593.1L819.7 593.2L821.7 593.2L823.8 593.3L825.8 593.3L827.9 593.3L829.9 593.4L832 593.4L834 593.4L836.1 593.5L838.1 593.5L840.2 593.5L842.2 593.6L844.3 593.6L846.3 593.6L848.4 593.7L850.4 593.7"/>
<path d="M545 579L547 579.3L549.1 579.5L551.1 579.8L553.2 580.1L555.2 580.3L557.3 580.5L559.3 580.8L561.4 581L563.4 581.2L565.5 581.4L567.5 581.6L569.6 581.8L571.6 582L573.7 582.2L575.7 582.3L577.8 582.5L579.8 582.7L581.9 582.8L583.9 583L586 583.2L588 583.3L590.1 583.4L592.1 583.6L594.2 583.7L596.2 583.9L598.3 584L600.3 584.1L602.4 584.2L604.4 584.3L606.5 584.5L608.5 584.6L610.6 584.7L612.6 584.8L614.7 584.9L616.7 585L618.8 585.1L620.8 585.2L622.9 585.3L624.9 585.4L627 585.5L629 585.6L631.1 585.6L633.1 585.7L635.2 585.8L637.2 585.9L639.3 586L641.3 586L643.4 586.1L645.4 586.2L647.5 586.3L649.5 586.3L651.6 586.4L653.6 586.5L655.7 586.5L657.7 586.6L659.8 586.7L661.8 586.7L663.9 586.8L665.9 586.8L668 586.9L670 587L672.1 587L674.1 587.1L676.2 587.1L678.2 587.2L680.3 587.2L682.3 587.3L684.4 587.3L686.4 587.4L688.5 587.4L690.5 587.5L692.6 587.5L694.6 587.6L696.7 587.6L698.7 587.7L700.8 587.7L702.8 587.8L704.9 587.8L706.9 587.9L709 587.9L711 587.9L713.1 588L715.1 588L717.2 588L719.2 588L721.3 588L723.3 587.9L725.4 587.8L727.4 587.7L729.5 587.4L731.5 587.1L733.6 586.8L735.6 586.3L737.7 585.9L739.7 585.4L741.8 584.9L743.8 584.5L745.9 584.1L747.9 583.6L750 583.2L752 582.7L754.1 582.2L756.1 581.5L758.2 580.8L760.2 580.1L762.3 579.4L764.3 579L766.4 578.8L768.4 578.9L770.5 579.4L772.5 580.3L774.6 581.4L776.6 582.6L778.7 583.9L780.7 585.1L782.8 586.2L784.8 587.2L786.9 587.9L788.9 588.5L791 588.9L793 589.1L795.1 589.3L797.1 589.4L799.2 589.5L801.2 589.6L803.3 589.7L805.3 589.7L807.4 589.7L809.4 589.8L811.5 589.8L813.5 589.8L815.6 589.9L817.6 589.9L819.7 589.9L821.7 590L823.8 590L825.8 590L827.9 590.1L829.9 590.1L832 590.1L834 590.2L836.1 590.2L838.1 590.2L840.2 590.3L842.2 590.3L844.3 590.3L846.3 590.4L848.4 590.4L850.4 590.4"/>
<path d="M545 575.9L547 576.2L549.1 576.5L551.1 576.7L553.2 577L555.2 577.2L557.3 577.4L559.3 577.7L561.4 577.9L563.4 578.1L565.5 578.3L567.5 578.5L569.6 578.7L571.6 578.9L573.7 579.1L575.7 579.2L577.8 579.4L579.8 579.6L581.9 579.7L583.9 579.9L586 580L588 580.2L590.1 580.3L592.1 580.5L594.2 580.6L596.2 580.7L598.3 580.8L600.3 581L602.4 581.1L604.4 581.2L606.5 581.3L608.5 581.4L610.6 581.5L612.6 581.6L614.7 581.7L616.7 581.8L618.8 581.9L620.8 582L622.9 582.1L624.9 582.2L627 582.3L629 582.4L631.1 582.5L633.1 582.5L635.2 582.6L637.2 582.7L639.3 582.8L641.3 582.9L643.4 582.9L645.4 583L647.5 583.1L649.5 583.1L651.6 583.2L653.6 583.3L655.7 583.3L657.7 583.4L659.8 583.5L661.8 583.5L663.9 583.6L665.9 583.6L668 583.7L670 583.8L672.1 583.8L674.1 583.9L676.2 583.9L678.2 584L680.3 584L682.3 584.1L684.4 584.1L686.4 584.2L688.5 584.2L690.5 584.3L692.6 584.3L694.6 584.4L696.7 584.4L698.7 584.5L700.8 584.5L702.8 584.6L704.9 584.6L706.9 584.7L709 584.7L711 584.7L713.1 584.8L715.1 584.8L717.2 584.9L719.2 584.9L721.3 585L723.3 585L725.4 585L727.4 585.1L729.5 585.1L731.5 585.1L733.6 585.2L735.6 585.2L737.7 585.2L739.7 585.1L741.8 585L743.8 584.8L745.9 584.5L747.9 584L750 583.4L752 582.5L754.1 581.3L756.1 580L758.2 578.6L760.2 577.2L762.3 575.9L764.3 574.9L766.4 574.3L768.4 574.2L770.5 574.6L772.5 575.5L774.6 576.7L776.6 578.1L778.7 579.6L780.7 581.1L782.8 582.4L784.8 583.5L786.9 584.4L788.9 585L791 585.5L793 585.8L795.1 586L797.1 586.2L799.2 586.3L801.2 586.4L803.3 586.4L805.3 586.5L807.4 586.5L809.4 586.5L811.5 586.6L813.5 586.6L815.6 586.6L817.6 586.7L819.7 586.7L821.7 586.7L823.8 586.8L825.8 586.8L827.9 586.8L829.9 586.9L832 586.9L834 586.9L836.1 587L838.1 587L840.2 587L842.2 587.1L844.3 587.1L846.3 587.1L848.4 587.2L850.4 587.2"/>
<path d="M545 572.9L547 573.2L549.1 573.4L551.1 573.7L553.2 573.9L555.2 574.1L557.3 574.4L559.3 574.6L561.4 574.8L563.4 575L565.5 575.2L567.5 575.4L569.6 575.6L571.6 575.8L573.7 575.9L575.7 576.1L577.8 576.3L579.8 576.4L581.9 576.6L583.9 576.7L586 576.9L588 577L590.1 577.2L592.1 577.3L594.2 577.4L596.2 577.6L598.3 577.7L600.3 577.8L602.4 577.9L604.4 578L606.5 578.2L608.5 578.3L610.6 578.4L612.6 578.5L614.7 578.6L616.7 578.7L618.8 578.8L620.8 578.9L622.9 579L624.9 579L627 579.1L629 579.2L631.1 579.3L633.1 579.4L635.2 579.5L637.2 579.5L639.3 579.6L641.3 579.7L643.4 579.7L645.4 579.8L647.5 579.9L649.5 580L651.6 580L653.6 580.1L655.7 580.2L657.7 580.2L659.8 580.3L661.8 580.3L663.9 580.4L665.9 580.5L668 580.5L670 580.6L672.1 580.6L674.1 580.7L676.2 580.7L678.2 580.8L680.3 580.8L682.3 580.9L684.4 580.9L686.4 581L688.5 581L690.5 581.1L692.6 581.1L694.6 581.2L696.7 581.2L698.7 581.3L700.8 581.3L702.8 581.4L704.9 581.4L706.9 581.4L709 581.5L711 581.5L713.1 581.6L715.1 581.6L717.2 581.7L719.2 581.7L721.3 581.7L723.3 581.8L725.4 581.8L727.4 581.9L729.5 581.9L731.5 581.9L733.6 582L735.6 582L737.7 582L739.7 582L741.8 581.9L743.8 581.8L745.9 581.6L747.9 581.4L750 580.9L752 580.3L754.1 579.6L756.1 578.6L758.2 577.5L760.2 576.4L762.3 575.2L764.3 574L766.4 573L768.4 572.3L770.5 571.8L772.5 571.6L774.6 571.7L776.6 572.2L778.7 572.8L780.7 573.6L782.8 574.6L784.8 575.7L786.9 576.7L788.9 577.8L791 578.8L793 579.7L795.1 580.5L797.1 581.2L799.2 581.8L801.2 582.2L803.3 582.5L805.3 582.8L807.4 583L809.4 583.1L811.5 583.2L813.5 583.3L815.6 583.4L817.6 583.4L819.7 583.4L821.7 583.5L823.8 583.5L825.8 583.5L827.9 583.6L829.9 583.6L832 583.6L834 583.7L836.1 583.7L838.1 583.7L840.2 583.8L842.2 583.8L844.3 583.8L846.3 583.9L848.4 583.9L850.4 583.9"/>
<path d="M545 569.8L547 570.1L549.1 570.3L551.1 570.6L553.2 570.8L555.2 571.1L557.3 571.3L559.3 571.5L561.4 571.7L563.4 571.9L565.5 572.1L567.5 572.3L569.6 572.5L571.6 572.7L573.7 572.8L575.7 573L577.8 573.2L579.8 573.3L581.9 573.5L583.9 573.6L586 573.8L588 573.9L590.1 574L592.1 574.2L594.2 574.3L596.2 574.4L598.3 574.6L600.3 574.7L602.4 574.8L604.4 574.9L606.5 575L608.5 575.1L610.6 575.2L612.6 575.3L614.7 575.4L616.7 575.5L618.8 575.6L620.8 575.7L622.9 575.8L624.9 575.9L627 576L629 576L631.1 576.1L633.1 576.2L635.2 576.3L637.2 576.4L639.3 576.4L641.3 576.5L643.4 576.6L645.4 576.6L647.5 576.7L649.5 576.8L651.6 576.8L653.6 576.9L655.7 577L657.7 577L659.8 577.1L661.8 577.1L663.9 577.2L665.9 577.3L668 577.3L670 577.4L672.1 577.4L674.1 577.5L676.2 577.5L678.2 577.6L680.3 577.6L682.3 577.7L684.4 577.7L686.4 577.8L688.5 577.8L690.5 577.9L692.6 577.9L694.6 578L696.7 578L698.7 578.1L700.8 578.1L702.8 578.2L704.9 578.2L706.9 578.2L709 578.3L711 578.3L713.1 578.4L715.1 578.4L717.2 578.4L719.2 578.5L721.3 578.5L723.3 578.6L725.4 578.6L727.4 578.6L729.5 578.7L731.5 578.7L733.6 578.8L735.6 578.8L737.7 578.8L739.7 578.9L741.8 578.9L743.8 578.9L745.9 578.9L747.9 578.9L750 578.9L752 578.9L754.1 578.8L756.1 578.6L758.2 578.3L760.2 578L762.3 577.4L764.3 576.7L766.4 575.8L768.4 574.8L770.5 573.6L772.5 572.3L774.6 571L776.6 569.8L778.7 568.7L780.7 567.9L782.8 567.5L784.8 567.4L786.9 567.7L788.9 568.3L791 569.3L793 570.5L795.1 571.9L797.1 573.2L799.2 574.5L801.2 575.8L803.3 576.8L805.3 577.7L807.4 578.4L809.4 578.9L811.5 579.3L813.5 579.6L815.6 579.8L817.6 580L819.7 580.1L821.7 580.2L823.8 580.2L825.8 580.3L827.9 580.3L829.9 580.4L832 580.4L834 580.4L836.1 580.5L838.1 580.5L840.2 580.5L842.2 580.6L844.3 580.6L846.3 580.6L848.4 580.6L850.4 580.7"/>
<path d="M545 566.8L547 567L549.1 567.3L551.1 567.5L553.2 567.7L555.2 568L557.3 568.2L559.3 568.4L561.4 568.6L563.4 568.8L565.5 569L567.5 569.2L569.6 569.4L571.6 569.5L573.7 569.7L575.7 569.9L577.8 570L579.8 570.2L581.9 570.3L583.9 570.5L586 570.6L588 570.8L590.1 570.9L592.1 571L594.2 571.2L596.2 571.3L598.3 571.4L600.3 571.5L602.4 571.6L604.4 571.7L606.5 571.9L608.5 572L610.6 572.1L612.6 572.2L614.7 572.3L616.7 572.4L618.8 572.4L620.8 572.5L622.9 572.6L624.9 572.7L627 572.8L629 572.9L631.1 572.9L633.1 573L635.2 573.1L637.2 573.2L639.3 573.2L641.3 573.3L643.4 573.4L645.4 573.5L647.5 573.5L649.5 573.6L651.6 573.7L653.6 573.7L655.7 573.8L657.7 573.8L659.8 573.9L661.8 574L663.9 574L665.9 574.1L668 574.1L670 574.2L672.1 574.2L674.1 574.3L676.2 574.3L678.2 574.4L680.3 574.4L682.3 574.5L684.4 574.5L686.4 574.6L688.5 574.6L690.5 574.7L692.6 574.7L694.6 574.8L696.7 574.8L698.7 574.9L700.8 574.9L702.8 574.9L704.9 575L706.9 575L709 575.1L711 575.1L713.1 575.2L715.1 575.2L717.2 575.2L719.2 575.3L721.3 575.3L723.3 575.4L725.4 575.4L727.4 575.4L729.5 575.5L731.5 575.5L733.6 575.5L735.6 575.6L737.7 575.6L739.7 575.7L741.8 575.7L743.8 575.7L745.9 575.7L747.9 575.8L750 575.8L752 575.8L754.1 575.8L756.1 575.7L758.2 575.6L760.2 575.4L762.3 575.1L764.3 574.7L766.4 574.2L768.4 573.5L770.5 572.7L772.5 571.7L774.6 570.5L776.6 569.3L778.7 568L780.7 566.7L782.8 565.6L784.8 564.8L786.9 564.2L788.9 564L791 564.1L793 564.6L795.1 565.4L797.1 566.5L799.2 567.8L801.2 569.1L803.3 570.5L805.3 571.7L807.4 572.9L809.4 573.8L811.5 574.7L813.5 575.3L815.6 575.8L817.6 576.2L819.7 576.5L821.7 576.7L823.8 576.8L825.8 576.9L827.9 577L829.9 577.1L832 577.1L834 577.2L836.1 577.2L838.1 577.2L840.2 577.3L842.2 577.3L844.3 577.3L846.3 577.4L848.4 577.4L850.4 577.4"/>
<path d="M545 563.7L547 564L549.1 564.2L551.1 564.4L553.2 564.7L555.2 564.9L557.3 565.1L559.3 565.3L561.4 565.5L563.4 565.7L565.5 565.9L567.5 566.1L569.6 566.3L571.6 566.4L573.7 566.6L575.7 566.8L577.8 566.9L579.8 567.1L581.9 567.2L583.9 567.4L586 567.5L588 567.6L590.1 567.8L592.1 567.9L594.2 568L596.2 568.1L598.3 568.3L600.3 568.4L602.4 568.5L604.4 568.6L606.5 568.7L608.5 568.8L610.6 568.9L612.6 569L614.7 569.1L616.7 569.2L618.8 569.3L620.8 569.4L622.9 569.5L624.9 569.5L627 569.6L629 569.7L631.1 569.8L633.1 569.9L635.2 569.9L637.2 570L639.3 570.1L641.3 570.1L643.4 570.2L645.4 570.3L647.5 570.3L649.5 570.4L651.6 570.5L653.6 570.5L655.7 570.6L657.7 570.6L659.8 570.7L661.8 570.8L663.9 570.8L665.9 570.9L668 570.9L670 571L672.1 571L674.1 571.1L676.2 571.1L678.2 571.2L680.3 571.2L682.3 571.3L684.4 571.3L686.4 571.4L688.5 571.4L690.5 571.5L692.6 571.5L694.6 571.6L696.7 571.6L698.7 571.6L700.8 571.7L702.8 571.7L704.9 571.8L706.9 571.8L709 571.9L711 571.9L713.1 571.9L715.1 572L717.2 572L719.2 572.1L721.3 572.1L723.3 572.1L725.4 572.2L727.4 572.2L729.5 572.2L731.5 572.3L733.6 572.3L735.6 572.4L737.7 572.4L739.7 572.4L741.8 572.5L743.8 572.5L745.9 572.5L747.9 572.6L750 572.6L752 572.6L754.1 572.6L756.1 572.6L758.2 572.6L760.2 572.6L762.3 572.5L764.3 572.3L766.4 572.1L768.4 571.8L770.5 571.4L772.5 570.8L774.6 570L776.6 569.1L778.7 568.1L780.7 566.9L782.8 565.7L784.8 564.4L786.9 563.2L788.9 562.1L791 561.3L793 560.8L795.1 560.6L797.1 560.7L799.2 561.2L801.2 562L803.3 563L805.3 564.3L807.4 565.6L809.4 566.9L811.5 568.2L813.5 569.3L815.6 570.4L817.6 571.2L819.7 571.9L821.7 572.5L823.8 572.9L825.8 573.2L827.9 573.5L829.9 573.6L832 573.7L834 573.8L836.1 573.9L838.1 574L840.2 574L842.2 574L844.3 574.1L846.3 574.1L848.4 574.1L850.4 574.2"/>
<path d="M545 560.6L547 560.9L549.1 561.1L551.1 561.4L553.2 561.6L555.2 561.8L557.3 562L559.3 562.2L561.4 562.4L563.4 562.6L565.5 562.8L567.5 563L569.6 563.2L571.6 563.3L573.7 563.5L575.7 563.7L577.8 563.8L579.8 564L581.9 564.1L583.9 564.2L586 564.4L588 564.5L590.1 564.6L592.1 564.8L594.2 564.9L596.2 565L598.3 565.1L600.3 565.2L602.4 565.3L604.4 565.5L606.5 565.6L608.5 565.7L610.6 565.8L612.6 565.8L614.7 565.9L616.7 566L618.8 566.1L620.8 566.2L622.9 566.3L624.9 566.4L627 566.5L629 566.5L631.1 566.6L633.1 566.7L635.2 566.8L637.2 566.8L639.3 566.9L641.3 567L643.4 567L645.4 567.1L647.5 567.2L649.5 567.2L651.6 567.3L653.6 567.3L655.7 567.4L657.7 567.5L659.8 567.5L661.8 567.6L663.9 567.6L665.9 567.7L668 567.7L670 567.8L672.1 567.8L674.1 567.9L676.2 567.9L678.2 568L680.3 568L682.3 568.1L684.4 568.1L686.4 568.2L688.5 568.2L690.5 568.3L692.6 568.3L694.6 568.4L696.7 568.4L698.7 568.4L700.8 568.5L702.8 568.5L704.9 568.6L706.9 568.6L709 568.6L711 568.7L713.1 568.7L715.1 568.8L717.2 568.8L719.2 568.8L721.3 568.9L723.3 568.9L725.4 569L727.4 569L729.5 569L731.5 569.1L733.6 569.1L735.6 569.1L737.7 569.2L739.7 569.2L741.8 569.2L743.8 569.3L745.9 569.3L747.9 569.3L750 569.4L752 569.4L754.1 569.4L756.1 569.5L758.2 569.5L760.2 569.5L762.3 569.4L764.3 569.4L766.4 569.3L768.4 569.1L770.5 568.9L772.5 568.6L774.6 568.1L776.6 567.6L778.7 566.9L780.7 566.1L782.8 565.1L784.8 564.1L786.9 562.9L788.9 561.7L791 560.6L793 559.5L795.1 558.5L797.1 557.8L799.2 557.3L801.2 557.1L803.3 557.3L805.3 557.7L807.4 558.4L809.4 559.4L811.5 560.5L813.5 561.7L815.6 563L817.6 564.2L819.7 565.4L821.7 566.4L823.8 567.3L825.8 568.1L827.9 568.8L829.9 569.3L832 569.7L834 570L836.1 570.3L838.1 570.5L840.2 570.6L842.2 570.7L844.3 570.8L846.3 570.8L848.4 570.9L850.4 570.9"/>
<path d="M545 557.6L547 557.8L549.1 558.1L551.1 558.3L553.2 558.5L555.2 558.7L557.3 558.9L559.3 559.1L561.4 559.3L563.4 559.5L565.5 559.7L567.5 559.9L569.6 560.1L571.6 560.2L573.7 560.4L575.7 560.5L577.8 560.7L579.8 560.8L581.9 561L583.9 561.1L586 561.2L588 561.4L590.1 561.5L592.1 561.6L594.2 561.7L596.2 561.9L598.3 562L600.3 562.1L602.4 562.2L604.4 562.3L606.5 562.4L608.5 562.5L610.6 562.6L612.6 562.7L614.7 562.8L616.7 562.9L618.8 563L620.8 563L622.9 563.1L624.9 563.2L627 563.3L629 563.4L631.1 563.4L633.1 563.5L635.2 563.6L637.2 563.6L639.3 563.7L641.3 563.8L643.4 563.9L645.4 563.9L647.5 564L649.5 564L651.6 564.1L653.6 564.2L655.7 564.2L657.7 564.3L659.8 564.3L661.8 564.4L663.9 564.4L665.9 564.5L668 564.5L670 564.6L672.1 564.6L674.1 564.7L676.2 564.7L678.2 564.8L680.3 564.8L682.3 564.9L684.4 564.9L686.4 565L688.5 565L690.5 565.1L692.6 565.1L694.6 565.2L696.7 565.2L698.7 565.2L700.8 565.3L702.8 565.3L704.9 565.4L706.9 565.4L709 565.4L711 565.5L713.1 565.5L715.1 565.6L717.2 565.6L719.2 565.6L721.3 565.7L723.3 565.7L725.4 565.7L727.4 565.8L729.5 565.8L731.5 565.8L733.6 565.9L735.6 565.9L737.7 566L739.7 566L741.8 566L743.8 566.1L745.9 566.1L747.9 566.1L750 566.2L752 566.2L754.1 566.2L756.1 566.2L758.2 566.3L760.2 566.3L762.3 566.3L764.3 566.3L766.4 566.2L768.4 566.2L770.5 566.1L772.5 565.9L774.6 565.7L776.6 565.4L778.7 565L780.7 564.5L782.8 563.9L784.8 563.1L786.9 562.3L788.9 561.3L791 560.3L793 559.1L795.1 558L797.1 556.9L799.2 555.9L801.2 555.1L803.3 554.4L805.3 553.9L807.4 553.7L809.4 553.8L811.5 554.2L813.5 554.8L815.6 555.6L817.6 556.6L819.7 557.7L821.7 558.9L823.8 560.1L825.8 561.2L827.9 562.3L829.9 563.3L832 564.2L834 564.9L836.1 565.6L838.1 566.1L840.2 566.5L842.2 566.8L844.3 567.1L846.3 567.2L848.4 567.4L850.4 567.5"/>
<path d="M545 554.5L547 554.8L549.1 555L551.1 555.2L553.2 555.4L555.2 555.7L557.3 555.9L559.3 556.1L561.4 556.2L563.4 556.4L565.5 556.6L567.5 556.8L569.6 556.9L571.6 557.1L573.7 557.3L575.7 557.4L577.8 557.6L579.8 557.7L581.9 557.9L583.9 558L586 558.1L588 558.2L590.1 558.4L592.1 558.5L594.2 558.6L596.2 558.7L598.3 558.8L600.3 558.9L602.4 559L604.4 559.2L606.5 559.2L608.5 559.3L610.6 559.4L612.6 559.5L614.7 559.6L616.7 559.7L618.8 559.8L620.8 559.9L622.9 560L624.9 560L627 560.1L629 560.2L631.1 560.3L633.1 560.3L635.2 560.4L637.2 560.5L639.3 560.5L641.3 560.6L643.4 560.7L645.4 560.7L647.5 560.8L649.5 560.9L651.6 560.9L653.6 561L655.7 561L657.7 561.1L659.8 561.1L661.8 561.2L663.9 561.2L665.9 561.3L668 561.4L670 561.4L672.1 561.5L674.1 561.5L676.2 561.5L678.2 561.6L680.3 561.6L682.3 561.7L684.4 561.7L686.4 561.8L688.5 561.8L690.5 561.9L692.6 561.9L694.6 561.9L696.7 562L698.7 562L700.8 562.1L702.8 562.1L704.9 562.2L706.9 562.2L709 562.2L711 562.3L713.1 562.3L715.1 562.3L717.2 562.4L719.2 562.4L721.3 562.5L723.3 562.5L725.4 562.5L727.4 562.6L729.5 562.6L731.5 562.6L733.6 562.7L735.6 562.7L737.7 562.7L739.7 562.8L741.8 562.8L743.8 562.8L745.9 562.9L747.9 562.9L750 562.9L752 563L754.1 563L756.1 563L758.2 563.1L760.2 563.1L762.3 563.1L764.3 563.1L766.4 563.1L768.4 563.1L770.5 563L772.5 563L774.6 562.9L776.6 562.7L778.7 562.5L780.7 562.2L782.8 561.8L784.8 561.4L786.9 560.8L788.9 560.2L791 559.4L793 558.5L795.1 557.5L797.1 556.5L799.2 555.4L801.2 554.4L803.3 553.3L805.3 552.4L807.4 551.6L809.4 551L811.5 550.5L813.5 550.3L815.6 550.4L817.6 550.7L819.7 551.2L821.7 551.9L823.8 552.8L825.8 553.8L827.9 554.9L829.9 556L832 557.2L834 558.2L836.1 559.3L838.1 560.2L840.2 561L842.2 561.7L844.3 562.3L846.3 562.8L848.4 563.2L850.4 563.6"/>
<path d="M545 555.8L547 556.1L549.1 556.3L551.1 556.5L553.2 556.7L555.2 556.9L557.3 557.1L559.3 557.3L561.4 557.5L563.4 557.7L565.5 557.9L567.5 558.1L569.6 558.2L571.6 558.4L573.7 558.6L575.7 558.7L577.8 558.9L579.8 559L581.9 559.1L583.9 559.3L586 559.4L588 559.5L590.1 559.7L592.1 559.8L594.2 559.9L596.2 560L598.3 560.1L600.3 560.2L602.4 560.3L604.4 560.4L606.5 560.5L608.5 560.6L610.6 560.7L612.6 560.8L614.7 560.9L616.7 561L618.8 561.1L620.8 561.2L622.9 561.3L624.9 561.3L627 561.4L629 561.5L631.1 561.6L633.1 561.6L635.2 561.7L637.2 561.8L639.3 561.8L641.3 561.9L643.4 562L645.4 562L647.5 562.1L649.5 562.1L651.6 562.2L653.6 562.3L655.7 562.3L657.7 562.4L659.8 562.4L661.8 562.5L663.9 562.5L665.9 562.6L668 562.6L670 562.7L672.1 562.7L674.1 562.8L676.2 562.8L678.2 562.9L680.3 562.9L682.3 563L684.4 563L686.4 563.1L688.5 563.1L690.5 563.2L692.6 563.2L694.6 563.2L696.7 563.3L698.7 563.3L700.8 563.4L702.8 563.4L704.9 563.4L706.9 563.5L709 563.5L711 563.6L713.1 563.6L715.1 563.6L717.2 563.7L719.2 563.7L721.3 563.7L723.3 563.8L725.4 563.8L727.4 563.9L729.5 563.9L731.5 563.9L733.6 564L735.6 564L737.7 564L739.7 564.1L741.8 564.1L743.8 564.1L745.9 564.2L747.9 564.2L750 564.2L752 564.3L754.1 564.3L756.1 564.3L758.2 564.3L760.2 564.4L762.3 564.4L764.3 564.4L766.4 564.4L768.4 564.4L770.5 564.3L772.5 564.3L774.6 564.2L776.6 564L778.7 563.8L780.7 563.5L782.8 563.1L784.8 562.7L786.9 562.1L788.9 561.4L791 560.7L793 559.8L795.1 558.8L797.1 557.8L799.2 556.7L801.2 555.6L803.3 554.6L805.3 553.7L807.4 552.9L809.4 552.3L811.5 551.8L813.5 551.6L815.6 551.7L817.6 552L819.7 552.5L821.7 553.2L823.8 554.1L825.8 555.1L827.9 556.2L829.9 557.3L832 558.5L834 559.5L836.1 560.6L838.1 561.5L840.2 562.3L842.2 563L844.3 563.6L846.3 564.1L848.4 564.5L850.4 564.9"/>
<path d="M545 551.5L547 551.7L549.1 551.9L551.1 552.2L553.2 552.4L555.2 552.6L557.3 552.8L559.3 553L561.4 553.1L563.4 553.3L565.5 553.5L567.5 553.7L569.6 553.8L571.6 554L573.7 554.2L575.7 554.3L577.8 554.5L579.8 554.6L581.9 554.7L583.9 554.9L586 555L588 555.1L590.1 555.2L592.1 555.4L594.2 555.5L596.2 555.6L598.3 555.7L600.3 555.8L602.4 555.9L604.4 556L606.5 556.1L608.5 556.2L610.6 556.3L612.6 556.4L614.7 556.5L616.7 556.5L618.8 556.6L620.8 556.7L622.9 556.8L624.9 556.9L627 556.9L629 557L631.1 557.1L633.1 557.2L635.2 557.2L637.2 557.3L639.3 557.4L641.3 557.4L643.4 557.5L645.4 557.6L647.5 557.6L649.5 557.7L651.6 557.7L653.6 557.8L655.7 557.8L657.7 557.9L659.8 558L661.8 558L663.9 558.1L665.9 558.1L668 558.2L670 558.2L672.1 558.3L674.1 558.3L676.2 558.3L678.2 558.4L680.3 558.4L682.3 558.5L684.4 558.5L686.4 558.6L688.5 558.6L690.5 558.7L692.6 558.7L694.6 558.7L696.7 558.8L698.7 558.8L700.8 558.9L702.8 558.9L704.9 558.9L706.9 559L709 559L711 559.1L713.1 559.1L715.1 559.1L717.2 559.2L719.2 559.2L721.3 559.2L723.3 559.3L725.4 559.3L727.4 559.3L729.5 559.4L731.5 559.4L733.6 559.4L735.6 559.5L737.7 559.5L739.7 559.5L741.8 559.6L743.8 559.6L745.9 559.6L747.9 559.7L750 559.7L752 559.7L754.1 559.8L756.1 559.8L758.2 559.8L760.2 559.8L762.3 559.9L764.3 559.9L766.4 559.9L768.4 559.9L770.5 559.8L772.5 559.7L774.6 559.6L776.6 559.5L778.7 559.3L780.7 559L782.8 558.6L784.8 558.2L786.9 557.6L788.9 557L791 556.2L793 555.3L795.1 554.3L797.1 553.3L799.2 552.2L801.2 551.2L803.3 550.1L805.3 549.2L807.4 548.4L809.4 547.7L811.5 547.3L813.5 547.1L815.6 547.1L817.6 547.4L819.7 547.9L821.7 548.6L823.8 549.5L825.8 550.5L827.9 551.6L829.9 552.7L832 553.9L834 554.9L836.1 556L838.1 556.9L840.2 557.7L842.2 558.4L844.3 559L846.3 559.6L848.4 560L850.4 560.3"/>
<path d="M545 548.4L547 548.6L549.1 548.9L551.1 549.1L553.2 549.3L555.2 549.5L557.3 549.7L559.3 549.9L561.4 550.1L563.4 550.2L565.5 550.4L567.5 550.6L569.6 550.7L571.6 550.9L573.7 551L575.7 551.2L577.8 551.3L579.8 551.5L581.9 551.6L583.9 551.7L586 551.9L588 552L590.1 552.1L592.1 552.2L594.2 552.3L596.2 552.4L598.3 552.5L600.3 552.7L602.4 552.8L604.4 552.9L606.5 552.9L608.5 553L610.6 553.1L612.6 553.2L614.7 553.3L616.7 553.4L618.8 553.5L620.8 553.5L622.9 553.6L624.9 553.7L627 553.8L629 553.8L631.1 553.9L633.1 554L635.2 554.1L637.2 554.1L639.3 554.2L641.3 554.2L643.4 554.3L645.4 554.4L647.5 554.4L649.5 554.5L651.6 554.5L653.6 554.6L655.7 554.7L657.7 554.7L659.8 554.8L661.8 554.8L663.9 554.9L665.9 554.9L668 555L670 555L672.1 555.1L674.1 555.1L676.2 555.2L678.2 555.2L680.3 555.2L682.3 555.3L684.4 555.3L686.4 555.4L688.5 555.4L690.5 555.5L692.6 555.5L694.6 555.5L696.7 555.6L698.7 555.6L700.8 555.7L702.8 555.7L704.9 555.7L706.9 555.8L709 555.8L711 555.8L713.1 555.9L715.1 555.9L717.2 556L719.2 556L721.3 556L723.3 556.1L725.4 556.1L727.4 556.1L729.5 556.2L731.5 556.2L733.6 556.2L735.6 556.3L737.7 556.3L739.7 556.3L741.8 556.4L743.8 556.4L745.9 556.4L747.9 556.5L750 556.5L752 556.5L754.1 556.5L756.1 556.6L758.2 556.6L760.2 556.6L762.3 556.6L764.3 556.6L766.4 556.6L768.4 556.6L770.5 556.6L772.5 556.5L774.6 556.4L776.6 556.3L778.7 556.1L780.7 555.8L782.8 555.4L784.8 555L786.9 554.4L788.9 553.8L791 553L793 552.1L795.1 551.2L797.1 550.1L799.2 549.1L801.2 548L803.3 547L805.3 546L807.4 545.2L809.4 544.5L811.5 544.1L813.5 543.9L815.6 543.9L817.6 544.2L819.7 544.6L821.7 545.3L823.8 546.2L825.8 547.2L827.9 548.3L829.9 549.4L832 550.5L834 551.6L836.1 552.7L838.1 553.6L840.2 554.4L842.2 555.1L844.3 555.8L846.3 556.3L848.4 556.7L850.4 557"/>
<path d="M545 545.4L547 545.6L549.1 545.8L551.1 546L553.2 546.2L555.2 546.4L557.3 546.6L559.3 546.8L561.4 547L563.4 547.1L565.5 547.3L567.5 547.5L569.6 547.6L571.6 547.8L573.7 547.9L575.7 548.1L577.8 548.2L579.8 548.3L581.9 548.5L583.9 548.6L586 548.7L588 548.9L590.1 549L592.1 549.1L594.2 549.2L596.2 549.3L598.3 549.4L600.3 549.5L602.4 549.6L604.4 549.7L606.5 549.8L608.5 549.9L610.6 550L612.6 550.1L614.7 550.1L616.7 550.2L618.8 550.3L620.8 550.4L622.9 550.5L624.9 550.5L627 550.6L629 550.7L631.1 550.7L633.1 550.8L635.2 550.9L637.2 550.9L639.3 551L641.3 551.1L643.4 551.1L645.4 551.2L647.5 551.2L649.5 551.3L651.6 551.4L653.6 551.4L655.7 551.5L657.7 551.5L659.8 551.6L661.8 551.6L663.9 551.7L665.9 551.7L668 551.8L670 551.8L672.1 551.9L674.1 551.9L676.2 552L678.2 552L680.3 552L682.3 552.1L684.4 552.1L686.4 552.2L688.5 552.2L690.5 552.3L692.6 552.3L694.6 552.3L696.7 552.4L698.7 552.4L700.8 552.4L702.8 552.5L704.9 552.5L706.9 552.6L709 552.6L711 552.6L713.1 552.7L715.1 552.7L717.2 552.7L719.2 552.8L721.3 552.8L723.3 552.8L725.4 552.9L727.4 552.9L729.5 552.9L731.5 553L733.6 553L735.6 553L737.7 553.1L739.7 553.1L741.8 553.1L743.8 553.2L745.9 553.2L747.9 553.2L750 553.3L752 553.3L754.1 553.3L756.1 553.3L758.2 553.4L760.2 553.4L762.3 553.4L764.3 553.4L766.4 553.4L768.4 553.4L770.5 553.4L772.5 553.3L774.6 553.2L776.6 553L778.7 552.8L780.7 552.6L782.8 552.2L784.8 551.8L786.9 551.2L788.9 550.6L791 549.8L793 548.9L795.1 548L797.1 546.9L799.2 545.9L801.2 544.8L803.3 543.8L805.3 542.8L807.4 542L809.4 541.3L811.5 540.9L813.5 540.6L815.6 540.6L817.6 540.9L819.7 541.4L821.7 542.1L823.8 542.9L825.8 543.9L827.9 545L829.9 546.1L832 547.2L834 548.3L836.1 549.4L838.1 550.3L840.2 551.1L842.2 551.9L844.3 552.5L846.3 553L848.4 553.4L850.4 553.8"/>
<path d="M545 542.3L547 542.5L549.1 542.7L551.1 542.9L553.2 543.1L555.2 543.3L557.3 543.5L559.3 543.7L561.4 543.9L563.4 544L565.5 544.2L567.5 544.4L569.6 544.5L571.6 544.7L573.7 544.8L575.7 545L577.8 545.1L579.8 545.2L581.9 545.4L583.9 545.5L586 545.6L588 545.7L590.1 545.8L592.1 545.9L594.2 546.1L596.2 546.2L598.3 546.3L600.3 546.4L602.4 546.5L604.4 546.6L606.5 546.6L608.5 546.7L610.6 546.8L612.6 546.9L614.7 547L616.7 547.1L618.8 547.1L620.8 547.2L622.9 547.3L624.9 547.4L627 547.4L629 547.5L631.1 547.6L633.1 547.6L635.2 547.7L637.2 547.8L639.3 547.8L641.3 547.9L643.4 548L645.4 548L647.5 548.1L649.5 548.1L651.6 548.2L653.6 548.2L655.7 548.3L657.7 548.3L659.8 548.4L661.8 548.4L663.9 548.5L665.9 548.5L668 548.6L670 548.6L672.1 548.7L674.1 548.7L676.2 548.8L678.2 548.8L680.3 548.8L682.3 548.9L684.4 548.9L686.4 549L688.5 549L690.5 549L692.6 549.1L694.6 549.1L696.7 549.2L698.7 549.2L700.8 549.2L702.8 549.3L704.9 549.3L706.9 549.4L709 549.4L711 549.4L713.1 549.5L715.1 549.5L717.2 549.5L719.2 549.6L721.3 549.6L723.3 549.6L725.4 549.7L727.4 549.7L729.5 549.7L731.5 549.8L733.6 549.8L735.6 549.8L737.7 549.9L739.7 549.9L741.8 549.9L743.8 549.9L745.9 550L747.9 550L750 550L752 550.1L754.1 550.1L756.1 550.1L758.2 550.1L760.2 550.2L762.3 550.2L764.3 550.2L766.4 550.2L768.4 550.2L770.5 550.1L772.5 550.1L774.6 550L776.6 549.8L778.7 549.6L780.7 549.4L782.8 549L784.8 548.6L786.9 548L788.9 547.4L791 546.6L793 545.7L795.1 544.8L797.1 543.8L799.2 542.7L801.2 541.6L803.3 540.6L805.3 539.6L807.4 538.8L809.4 538.1L811.5 537.6L813.5 537.4L815.6 537.4L817.6 537.6L819.7 538.1L821.7 538.8L823.8 539.6L825.8 540.6L827.9 541.7L829.9 542.8L832 543.9L834 545L836.1 546.1L838.1 547L840.2 547.8L842.2 548.6L844.3 549.2L846.3 549.7L848.4 550.2L850.4 550.5"/>
<path d="M545 539.2L547 539.5L549.1 539.7L551.1 539.9L553.2 540.1L555.2 540.2L557.3 540.4L559.3 540.6L561.4 540.8L563.4 540.9L565.5 541.1L567.5 541.3L569.6 541.4L571.6 541.6L573.7 541.7L575.7 541.8L577.8 542L579.8 542.1L581.9 542.2L583.9 542.4L586 542.5L588 542.6L590.1 542.7L592.1 542.8L594.2 542.9L596.2 543L598.3 543.1L600.3 543.2L602.4 543.3L604.4 543.4L606.5 543.5L608.5 543.6L610.6 543.7L612.6 543.7L614.7 543.8L616.7 543.9L618.8 544L620.8 544.1L622.9 544.1L624.9 544.2L627 544.3L629 544.3L631.1 544.4L633.1 544.5L635.2 544.5L637.2 544.6L639.3 544.7L641.3 544.7L643.4 544.8L645.4 544.8L647.5 544.9L649.5 544.9L651.6 545L653.6 545L655.7 545.1L657.7 545.1L659.8 545.2L661.8 545.2L663.9 545.3L665.9 545.3L668 545.4L670 545.4L672.1 545.5L674.1 545.5L676.2 545.6L678.2 545.6L680.3 545.6L682.3 545.7L684.4 545.7L686.4 545.8L688.5 545.8L690.5 545.8L692.6 545.9L694.6 545.9L696.7 546L698.7 546L700.8 546L702.8 546.1L704.9 546.1L706.9 546.1L709 546.2L711 546.2L713.1 546.2L715.1 546.3L717.2 546.3L719.2 546.3L721.3 546.4L723.3 546.4L725.4 546.4L727.4 546.5L729.5 546.5L731.5 546.5L733.6 546.6L735.6 546.6L737.7 546.6L739.7 546.7L741.8 546.7L743.8 546.7L745.9 546.8L747.9 546.8L750 546.8L752 546.8L754.1 546.9L756.1 546.9L758.2 546.9L760.2 546.9L762.3 547L764.3 547L766.4 547L768.4 546.9L770.5 546.9L772.5 546.8L774.6 546.7L776.6 546.6L778.7 546.4L780.7 546.1L782.8 545.8L784.8 545.4L786.9 544.8L788.9 544.2L791 543.4L793 542.6L795.1 541.6L797.1 540.6L799.2 539.5L801.2 538.4L803.3 537.4L805.3 536.4L807.4 535.6L809.4 534.9L811.5 534.4L813.5 534.2L815.6 534.1L817.6 534.4L819.7 534.8L821.7 535.5L823.8 536.3L825.8 537.3L827.9 538.4L829.9 539.5L832 540.6L834 541.7L836.1 542.8L838.1 543.7L840.2 544.5L842.2 545.3L844.3 545.9L846.3 546.4L848.4 546.9L850.4 547.2"/>
<path d="M545 536.2L547 536.4L549.1 536.6L551.1 536.8L553.2 537L555.2 537.2L557.3 537.3L559.3 537.5L561.4 537.7L563.4 537.9L565.5 538L567.5 538.2L569.6 538.3L571.6 538.5L573.7 538.6L575.7 538.7L577.8 538.9L579.8 539L581.9 539.1L583.9 539.2L586 539.3L588 539.5L590.1 539.6L592.1 539.7L594.2 539.8L596.2 539.9L598.3 540L600.3 540.1L602.4 540.2L604.4 540.3L606.5 540.3L608.5 540.4L610.6 540.5L612.6 540.6L614.7 540.7L616.7 540.7L618.8 540.8L620.8 540.9L622.9 541L624.9 541L627 541.1L629 541.2L631.1 541.2L633.1 541.3L635.2 541.4L637.2 541.4L639.3 541.5L641.3 541.5L643.4 541.6L645.4 541.6L647.5 541.7L649.5 541.8L651.6 541.8L653.6 541.9L655.7 541.9L657.7 542L659.8 542L661.8 542.1L663.9 542.1L665.9 542.1L668 542.2L670 542.2L672.1 542.3L674.1 542.3L676.2 542.4L678.2 542.4L680.3 542.4L682.3 542.5L684.4 542.5L686.4 542.6L688.5 542.6L690.5 542.6L692.6 542.7L694.6 542.7L696.7 542.8L698.7 542.8L700.8 542.8L702.8 542.9L704.9 542.9L706.9 542.9L709 543L711 543L713.1 543L715.1 543.1L717.2 543.1L719.2 543.1L721.3 543.2L723.3 543.2L725.4 543.2L727.4 543.3L729.5 543.3L731.5 543.3L733.6 543.4L735.6 543.4L737.7 543.4L739.7 543.4L741.8 543.5L743.8 543.5L745.9 543.5L747.9 543.6L750 543.6L752 543.6L754.1 543.6L756.1 543.7L758.2 543.7L760.2 543.7L762.3 543.7L764.3 543.7L766.4 543.7L768.4 543.7L770.5 543.7L772.5 543.6L774.6 543.5L776.6 543.4L778.7 543.2L780.7 542.9L782.8 542.6L784.8 542.1L786.9 541.6L788.9 541L791 540.2L793 539.4L795.1 538.4L797.1 537.4L799.2 536.3L801.2 535.3L803.3 534.2L805.3 533.2L807.4 532.4L809.4 531.7L811.5 531.2L813.5 530.9L815.6 530.9L817.6 531.1L819.7 531.5L821.7 532.2L823.8 533L825.8 534L827.9 535.1L829.9 536.2L832 537.3L834 538.4L836.1 539.5L838.1 540.4L840.2 541.3L842.2 542L844.3 542.6L846.3 543.2L848.4 543.6L850.4 544"/>
<path d="M545 533.1L547 533.3L549.1 533.5L551.1 533.7L553.2 533.9L555.2 534.1L557.3 534.3L559.3 534.4L561.4 534.6L563.4 534.8L565.5 534.9L567.5 535.1L569.6 535.2L571.6 535.3L573.7 535.5L575.7 535.6L577.8 535.7L579.8 535.9L581.9 536L583.9 536.1L586 536.2L588 536.3L590.1 536.4L592.1 536.5L594.2 536.6L596.2 536.7L598.3 536.8L600.3 536.9L602.4 537L604.4 537.1L606.5 537.2L608.5 537.3L610.6 537.4L612.6 537.4L614.7 537.5L616.7 537.6L618.8 537.7L620.8 537.7L622.9 537.8L624.9 537.9L627 537.9L629 538L631.1 538.1L633.1 538.1L635.2 538.2L637.2 538.2L639.3 538.3L641.3 538.4L643.4 538.4L645.4 538.5L647.5 538.5L649.5 538.6L651.6 538.6L653.6 538.7L655.7 538.7L657.7 538.8L659.8 538.8L661.8 538.9L663.9 538.9L665.9 539L668 539L670 539L672.1 539.1L674.1 539.1L676.2 539.2L678.2 539.2L680.3 539.2L682.3 539.3L684.4 539.3L686.4 539.4L688.5 539.4L690.5 539.4L692.6 539.5L694.6 539.5L696.7 539.5L698.7 539.6L700.8 539.6L702.8 539.7L704.9 539.7L706.9 539.7L709 539.8L711 539.8L713.1 539.8L715.1 539.9L717.2 539.9L719.2 539.9L721.3 539.9L723.3 540L725.4 540L727.4 540L729.5 540.1L731.5 540.1L733.6 540.1L735.6 540.2L737.7 540.2L739.7 540.2L741.8 540.3L743.8 540.3L745.9 540.3L747.9 540.3L750 540.4L752 540.4L754.1 540.4L756.1 540.4L758.2 540.5L760.2 540.5L762.3 540.5L764.3 540.5L766.4 540.5L768.4 540.5L770.5 540.5L772.5 540.4L774.6 540.3L776.6 540.2L778.7 540L780.7 539.7L782.8 539.4L784.8 538.9L786.9 538.4L788.9 537.8L791 537L793 536.2L795.1 535.2L797.1 534.2L799.2 533.2L801.2 532.1L803.3 531L805.3 530.1L807.4 529.2L809.4 528.5L811.5 528L813.5 527.7L815.6 527.7L817.6 527.8L819.7 528.3L821.7 528.9L823.8 529.7L825.8 530.7L827.9 531.8L829.9 532.9L832 534L834 535.1L836.1 536.2L838.1 537.1L840.2 538L842.2 538.7L844.3 539.4L846.3 539.9L848.4 540.3L850.4 540.7"/>
<path d="M545 530.1L547 530.3L549.1 530.5L551.1 530.6L553.2 530.8L555.2 531L557.3 531.2L559.3 531.3L561.4 531.5L563.4 531.7L565.5 531.8L567.5 532L569.6 532.1L571.6 532.2L573.7 532.4L575.7 532.5L577.8 532.6L579.8 532.7L581.9 532.9L583.9 533L586 533.1L588 533.2L590.1 533.3L592.1 533.4L594.2 533.5L596.2 533.6L598.3 533.7L600.3 533.8L602.4 533.9L604.4 534L606.5 534L608.5 534.1L610.6 534.2L612.6 534.3L614.7 534.3L616.7 534.4L618.8 534.5L620.8 534.6L622.9 534.6L624.9 534.7L627 534.8L629 534.8L631.1 534.9L633.1 534.9L635.2 535L637.2 535.1L639.3 535.1L641.3 535.2L643.4 535.2L645.4 535.3L647.5 535.3L649.5 535.4L651.6 535.4L653.6 535.5L655.7 535.5L657.7 535.6L659.8 535.6L661.8 535.7L663.9 535.7L665.9 535.8L668 535.8L670 535.8L672.1 535.9L674.1 535.9L676.2 536L678.2 536L680.3 536L682.3 536.1L684.4 536.1L686.4 536.2L688.5 536.2L690.5 536.2L692.6 536.3L694.6 536.3L696.7 536.3L698.7 536.4L700.8 536.4L702.8 536.4L704.9 536.5L706.9 536.5L709 536.5L711 536.6L713.1 536.6L715.1 536.6L717.2 536.7L719.2 536.7L721.3 536.7L723.3 536.8L725.4 536.8L727.4 536.8L729.5 536.9L731.5 536.9L733.6 536.9L735.6 536.9L737.7 537L739.7 537L741.8 537L743.8 537.1L745.9 537.1L747.9 537.1L750 537.1L752 537.2L754.1 537.2L756.1 537.2L758.2 537.2L760.2 537.3L762.3 537.3L764.3 537.3L766.4 537.3L768.4 537.3L770.5 537.2L772.5 537.2L774.6 537.1L776.6 536.9L778.7 536.7L780.7 536.5L782.8 536.2L784.8 535.7L786.9 535.2L788.9 534.6L791 533.8L793 533L795.1 532.1L797.1 531L799.2 530L801.2 528.9L803.3 527.9L805.3 526.9L807.4 526L809.4 525.3L811.5 524.8L813.5 524.5L815.6 524.4L817.6 524.6L819.7 525L821.7 525.6L823.8 526.4L825.8 527.4L827.9 528.5L829.9 529.6L832 530.7L834 531.8L836.1 532.8L838.1 533.8L840.2 534.7L842.2 535.4L844.3 536.1L846.3 536.6L848.4 537.1L850.4 537.4"/>
<path d="M545 527L547 527.2L549.1 527.4L551.1 527.6L553.2 527.8L555.2 527.9L557.3 528.1L559.3 528.3L561.4 528.4L563.4 528.6L565.5 528.7L567.5 528.9L569.6 529L571.6 529.1L573.7 529.3L575.7 529.4L577.8 529.5L579.8 529.6L581.9 529.7L583.9 529.8L586 530L588 530.1L590.1 530.2L592.1 530.3L594.2 530.4L596.2 530.5L598.3 530.5L600.3 530.6L602.4 530.7L604.4 530.8L606.5 530.9L608.5 531L610.6 531L612.6 531.1L614.7 531.2L616.7 531.3L618.8 531.3L620.8 531.4L622.9 531.5L624.9 531.5L627 531.6L629 531.7L631.1 531.7L633.1 531.8L635.2 531.8L637.2 531.9L639.3 531.9L641.3 532L643.4 532.1L645.4 532.1L647.5 532.2L649.5 532.2L651.6 532.3L653.6 532.3L655.7 532.3L657.7 532.4L659.8 532.4L661.8 532.5L663.9 532.5L665.9 532.6L668 532.6L670 532.7L672.1 532.7L674.1 532.7L676.2 532.8L678.2 532.8L680.3 532.9L682.3 532.9L684.4 532.9L686.4 533L688.5 533L690.5 533L692.6 533.1L694.6 533.1L696.7 533.1L698.7 533.2L700.8 533.2L702.8 533.2L704.9 533.3L706.9 533.3L709 533.3L711 533.4L713.1 533.4L715.1 533.4L717.2 533.5L719.2 533.5L721.3 533.5L723.3 533.5L725.4 533.6L727.4 533.6L729.5 533.6L731.5 533.7L733.6 533.7L735.6 533.7L737.7 533.8L739.7 533.8L741.8 533.8L743.8 533.8L745.9 533.9L747.9 533.9L750 533.9L752 533.9L754.1 534L756.1 534L758.2 534L760.2 534L762.3 534L764.3 534.1L766.4 534L768.4 534L770.5 534L772.5 533.9L774.6 533.8L776.6 533.7L778.7 533.5L780.7 533.3L782.8 532.9L784.8 532.5L786.9 532L788.9 531.4L791 530.6L793 529.8L795.1 528.9L797.1 527.9L799.2 526.8L801.2 525.7L803.3 524.7L805.3 523.7L807.4 522.8L809.4 522.1L811.5 521.5L813.5 521.2L815.6 521.2L817.6 521.3L819.7 521.7L821.7 522.4L823.8 523.2L825.8 524.1L827.9 525.2L829.9 526.3L832 527.4L834 528.5L836.1 529.5L838.1 530.5L840.2 531.4L842.2 532.1L844.3 532.8L846.3 533.3L848.4 533.8L850.4 534.2"/>
<path d="M545 523.9L547 524.1L549.1 524.3L551.1 524.5L553.2 524.7L555.2 524.8L557.3 525L559.3 525.2L561.4 525.3L563.4 525.5L565.5 525.6L567.5 525.7L569.6 525.9L571.6 526L573.7 526.1L575.7 526.3L577.8 526.4L579.8 526.5L581.9 526.6L583.9 526.7L586 526.8L588 526.9L590.1 527L592.1 527.1L594.2 527.2L596.2 527.3L598.3 527.4L600.3 527.5L602.4 527.6L604.4 527.7L606.5 527.7L608.5 527.8L610.6 527.9L612.6 528L614.7 528L616.7 528.1L618.8 528.2L620.8 528.2L622.9 528.3L624.9 528.4L627 528.4L629 528.5L631.1 528.5L633.1 528.6L635.2 528.7L637.2 528.7L639.3 528.8L641.3 528.8L643.4 528.9L645.4 528.9L647.5 529L649.5 529L651.6 529.1L653.6 529.1L655.7 529.2L657.7 529.2L659.8 529.3L661.8 529.3L663.9 529.3L665.9 529.4L668 529.4L670 529.5L672.1 529.5L674.1 529.5L676.2 529.6L678.2 529.6L680.3 529.7L682.3 529.7L684.4 529.7L686.4 529.8L688.5 529.8L690.5 529.8L692.6 529.9L694.6 529.9L696.7 529.9L698.7 530L700.8 530L702.8 530L704.9 530.1L706.9 530.1L709 530.1L711 530.2L713.1 530.2L715.1 530.2L717.2 530.2L719.2 530.3L721.3 530.3L723.3 530.3L725.4 530.4L727.4 530.4L729.5 530.4L731.5 530.4L733.6 530.5L735.6 530.5L737.7 530.5L739.7 530.6L741.8 530.6L743.8 530.6L745.9 530.6L747.9 530.7L750 530.7L752 530.7L754.1 530.7L756.1 530.8L758.2 530.8L760.2 530.8L762.3 530.8L764.3 530.8L766.4 530.8L768.4 530.8L770.5 530.8L772.5 530.7L774.6 530.6L776.6 530.5L778.7 530.3L780.7 530.1L782.8 529.7L784.8 529.3L786.9 528.8L788.9 528.2L791 527.5L793 526.6L795.1 525.7L797.1 524.7L799.2 523.6L801.2 522.5L803.3 521.5L805.3 520.5L807.4 519.6L809.4 518.9L811.5 518.3L813.5 518L815.6 517.9L817.6 518.1L819.7 518.5L821.7 519.1L823.8 519.9L825.8 520.8L827.9 521.9L829.9 523L832 524.1L834 525.2L836.1 526.2L838.1 527.2L840.2 528.1L842.2 528.9L844.3 529.5L846.3 530.1L848.4 530.5L850.4 530.9"/>
<path d="M545 520.9L547 521.1L549.1 521.3L551.1 521.4L553.2 521.6L555.2 521.8L557.3 521.9L559.3 522.1L561.4 522.2L563.4 522.4L565.5 522.5L567.5 522.6L569.6 522.8L571.6 522.9L573.7 523L575.7 523.1L577.8 523.3L579.8 523.4L581.9 523.5L583.9 523.6L586 523.7L588 523.8L590.1 523.9L592.1 524L594.2 524.1L596.2 524.2L598.3 524.3L600.3 524.3L602.4 524.4L604.4 524.5L606.5 524.6L608.5 524.7L610.6 524.7L612.6 524.8L614.7 524.9L616.7 524.9L618.8 525L620.8 525.1L622.9 525.1L624.9 525.2L627 525.3L629 525.3L631.1 525.4L633.1 525.4L635.2 525.5L637.2 525.5L639.3 525.6L641.3 525.6L643.4 525.7L645.4 525.7L647.5 525.8L649.5 525.8L651.6 525.9L653.6 525.9L655.7 526L657.7 526L659.8 526.1L661.8 526.1L663.9 526.1L665.9 526.2L668 526.2L670 526.3L672.1 526.3L674.1 526.3L676.2 526.4L678.2 526.4L680.3 526.5L682.3 526.5L684.4 526.5L686.4 526.6L688.5 526.6L690.5 526.6L692.6 526.7L694.6 526.7L696.7 526.7L698.7 526.8L700.8 526.8L702.8 526.8L704.9 526.9L706.9 526.9L709 526.9L711 526.9L713.1 527L715.1 527L717.2 527L719.2 527.1L721.3 527.1L723.3 527.1L725.4 527.1L727.4 527.2L729.5 527.2L731.5 527.2L733.6 527.3L735.6 527.3L737.7 527.3L739.7 527.3L741.8 527.4L743.8 527.4L745.9 527.4L747.9 527.4L750 527.5L752 527.5L754.1 527.5L756.1 527.5L758.2 527.6L760.2 527.6L762.3 527.6L764.3 527.6L766.4 527.6L768.4 527.6L770.5 527.5L772.5 527.5L774.6 527.4L776.6 527.3L778.7 527.1L780.7 526.8L782.8 526.5L784.8 526.1L786.9 525.6L788.9 525L791 524.3L793 523.4L795.1 522.5L797.1 521.5L799.2 520.4L801.2 519.4L803.3 518.3L805.3 517.3L807.4 516.4L809.4 515.7L811.5 515.1L813.5 514.8L815.6 514.7L817.6 514.8L819.7 515.2L821.7 515.8L823.8 516.6L825.8 517.5L827.9 518.5L829.9 519.7L832 520.8L834 521.9L836.1 522.9L838.1 523.9L840.2 524.8L842.2 525.6L844.3 526.2L846.3 526.8L848.4 527.2L850.4 527.6"/>
</g>
</g>
<line x1="606.1" y1="429.8" x2="606.1" y2="752.8" stroke="#e6d81c" stroke-width="2.0" opacity="0.9"/>
<line x1="708.3" y1="429.8" x2="708.3" y2="752.8" stroke="#d83040" stroke-width="2.1" opacity="0.9"/>
<line x1="747.2" y1="429.8" x2="747.2" y2="752.8" stroke="#8a3ab8" stroke-width="2.0" opacity="0.9"/>
<line x1="767.3" y1="429.8" x2="767.3" y2="752.8" stroke="#2a8a2a" stroke-width="1.8" opacity="0.9"/>
<line x1="789.7" y1="429.8" x2="789.7" y2="752.8" stroke="#3a3ae0" stroke-width="2.3" opacity="0.9"/>
<line x1="816" y1="429.8" x2="816" y2="752.8" stroke="#707070" stroke-width="1.5" opacity="0.9"/>
<rect x="591.6" y="446" width="30.4" height="50.4" rx="3.2" ry="3.2" fill="#f1f5f8" fill-opacity="0.93" stroke="#d9cf3a" stroke-width="1.4"/>
<text x="613.8" y="493.2" font-size="22" font-family="DejaVu Sans, Liberation Sans, sans-serif" fill="#111" transform="rotate(-90 613.8 493.2)">LiC<tspan font-size="15.5" dy="3.5">6</tspan></text>
<rect x="694.2" y="446" width="30.4" height="60.2" rx="3.2" ry="3.2" fill="#f1f5f8" fill-opacity="0.93" stroke="#e0505a" stroke-width="1.4"/>
<text x="716.4" y="503" font-size="22" font-family="DejaVu Sans, Liberation Sans, sans-serif" fill="#111" transform="rotate(-90 716.4 503)">LiC<tspan font-size="15.5" dy="3.5">12</tspan></text>
<rect x="734.8" y="451.8" width="23.1" height="45.4" rx="3.2" ry="3.2" fill="#f1f5f8" fill-opacity="0.93" stroke="#a060c8" stroke-width="1.4"/>
<text x="750.6" y="495.8" font-size="17.5" font-family="DejaVu Sans, Liberation Sans, sans-serif" fill="#111" transform="rotate(-90 750.6 495.8)">LiC<tspan font-size="12.5" dy="2.8">18</tspan></text>
<rect x="757.9" y="451.8" width="22.7" height="45.4" rx="3.2" ry="3.2" fill="#f1f5f8" fill-opacity="0.93" stroke="#3a9a3a" stroke-width="1.4"/>
<text x="773.6" y="495.8" font-size="17.5" font-family="DejaVu Sans, Liberation Sans, sans-serif" fill="#111" transform="rotate(-90 773.6 495.8)">LiC<tspan font-size="12.5" dy="2.8">24</tspan></text>
<rect x="780.6" y="451.8" width="23.6" height="45.4" rx="3.2" ry="3.2" fill="#f1f5f8" fill-opacity="0.93" stroke="#5050e0" stroke-width="1.4"/>
<text x="796.8" y="495.8" font-size="17.5" font-family="DejaVu Sans, Liberation Sans, sans-serif" fill="#111" transform="rotate(-90 796.8 495.8)">LiC<tspan font-size="12.5" dy="2.8">30</tspan></text>
<rect x="806.6" y="447" width="29.2" height="31.2" rx="3.2" ry="3.2" fill="#f1f5f8" fill-opacity="0.93" stroke="#a8a8a8" stroke-width="1.4"/>
<text x="826" y="476.4" font-size="22" font-family="DejaVu Sans, Liberation Sans, sans-serif" fill="#111" transform="rotate(-90 826 476.4)">C<tspan font-size="15.5" dy="3.5">6</tspan></text>
<rect x="547.8" y="510" width="26.6" height="94.6" rx="3.5" ry="3.5" fill="#f4f6f9" fill-opacity="0.93" stroke="#e0607a" stroke-width="1.3"/>
<text x="567.6" y="602" font-size="18.6" font-family="DejaVu Sans, Liberation Sans, sans-serif" fill="#111" transform="rotate(-90 567.6 602)">Disharge</text>
<rect x="546.4" y="657.2" width="26.8" height="76.6" rx="3.5" ry="3.5" fill="#f4f8fc" fill-opacity="0.9" stroke="#cfe4f6" stroke-width="1.2"/>
<text x="566.4" y="730.8" font-size="18.6" font-family="DejaVu Sans, Liberation Sans, sans-serif" fill="#111" transform="rotate(-90 566.4 730.8)">Charge</text>
<rect x="545" y="429.8" width="305.4" height="323" fill="none" stroke="#444" stroke-width="1.2"/>
<line x1="545" y1="752.8" x2="545" y2="757.3" stroke="#333" stroke-width="1.1"/>
<text x="545" y="773.4" font-size="17" font-family="DejaVu Sans, Liberation Sans, sans-serif" fill="#222" text-anchor="middle">1.65</text>
<line x1="606.1" y1="752.8" x2="606.1" y2="757.3" stroke="#333" stroke-width="1.1"/>
<text x="606.1" y="773.4" font-size="17" font-family="DejaVu Sans, Liberation Sans, sans-serif" fill="#222" text-anchor="middle">1.70</text>
<line x1="667.2" y1="752.8" x2="667.2" y2="757.3" stroke="#333" stroke-width="1.1"/>
<text x="667.2" y="773.4" font-size="17" font-family="DejaVu Sans, Liberation Sans, sans-serif" fill="#222" text-anchor="middle">1.75</text>
<line x1="728.2" y1="752.8" x2="728.2" y2="757.3" stroke="#333" stroke-width="1.1"/>
<text x="728.2" y="773.4" font-size="17" font-family="DejaVu Sans, Liberation Sans, sans-serif" fill="#222" text-anchor="middle">1.80</text>
<line x1="789.3" y1="752.8" x2="789.3" y2="757.3" stroke="#333" stroke-width="1.1"/>
<text x="789.3" y="773.4" font-size="17" font-family="DejaVu Sans, Liberation Sans, sans-serif" fill="#222" text-anchor="middle">1.85</text>
<line x1="850.4" y1="752.8" x2="850.4" y2="757.3" stroke="#333" stroke-width="1.1"/>
<text x="850.4" y="773.4" font-size="17" font-family="DejaVu Sans, Liberation Sans, sans-serif" fill="#222" text-anchor="middle">1.90</text>
<line x1="540.5" y1="752.8" x2="545" y2="752.8" stroke="#333" stroke-width="1.1"/>
<text x="537.6" y="759.1" font-size="17" font-family="DejaVu Sans, Liberation Sans, sans-serif" fill="#222" text-anchor="end">0.0</text>
<line x1="540.5" y1="688.2" x2="545" y2="688.2" stroke="#333" stroke-width="1.1"/>
<text x="537.6" y="694.5" font-size="17" font-family="DejaVu Sans, Liberation Sans, sans-serif" fill="#222" text-anchor="end">0.5</text>
<line x1="540.5" y1="623.6" x2="545" y2="623.6" stroke="#333" stroke-width="1.1"/>
<text x="537.6" y="629.9" font-size="17" font-family="DejaVu Sans, Liberation Sans, sans-serif" fill="#222" text-anchor="end">1.0</text>
<line x1="540.5" y1="559" x2="545" y2="559" stroke="#333" stroke-width="1.1"/>
<text x="537.6" y="565.3" font-size="17" font-family="DejaVu Sans, Liberation Sans, sans-serif" fill="#222" text-anchor="end">1.5</text>
<line x1="540.5" y1="494.4" x2="545" y2="494.4" stroke="#333" stroke-width="1.1"/>
<text x="537.6" y="500.7" font-size="17" font-family="DejaVu Sans, Liberation Sans, sans-serif" fill="#222" text-anchor="end">2.0</text>
<line x1="540.5" y1="429.8" x2="545" y2="429.8" stroke="#333" stroke-width="1.1"/>
<text x="537.6" y="436.1" font-size="17" font-family="DejaVu Sans, Liberation Sans, sans-serif" fill="#222" text-anchor="end">2.5</text>
<text x="501" y="591" font-size="22.5" font-family="DejaVu Sans, Liberation Sans, sans-serif" fill="#222" text-anchor="middle" transform="rotate(-90 501 591)">Intensity (a.u.)</text>
<text x="698" y="804.5" font-size="22.5" font-family="DejaVu Sans, Liberation Sans, sans-serif" fill="#222" text-anchor="middle">Q (<tspan font-style="italic">Å</tspan><tspan font-size="15.5" dy="-8.5"> −1</tspan><tspan dy="8.5">)</tspan></text>
<defs><clipPath id="rclip"><rect x="962.4" y="430.3" width="303.8" height="317.3"/></clipPath>
<clipPath id="rhatch"><path d="M1096.6 588.7L1100.4 593L1104.3 597.2L1108.1 601.4L1111.9 605.4L1115.7 609.4L1119.6 613.2L1123.4 616.9L1127.2 620.6L1131 624.2L1134.9 627.8L1138.7 631.3L1142.5 634.8L1146.3 638.2L1150.2 641.5L1154 644.8L1157.8 648.1L1161.6 651.3L1165.5 654.5L1169.3 657.6L1173.1 660.8L1176.9 664L1180.8 667.1L1184.6 670.1L1188.4 673L1192.2 675.8L1196.1 678.6L1199.9 681.4L1203.7 684.3L1207.5 687.4L1211.4 690.5L1215.2 693.6L1219 696.7L1222.8 699.7L1226.7 702.7L1230.5 705.5L1234.3 708.4L1238.1 711.2L1242 714.1L1245.8 716.9L1245.8 747.6L1096.6 747.6Z"/></clipPath></defs>
<rect x="962.4" y="430.3" width="303.8" height="317.3" fill="#f7f9fb"/>
<line x1="962.4" y1="493.8" x2="1266.2" y2="493.8" stroke="#d4d6d8" stroke-width="1"/>
<line x1="962.4" y1="557.2" x2="1266.2" y2="557.2" stroke="#d4d6d8" stroke-width="1"/>
<line x1="962.4" y1="620.7" x2="1266.2" y2="620.7" stroke="#d4d6d8" stroke-width="1"/>
<line x1="962.4" y1="684.2" x2="1266.2" y2="684.2" stroke="#d4d6d8" stroke-width="1"/>
<line x1="1038.7" y1="430.3" x2="1038.7" y2="747.6" stroke="#d4d6d8" stroke-width="1"/>
<line x1="1230.8" y1="430.3" x2="1230.8" y2="747.6" stroke="#d4d6d8" stroke-width="1"/>
<g clip-path="url(#rhatch)" stroke="#7e2a92" stroke-width="1.1">
<line x1="900.2" y1="760" x2="1100.2" y2="560"/>
<line x1="927.9" y1="760" x2="1127.9" y2="560"/>
<line x1="955.6" y1="760" x2="1155.6" y2="560"/>
<line x1="983.3" y1="760" x2="1183.3" y2="560"/>
<line x1="1011" y1="760" x2="1211" y2="560"/>
<line x1="1038.7" y1="760" x2="1238.7" y2="560"/>
<line x1="1066.4" y1="760" x2="1266.4" y2="560"/>
<line x1="1094.1" y1="760" x2="1294.1" y2="560"/>
<line x1="1121.8" y1="760" x2="1321.8" y2="560"/>
<line x1="1149.5" y1="760" x2="1349.5" y2="560"/>
<line x1="1177.2" y1="760" x2="1377.2" y2="560"/>
<line x1="1204.9" y1="760" x2="1404.9" y2="560"/>
<line x1="1232.6" y1="760" x2="1432.6" y2="560"/>
</g>
<line x1="1096.6" y1="747.6" x2="1096.6" y2="588.7" stroke="#b846c6" stroke-width="1.2" stroke-dasharray="4.2 2.8" opacity="0.85"/>
<line x1="1245.8" y1="747.6" x2="1245.8" y2="716.9" stroke="#b846c6" stroke-width="1.2" stroke-dasharray="4.2 2.8" opacity="0.85"/>
<line x1="1038.7" y1="430.3" x2="1038.7" y2="747.6" stroke="#222" stroke-width="1.7" stroke-dasharray="6.3 2.7"/>
<g clip-path="url(#rclip)" fill="none" stroke-width="2" stroke-linejoin="round">
<path d="M962.4 441.8L966.1 445.6L969.8 449.5L973.5 453.3L977.2 457.2L980.9 461L984.6 464.9L988.2 468.8L991.9 472.7L995.6 476.6L999.3 480.5L1003 484.4L1006.7 488.3L1010.4 492.2L1014.1 496.1L1017.8 500.1L1021.5 504L1025.2 508L1028.9 512L1032.6 516L1036.2 520.1L1039.9 524.2L1043.6 528.4L1047.3 532.6L1051 536.9L1054.7 541.2L1058.4 545.5L1062.1 549.7L1065.8 553.9L1069.5 558L1073.2 562.2L1076.9 566.3L1080.6 570.5L1084.2 574.8L1087.9 579L1091.6 583.2L1095.3 587.3L1099 591.4L1102.7 595.5L1106.4 599.6L1110.1 603.5L1113.8 607.4L1117.5 611.1L1121.2 614.8L1124.9 618.4L1128.6 621.9L1132.3 625.4L1135.9 628.8L1139.6 632.2L1143.3 635.5L1147 638.8L1150.7 642L1154.4 645.2L1158.1 648.3L1161.8 651.4L1165.5 654.5L1169.2 657.5L1172.9 660.6L1176.6 663.7L1180.3 666.7L1183.9 669.6L1187.6 672.5L1191.3 675.2L1195 677.9L1198.7 680.6L1202.4 683.3L1206.1 686.2L1209.8 689.2L1213.5 692.2L1217.2 695.2L1220.9 698.2L1224.6 701.1L1228.3 703.9L1231.9 706.6L1235.6 709.4L1239.3 712.1L1243 714.9L1246.7 717.7L1250.4 720.5L1254.1 723.4L1255.7 730.4L1256.7 738.4L1257.5 747.4L1258 749" stroke="#00007f" stroke-width="2.5"/>
<path d="M962.4 441.8L966.1 445.6L969.8 449.5L973.5 453.3L977.2 457.2L980.9 461L984.6 464.9L988.2 468.8L991.9 472.7L995.6 476.6L999.3 480.5L1003 484.4L1006.7 488.3L1010.4 492.2L1014.1 496.1L1017.8 500.1L1021.5 504L1025.2 508L1028.9 512L1032.6 516L1036.3 520.1L1039.9 524.2L1043.6 528.4L1047.3 532.6L1051 536.9L1054.7 541.2L1058.4 545.5L1062.1 549.7L1065.8 553.9L1069.5 558L1073.2 562.2L1076.9 566.3L1080.6 570.5L1084.3 574.7L1087.9 578.9L1091.6 583.1L1095.3 587.2L1099 591.4L1102.7 595.4L1106.4 599.5L1110.1 603.4L1113.8 607.3L1117.5 611L1121.2 614.6L1124.9 618.2L1128.6 621.7L1132.3 625.2L1135.9 628.6L1139.6 632L1143.3 635.3L1147 638.6L1150.7 641.8L1154.4 645L1158.1 648.1L1161.8 651.2L1165.5 654.3L1169.2 657.3L1172.9 660.4L1176.6 663.5L1180.3 666.5L1184 669.4L1187.6 672.3L1191.3 675L1195 677.7L1198.7 680.4L1202.4 683.2L1206.1 686L1209.8 689L1213.5 692L1217.2 695L1220.9 698L1224.6 700.9L1228.3 703.7L1232 706.5L1235.6 709.2L1239.3 712L1243 714.8L1246.7 717.6L1250.4 720.4L1254.1 723.3L1255.7 730.3L1256.7 738.3L1257.5 747.3L1258 749" stroke="#000097" stroke-width="2.0"/>
<path d="M962.4 441.8L966.1 445.6L969.8 449.5L973.5 453.3L977.2 457.2L980.9 461L984.6 464.9L988.2 468.8L991.9 472.7L995.6 476.6L999.3 480.5L1003 484.4L1006.7 488.3L1010.4 492.2L1014.1 496.1L1017.8 500.1L1021.5 504L1025.2 508L1028.9 512L1032.6 516L1036.3 520.1L1039.9 524.2L1043.6 528.4L1047.3 532.6L1051 536.9L1054.7 541.2L1058.4 545.5L1062.1 549.7L1065.8 553.8L1069.5 558L1073.2 562.1L1076.9 566.3L1080.6 570.5L1084.3 574.7L1088 578.9L1091.6 583L1095.3 587.2L1099 591.3L1102.7 595.3L1106.4 599.4L1110.1 603.3L1113.8 607.1L1117.5 610.8L1121.2 614.5L1124.9 618L1128.6 621.6L1132.3 625L1136 628.4L1139.6 631.8L1143.3 635.1L1147 638.4L1150.7 641.6L1154.4 644.8L1158.1 647.9L1161.8 651L1165.5 654.1L1169.2 657.1L1172.9 660.2L1176.6 663.3L1180.3 666.3L1184 669.2L1187.7 672L1191.3 674.8L1195 677.5L1198.7 680.2L1202.4 682.9L1206.1 685.8L1209.8 688.8L1213.5 691.8L1217.2 694.9L1220.9 697.9L1224.6 700.8L1228.3 703.6L1232 706.4L1235.7 709.1L1239.4 711.9L1243 714.7L1246.7 717.5L1250.4 720.4L1254.1 723.3L1255.7 730.3L1256.7 738.3L1257.5 747.3L1258 749" stroke="#0000ae" stroke-width="2.0"/>
<path d="M962.4 441.8L966.1 445.6L969.8 449.5L973.5 453.3L977.2 457.2L980.9 461L984.6 464.9L988.3 468.8L991.9 472.7L995.6 476.6L999.3 480.5L1003 484.4L1006.7 488.3L1010.4 492.2L1014.1 496.1L1017.8 500.1L1021.5 504L1025.2 508L1028.9 512L1032.6 516L1036.3 520.1L1040 524.2L1043.6 528.4L1047.3 532.6L1051 536.9L1054.7 541.2L1058.4 545.5L1062.1 549.7L1065.8 553.8L1069.5 558L1073.2 562.1L1076.9 566.3L1080.6 570.4L1084.3 574.6L1088 578.8L1091.7 583L1095.3 587.1L1099 591.2L1102.7 595.2L1106.4 599.3L1110.1 603.2L1113.8 607L1117.5 610.7L1121.2 614.3L1124.9 617.9L1128.6 621.4L1132.3 624.8L1136 628.2L1139.7 631.6L1143.4 634.9L1147 638.1L1150.7 641.4L1154.4 644.5L1158.1 647.7L1161.8 650.7L1165.5 653.8L1169.2 656.8L1172.9 659.9L1176.6 663L1180.3 666L1184 669L1187.7 671.8L1191.4 674.5L1195.1 677.2L1198.7 679.9L1202.4 682.7L1206.1 685.6L1209.8 688.6L1213.5 691.6L1217.2 694.7L1220.9 697.7L1224.6 700.6L1228.3 703.4L1232 706.2L1235.7 709L1239.4 711.8L1243.1 714.5L1246.8 717.4L1250.4 720.3L1254.1 723.2L1255.7 730.2L1256.7 738.2L1257.5 747.2L1258 749" stroke="#0000c6" stroke-width="2.0"/>
<path d="M962.4 441.8L966.1 445.6L969.8 449.5L973.5 453.3L977.2 457.2L980.9 461L984.6 464.9L988.3 468.8L991.9 472.7L995.6 476.6L999.3 480.5L1003 484.4L1006.7 488.3L1010.4 492.2L1014.1 496.1L1017.8 500.1L1021.5 504L1025.2 508L1028.9 512L1032.6 516L1036.3 520L1040 524.2L1043.6 528.4L1047.3 532.6L1051 536.9L1054.7 541.2L1058.4 545.5L1062.1 549.7L1065.8 553.8L1069.5 558L1073.2 562.1L1076.9 566.3L1080.6 570.4L1084.3 574.6L1088 578.7L1091.7 582.9L1095.4 587L1099 591.1L1102.7 595.1L1106.4 599.1L1110.1 603L1113.8 606.8L1117.5 610.5L1121.2 614.1L1124.9 617.6L1128.6 621.1L1132.3 624.6L1136 628L1139.7 631.3L1143.4 634.6L1147.1 637.9L1150.7 641.1L1154.4 644.3L1158.1 647.4L1161.8 650.5L1165.5 653.5L1169.2 656.6L1172.9 659.6L1176.6 662.7L1180.3 665.7L1184 668.7L1187.7 671.5L1191.4 674.2L1195.1 676.9L1198.8 679.7L1202.5 682.5L1206.1 685.4L1209.8 688.4L1213.5 691.4L1217.2 694.5L1220.9 697.5L1224.6 700.4L1228.3 703.3L1232 706.1L1235.7 708.8L1239.4 711.6L1243.1 714.4L1246.8 717.3L1250.5 720.2L1254.2 723.1L1255.8 730.1L1256.8 738.1L1257.6 747.1L1258.1 749" stroke="#0000de" stroke-width="2.0"/>
<path d="M962.4 441.8L966.1 445.6L969.8 449.5L973.5 453.3L977.2 457.2L980.9 461L984.6 464.9L988.3 468.8L991.9 472.7L995.6 476.6L999.3 480.5L1003 484.4L1006.7 488.3L1010.4 492.2L1014.1 496.1L1017.8 500.1L1021.5 504L1025.2 508L1028.9 512L1032.6 516L1036.3 520L1040 524.2L1043.7 528.3L1047.3 532.6L1051 536.9L1054.7 541.2L1058.4 545.4L1062.1 549.6L1065.8 553.8L1069.5 558L1073.2 562.1L1076.9 566.2L1080.6 570.4L1084.3 574.5L1088 578.7L1091.7 582.8L1095.4 586.9L1099.1 590.9L1102.7 595L1106.4 599L1110.1 602.9L1113.8 606.6L1117.5 610.3L1121.2 613.9L1124.9 617.4L1128.6 620.9L1132.3 624.3L1136 627.7L1139.7 631.1L1143.4 634.3L1147.1 637.6L1150.8 640.8L1154.5 643.9L1158.1 647.1L1161.8 650.1L1165.5 653.2L1169.2 656.3L1172.9 659.3L1176.6 662.4L1180.3 665.4L1184 668.4L1187.7 671.2L1191.4 673.9L1195.1 676.6L1198.8 679.4L1202.5 682.2L1206.2 685.1L1209.9 688.1L1213.5 691.2L1217.2 694.2L1220.9 697.3L1224.6 700.2L1228.3 703.1L1232 705.9L1235.7 708.7L1239.4 711.5L1243.1 714.3L1246.8 717.1L1250.5 720L1254.2 723L1255.8 730L1256.8 738L1257.6 747L1258.1 749" stroke="#0000f6" stroke-width="2.0"/>
<path d="M962.4 441.8L966.1 445.6L969.8 449.5L973.5 453.3L977.2 457.2L980.9 461L984.6 464.9L988.3 468.8L991.9 472.7L995.6 476.6L999.3 480.5L1003 484.4L1006.7 488.3L1010.4 492.2L1014.1 496.1L1017.8 500.1L1021.5 504L1025.2 508L1028.9 512L1032.6 516L1036.3 520L1040 524.2L1043.7 528.3L1047.4 532.6L1051 536.9L1054.7 541.2L1058.4 545.4L1062.1 549.6L1065.8 553.8L1069.5 557.9L1073.2 562.1L1076.9 566.2L1080.6 570.3L1084.3 574.5L1088 578.6L1091.7 582.7L1095.4 586.8L1099.1 590.8L1102.8 594.8L1106.4 598.8L1110.1 602.7L1113.8 606.4L1117.5 610.1L1121.2 613.7L1124.9 617.2L1128.6 620.6L1132.3 624.1L1136 627.4L1139.7 630.8L1143.4 634L1147.1 637.3L1150.8 640.5L1154.5 643.6L1158.2 646.7L1161.9 649.8L1165.5 652.9L1169.2 655.9L1172.9 659L1176.6 662.1L1180.3 665.1L1184 668L1187.7 670.8L1191.4 673.6L1195.1 676.3L1198.8 679.1L1202.5 681.9L1206.2 684.8L1209.9 687.8L1213.6 690.9L1217.3 694L1220.9 697L1224.6 700L1228.3 702.9L1232 705.7L1235.7 708.5L1239.4 711.3L1243.1 714.1L1246.8 717L1250.5 719.9L1254.2 722.8L1255.8 729.8L1256.8 737.8L1257.6 746.8L1258.1 749" stroke="#000eff" stroke-width="2.0"/>
<path d="M962.4 441.8L966.1 445.6L969.8 449.5L973.5 453.3L977.2 457.2L980.9 461L984.6 464.9L988.3 468.8L992 472.7L995.6 476.6L999.3 480.5L1003 484.4L1006.7 488.3L1010.4 492.2L1014.1 496.1L1017.8 500.1L1021.5 504L1025.2 508L1028.9 512L1032.6 516L1036.3 520L1040 524.2L1043.7 528.3L1047.4 532.6L1051.1 536.9L1054.7 541.2L1058.4 545.4L1062.1 549.6L1065.8 553.8L1069.5 557.9L1073.2 562L1076.9 566.2L1080.6 570.3L1084.3 574.4L1088 578.5L1091.7 582.6L1095.4 586.6L1099.1 590.7L1102.8 594.7L1106.5 598.6L1110.2 602.5L1113.8 606.2L1117.5 609.9L1121.2 613.4L1124.9 616.9L1128.6 620.4L1132.3 623.8L1136 627.1L1139.7 630.4L1143.4 633.7L1147.1 636.9L1150.8 640.1L1154.5 643.3L1158.2 646.4L1161.9 649.5L1165.6 652.5L1169.3 655.6L1172.9 658.6L1176.6 661.7L1180.3 664.7L1184 667.7L1187.7 670.5L1191.4 673.2L1195.1 676L1198.8 678.7L1202.5 681.5L1206.2 684.5L1209.9 687.5L1213.6 690.6L1217.3 693.7L1221 696.8L1224.7 699.7L1228.4 702.6L1232 705.5L1235.7 708.3L1239.4 711.1L1243.1 714L1246.8 716.9L1250.5 719.8L1254.2 722.7L1255.8 729.7L1256.8 737.7L1257.6 746.7L1258.1 749" stroke="#0026ff" stroke-width="2.0"/>
<path d="M962.4 441.8L966.1 445.6L969.8 449.5L973.5 453.3L977.2 457.2L980.9 461L984.6 464.9L988.3 468.8L992 472.7L995.6 476.6L999.3 480.5L1003 484.4L1006.7 488.3L1010.4 492.2L1014.1 496.1L1017.8 500.1L1021.5 504L1025.2 508L1028.9 512L1032.6 516L1036.3 520L1040 524.1L1043.7 528.3L1047.4 532.6L1051.1 536.9L1054.8 541.2L1058.4 545.4L1062.1 549.6L1065.8 553.8L1069.5 557.9L1073.2 562L1076.9 566.1L1080.6 570.2L1084.3 574.3L1088 578.4L1091.7 582.5L1095.4 586.5L1099.1 590.5L1102.8 594.5L1106.5 598.4L1110.2 602.3L1113.9 606L1117.5 609.6L1121.2 613.1L1124.9 616.6L1128.6 620.1L1132.3 623.5L1136 626.8L1139.7 630.1L1143.4 633.4L1147.1 636.6L1150.8 639.8L1154.5 642.9L1158.2 646L1161.9 649.1L1165.6 652.1L1169.3 655.2L1173 658.2L1176.7 661.3L1180.3 664.3L1184 667.3L1187.7 670.1L1191.4 672.9L1195.1 675.6L1198.8 678.4L1202.5 681.2L1206.2 684.2L1209.9 687.2L1213.6 690.3L1217.3 693.4L1221 696.5L1224.7 699.5L1228.4 702.4L1232.1 705.3L1235.8 708.1L1239.5 711L1243.1 713.8L1246.8 716.7L1250.5 719.6L1254.2 722.6L1255.8 729.6L1256.8 737.6L1257.6 746.6L1258.1 749" stroke="#003eff" stroke-width="2.0"/>
<path d="M962.4 441.8L966.1 445.6L969.8 449.5L973.5 453.3L977.2 457.2L980.9 461L984.6 464.9L988.3 468.8L992 472.7L995.6 476.6L999.3 480.5L1003 484.4L1006.7 488.3L1010.4 492.2L1014.1 496.1L1017.8 500.1L1021.5 504L1025.2 508L1028.9 512L1032.6 516L1036.3 520L1040 524.1L1043.7 528.3L1047.4 532.6L1051.1 536.9L1054.8 541.2L1058.5 545.4L1062.1 549.6L1065.8 553.8L1069.5 557.9L1073.2 562L1076.9 566.1L1080.6 570.2L1084.3 574.3L1088 578.3L1091.7 582.4L1095.4 586.4L1099.1 590.4L1102.8 594.3L1106.5 598.3L1110.2 602.1L1113.9 605.8L1117.6 609.4L1121.3 612.9L1125 616.3L1128.6 619.8L1132.3 623.1L1136 626.5L1139.7 629.8L1143.4 633L1147.1 636.2L1150.8 639.4L1154.5 642.5L1158.2 645.6L1161.9 648.7L1165.6 651.7L1169.3 654.8L1173 657.8L1176.7 660.9L1180.4 663.9L1184.1 666.9L1187.8 669.7L1191.4 672.5L1195.1 675.2L1198.8 678L1202.5 680.8L1206.2 683.8L1209.9 686.9L1213.6 690L1217.3 693.1L1221 696.2L1224.7 699.2L1228.4 702.2L1232.1 705L1235.8 707.9L1239.5 710.8L1243.2 713.6L1246.9 716.6L1250.6 719.5L1254.3 722.5L1255.9 729.5L1256.9 737.5L1257.7 746.5L1258.2 749" stroke="#0055ff" stroke-width="2.0"/>
<path d="M962.4 441.8L966.1 445.6L969.8 449.5L973.5 453.3L977.2 457.2L980.9 461L984.6 464.9L988.3 468.8L992 472.7L995.7 476.6L999.3 480.5L1003 484.4L1006.7 488.3L1010.4 492.2L1014.1 496.1L1017.8 500.1L1021.5 504L1025.2 508L1028.9 512L1032.6 516L1036.3 520L1040 524.1L1043.7 528.3L1047.4 532.6L1051.1 536.9L1054.8 541.2L1058.5 545.4L1062.2 549.6L1065.8 553.7L1069.5 557.9L1073.2 562L1076.9 566L1080.6 570.1L1084.3 574.2L1088 578.2L1091.7 582.2L1095.4 586.2L1099.1 590.2L1102.8 594.2L1106.5 598L1110.2 601.8L1113.9 605.5L1117.6 609.1L1121.3 612.6L1125 616L1128.7 619.4L1132.4 622.8L1136 626.1L1139.7 629.4L1143.4 632.6L1147.1 635.8L1150.8 639L1154.5 642.1L1158.2 645.2L1161.9 648.2L1165.6 651.3L1169.3 654.3L1173 657.4L1176.7 660.5L1180.4 663.5L1184.1 666.4L1187.8 669.3L1191.5 672.1L1195.2 674.8L1198.9 677.6L1202.6 680.5L1206.2 683.4L1209.9 686.5L1213.6 689.6L1217.3 692.8L1221 695.9L1224.7 698.9L1228.4 701.9L1232.1 704.8L1235.8 707.7L1239.5 710.6L1243.2 713.4L1246.9 716.4L1250.6 719.3L1254.3 722.3L1255.9 729.3L1256.9 737.3L1257.7 746.3L1258.2 749" stroke="#006dff" stroke-width="2.0"/>
<path d="M962.4 441.8L966.1 445.6L969.8 449.5L973.5 453.3L977.2 457.2L980.9 461L984.6 464.9L988.3 468.8L992 472.7L995.7 476.6L999.3 480.5L1003 484.4L1006.7 488.3L1010.4 492.2L1014.1 496.2L1017.8 500.1L1021.5 504L1025.2 508L1028.9 512L1032.6 516L1036.3 520L1040 524.1L1043.7 528.3L1047.4 532.6L1051.1 536.9L1054.8 541.2L1058.5 545.4L1062.2 549.6L1065.9 553.7L1069.6 557.8L1073.2 561.9L1076.9 566L1080.6 570.1L1084.3 574.1L1088 578.1L1091.7 582.1L1095.4 586.1L1099.1 590L1102.8 594L1106.5 597.8L1110.2 601.6L1113.9 605.3L1117.6 608.8L1121.3 612.3L1125 615.7L1128.7 619.1L1132.4 622.4L1136.1 625.7L1139.8 629L1143.5 632.2L1147.1 635.4L1150.8 638.5L1154.5 641.7L1158.2 644.7L1161.9 647.8L1165.6 650.8L1169.3 653.9L1173 657L1176.7 660L1180.4 663L1184.1 666L1187.8 668.8L1191.5 671.6L1195.2 674.4L1198.9 677.2L1202.6 680.1L1206.3 683L1210 686.1L1213.7 689.3L1217.3 692.5L1221 695.6L1224.7 698.6L1228.4 701.6L1232.1 704.5L1235.8 707.4L1239.5 710.3L1243.2 713.3L1246.9 716.2L1250.6 719.2L1254.3 722.2L1255.9 729.2L1256.9 737.2L1257.7 746.2L1258.2 749" stroke="#0085ff" stroke-width="2.0"/>
<path d="M962.4 441.8L966.1 445.6L969.8 449.5L973.5 453.3L977.2 457.2L980.9 461L984.6 464.9L988.3 468.8L992 472.7L995.7 476.6L999.4 480.5L1003 484.4L1006.7 488.3L1010.4 492.2L1014.1 496.2L1017.8 500.1L1021.5 504L1025.2 508L1028.9 512L1032.6 516L1036.3 520L1040 524.1L1043.7 528.3L1047.4 532.6L1051.1 536.9L1054.8 541.2L1058.5 545.4L1062.2 549.6L1065.9 553.7L1069.6 557.8L1073.3 561.9L1077 566L1080.6 570L1084.3 574L1088 578L1091.7 582L1095.4 585.9L1099.1 589.9L1102.8 593.8L1106.5 597.6L1110.2 601.4L1113.9 605L1117.6 608.5L1121.3 612L1125 615.4L1128.7 618.7L1132.4 622.1L1136.1 625.3L1139.8 628.6L1143.5 631.8L1147.2 634.9L1150.9 638.1L1154.6 641.2L1158.2 644.3L1161.9 647.3L1165.6 650.4L1169.3 653.4L1173 656.5L1176.7 659.6L1180.4 662.6L1184.1 665.5L1187.8 668.4L1191.5 671.2L1195.2 673.9L1198.9 676.7L1202.6 679.6L1206.3 682.6L1210 685.8L1213.7 688.9L1217.4 692.1L1221.1 695.3L1224.8 698.3L1228.5 701.3L1232.2 704.3L1235.8 707.2L1239.5 710.1L1243.2 713L1246.9 716L1250.6 719L1254.3 722L1255.9 729L1256.9 737L1257.7 746L1258.2 749" stroke="#009dff" stroke-width="2.0"/>
<path d="M962.4 441.8L966.1 445.6L969.8 449.5L973.5 453.3L977.2 457.2L980.9 461.1L984.6 464.9L988.3 468.8L992 472.7L995.7 476.6L999.4 480.5L1003.1 484.4L1006.7 488.3L1010.4 492.2L1014.1 496.2L1017.8 500.1L1021.5 504L1025.2 508L1028.9 512L1032.6 516L1036.3 520L1040 524.1L1043.7 528.3L1047.4 532.6L1051.1 536.9L1054.8 541.1L1058.5 545.4L1062.2 549.6L1065.9 553.7L1069.6 557.8L1073.3 561.9L1077 565.9L1080.7 569.9L1084.4 573.9L1088 577.9L1091.7 581.8L1095.4 585.8L1099.1 589.7L1102.8 593.5L1106.5 597.4L1110.2 601.1L1113.9 604.7L1117.6 608.2L1121.3 611.6L1125 615L1128.7 618.4L1132.4 621.7L1136.1 624.9L1139.8 628.1L1143.5 631.3L1147.2 634.5L1150.9 637.6L1154.6 640.7L1158.3 643.8L1162 646.9L1165.7 649.9L1169.4 652.9L1173 656L1176.7 659.1L1180.4 662.1L1184.1 665L1187.8 667.9L1191.5 670.7L1195.2 673.5L1198.9 676.3L1202.6 679.2L1206.3 682.2L1210 685.4L1213.7 688.5L1217.4 691.8L1221.1 694.9L1224.8 698L1228.5 701L1232.2 704L1235.9 706.9L1239.6 709.9L1243.3 712.8L1247 715.8L1250.7 718.8L1254.4 721.8L1256 728.8L1257 736.8L1257.8 745.8L1258.3 749" stroke="#00b4ff" stroke-width="2.0"/>
<path d="M962.4 441.8L966.1 445.6L969.8 449.5L973.5 453.3L977.2 457.2L980.9 461.1L984.6 464.9L988.3 468.8L992 472.7L995.7 476.6L999.4 480.5L1003.1 484.4L1006.8 488.3L1010.4 492.2L1014.1 496.2L1017.8 500.1L1021.5 504L1025.2 508L1028.9 512L1032.6 516L1036.3 520L1040 524.1L1043.7 528.3L1047.4 532.6L1051.1 536.9L1054.8 541.1L1058.5 545.4L1062.2 549.5L1065.9 553.7L1069.6 557.8L1073.3 561.8L1077 565.9L1080.7 569.9L1084.4 573.8L1088.1 577.8L1091.8 581.7L1095.5 585.6L1099.1 589.5L1102.8 593.3L1106.5 597.1L1110.2 600.8L1113.9 604.4L1117.6 607.9L1121.3 611.3L1125 614.6L1128.7 618L1132.4 621.3L1136.1 624.5L1139.8 627.7L1143.5 630.9L1147.2 634L1150.9 637.2L1154.6 640.2L1158.3 643.3L1162 646.4L1165.7 649.4L1169.4 652.4L1173.1 655.5L1176.8 658.6L1180.5 661.6L1184.2 664.6L1187.9 667.4L1191.5 670.2L1195.2 673L1198.9 675.8L1202.6 678.7L1206.3 681.8L1210 684.9L1213.7 688.2L1217.4 691.4L1221.1 694.6L1224.8 697.7L1228.5 700.7L1232.2 703.7L1235.9 706.7L1239.6 709.6L1243.3 712.6L1247 715.6L1250.7 718.6L1254.4 721.7L1256 728.7L1257 736.7L1257.8 745.7L1258.3 749" stroke="#00ccff" stroke-width="2.0"/>
<path d="M962.4 441.8L966.1 445.6L969.8 449.5L973.5 453.3L977.2 457.2L980.9 461.1L984.6 464.9L988.3 468.8L992 472.7L995.7 476.6L999.4 480.5L1003.1 484.4L1006.8 488.3L1010.5 492.2L1014.1 496.2L1017.8 500.1L1021.5 504L1025.2 508L1028.9 512L1032.6 516L1036.3 520L1040 524.1L1043.7 528.3L1047.4 532.6L1051.1 536.9L1054.8 541.1L1058.5 545.4L1062.2 549.5L1065.9 553.7L1069.6 557.7L1073.3 561.8L1077 565.8L1080.7 569.8L1084.4 573.7L1088.1 577.7L1091.8 581.6L1095.5 585.4L1099.2 589.3L1102.9 593.1L1106.6 596.9L1110.3 600.6L1113.9 604.1L1117.6 607.6L1121.3 610.9L1125 614.3L1128.7 617.6L1132.4 620.8L1136.1 624.1L1139.8 627.3L1143.5 630.4L1147.2 633.6L1150.9 636.7L1154.6 639.7L1158.3 642.8L1162 645.8L1165.7 648.9L1169.4 651.9L1173.1 655L1176.8 658L1180.5 661.1L1184.2 664L1187.9 666.9L1191.6 669.7L1195.3 672.5L1199 675.4L1202.7 678.3L1206.4 681.3L1210.1 684.5L1213.7 687.7L1217.4 691L1221.1 694.2L1224.8 697.3L1228.5 700.4L1232.2 703.4L1235.9 706.4L1239.6 709.4L1243.3 712.4L1247 715.4L1250.7 718.5L1254.4 721.5L1256 728.5L1257 736.5L1257.8 745.5L1258.3 749" stroke="#00e4ff" stroke-width="2.0"/>
<path d="M962.4 441.8L966.1 445.6L969.8 449.5L973.5 453.3L977.2 457.2L980.9 461.1L984.6 464.9L988.3 468.8L992 472.7L995.7 476.6L999.4 480.5L1003.1 484.4L1006.8 488.3L1010.5 492.3L1014.2 496.2L1017.8 500.1L1021.5 504L1025.2 508L1028.9 512L1032.6 516L1036.3 520L1040 524.1L1043.7 528.3L1047.4 532.6L1051.1 536.9L1054.8 541.1L1058.5 545.4L1062.2 549.5L1065.9 553.6L1069.6 557.7L1073.3 561.8L1077 565.8L1080.7 569.7L1084.4 573.7L1088.1 577.5L1091.8 581.4L1095.5 585.3L1099.2 589.1L1102.9 592.9L1106.6 596.6L1110.3 600.3L1114 603.8L1117.7 607.2L1121.4 610.6L1125.1 613.9L1128.7 617.2L1132.4 620.4L1136.1 623.6L1139.8 626.8L1143.5 629.9L1147.2 633.1L1150.9 636.2L1154.6 639.2L1158.3 642.3L1162 645.3L1165.7 648.4L1169.4 651.4L1173.1 654.5L1176.8 657.5L1180.5 660.6L1184.2 663.5L1187.9 666.4L1191.6 669.2L1195.3 672L1199 674.9L1202.7 677.8L1206.4 680.9L1210.1 684.1L1213.8 687.3L1217.5 690.6L1221.2 693.8L1224.9 697L1228.6 700.1L1232.3 703.1L1236 706.1L1239.6 709.1L1243.3 712.2L1247 715.2L1250.7 718.3L1254.4 721.3L1256 728.3L1257 736.3L1257.8 745.3L1258.3 749" stroke="#00fcff" stroke-width="2.0"/>
<path d="M962.4 441.8L966.1 445.6L969.8 449.5L973.5 453.3L977.2 457.2L980.9 461.1L984.6 464.9L988.3 468.8L992 472.7L995.7 476.6L999.4 480.5L1003.1 484.4L1006.8 488.4L1010.5 492.3L1014.2 496.2L1017.9 500.1L1021.6 504L1025.2 508L1028.9 512L1032.6 516L1036.3 520L1040 524.1L1043.7 528.3L1047.4 532.6L1051.1 536.8L1054.8 541.1L1058.5 545.3L1062.2 549.5L1065.9 553.6L1069.6 557.7L1073.3 561.7L1077 565.7L1080.7 569.7L1084.4 573.6L1088.1 577.4L1091.8 581.3L1095.5 585.1L1099.2 588.9L1102.9 592.7L1106.6 596.4L1110.3 600L1114 603.5L1117.7 606.9L1121.4 610.2L1125.1 613.5L1128.8 616.8L1132.5 620L1136.2 623.2L1139.9 626.3L1143.6 629.4L1147.3 632.6L1150.9 635.6L1154.6 638.7L1158.3 641.8L1162 644.8L1165.7 647.8L1169.4 650.9L1173.1 653.9L1176.8 657L1180.5 660L1184.2 663L1187.9 665.9L1191.6 668.7L1195.3 671.5L1199 674.4L1202.7 677.3L1206.4 680.4L1210.1 683.6L1213.8 686.9L1217.5 690.2L1221.2 693.5L1224.9 696.6L1228.6 699.7L1232.3 702.8L1236 705.9L1239.7 708.9L1243.4 711.9L1247.1 715L1250.8 718.1L1254.5 721.1L1256.1 728.1L1257.1 736.1L1257.9 745.1L1258.4 749" stroke="#14ffea" stroke-width="2.0"/>
<path d="M962.4 441.8L966.1 445.6L969.8 449.5L973.5 453.3L977.2 457.2L980.9 461.1L984.6 464.9L988.3 468.8L992 472.7L995.7 476.6L999.4 480.5L1003.1 484.4L1006.8 488.4L1010.5 492.3L1014.2 496.2L1017.9 500.1L1021.6 504L1025.3 508L1029 512L1032.7 516L1036.3 520L1040 524.1L1043.7 528.3L1047.4 532.6L1051.1 536.8L1054.8 541.1L1058.5 545.3L1062.2 549.5L1065.9 553.6L1069.6 557.7L1073.3 561.7L1077 565.7L1080.7 569.6L1084.4 573.5L1088.1 577.3L1091.8 581.1L1095.5 584.9L1099.2 588.7L1102.9 592.4L1106.6 596.1L1110.3 599.7L1114 603.2L1117.7 606.5L1121.4 609.8L1125.1 613.1L1128.8 616.3L1132.5 619.5L1136.2 622.7L1139.9 625.8L1143.6 629L1147.3 632.1L1151 635.1L1154.7 638.2L1158.4 641.2L1162.1 644.3L1165.8 647.3L1169.5 650.3L1173.2 653.4L1176.8 656.4L1180.5 659.5L1184.2 662.4L1187.9 665.3L1191.6 668.2L1195.3 671L1199 673.9L1202.7 676.8L1206.4 680L1210.1 683.2L1213.8 686.5L1217.5 689.8L1221.2 693.1L1224.9 696.3L1228.6 699.4L1232.3 702.5L1236 705.6L1239.7 708.6L1243.4 711.7L1247.1 714.8L1250.8 717.9L1254.5 721L1256.1 728L1257.1 736L1257.9 745L1258.4 749" stroke="#2cffd2" stroke-width="2.0"/>
<path d="M962.4 441.8L966.1 445.6L969.8 449.5L973.5 453.3L977.2 457.2L980.9 461.1L984.6 464.9L988.3 468.8L992 472.7L995.7 476.6L999.4 480.5L1003.1 484.5L1006.8 488.4L1010.5 492.3L1014.2 496.2L1017.9 500.1L1021.6 504L1025.3 508L1029 512L1032.7 516L1036.4 520L1040.1 524.1L1043.8 528.3L1047.4 532.6L1051.1 536.8L1054.8 541.1L1058.5 545.3L1062.2 549.5L1065.9 553.6L1069.6 557.6L1073.3 561.7L1077 565.6L1080.7 569.5L1084.4 573.4L1088.1 577.2L1091.8 580.9L1095.5 584.7L1099.2 588.5L1102.9 592.2L1106.6 595.8L1110.3 599.4L1114 602.9L1117.7 606.2L1121.4 609.5L1125.1 612.7L1128.8 615.9L1132.5 619.1L1136.2 622.2L1139.9 625.4L1143.6 628.5L1147.3 631.5L1151 634.6L1154.7 637.7L1158.4 640.7L1162.1 643.7L1165.8 646.7L1169.5 649.8L1173.2 652.8L1176.9 655.9L1180.6 658.9L1184.3 661.9L1188 664.8L1191.7 667.6L1195.4 670.5L1199.1 673.4L1202.8 676.3L1206.5 679.5L1210.2 682.7L1213.8 686L1217.5 689.4L1221.2 692.7L1224.9 695.9L1228.6 699.1L1232.3 702.2L1236 705.3L1239.7 708.4L1243.4 711.5L1247.1 714.6L1250.8 717.7L1254.5 720.8L1256.1 727.8L1257.1 735.8L1257.9 744.8L1258.4 749" stroke="#44ffba" stroke-width="2.0"/>
<path d="M962.4 441.8L966.1 445.6L969.8 449.5L973.5 453.3L977.2 457.2L980.9 461.1L984.6 465L988.3 468.8L992 472.7L995.7 476.6L999.4 480.5L1003.1 484.5L1006.8 488.4L1010.5 492.3L1014.2 496.2L1017.9 500.1L1021.6 504L1025.3 508L1029 512L1032.7 516L1036.4 520L1040.1 524.1L1043.8 528.3L1047.5 532.5L1051.2 536.8L1054.9 541.1L1058.6 545.3L1062.3 549.4L1065.9 553.6L1069.6 557.6L1073.3 561.6L1077 565.6L1080.7 569.4L1084.4 573.3L1088.1 577L1091.8 580.8L1095.5 584.5L1099.2 588.2L1102.9 591.9L1106.6 595.6L1110.3 599.1L1114 602.5L1117.7 605.8L1121.4 609.1L1125.1 612.3L1128.8 615.5L1132.5 618.6L1136.2 621.8L1139.9 624.9L1143.6 627.9L1147.3 631L1151 634.1L1154.7 637.1L1158.4 640.1L1162.1 643.2L1165.8 646.2L1169.5 649.2L1173.2 652.3L1176.9 655.3L1180.6 658.4L1184.3 661.3L1188 664.2L1191.7 667.1L1195.4 669.9L1199.1 672.8L1202.8 675.8L1206.5 679L1210.2 682.3L1213.9 685.6L1217.6 689L1221.3 692.3L1225 695.5L1228.7 698.7L1232.4 701.9L1236.1 705L1239.8 708.1L1243.5 711.2L1247.2 714.3L1250.9 717.5L1254.6 720.6L1256.2 727.6L1257.2 735.6L1258 744.6L1258.5 749" stroke="#5bffa3" stroke-width="2.0"/>
<path d="M962.4 441.8L966.1 445.6L969.8 449.5L973.5 453.3L977.2 457.2L980.9 461.1L984.6 465L988.3 468.8L992 472.7L995.7 476.6L999.4 480.5L1003.1 484.5L1006.8 488.4L1010.5 492.3L1014.2 496.2L1017.9 500.1L1021.6 504L1025.3 508L1029 512L1032.7 516L1036.4 520L1040.1 524.1L1043.8 528.3L1047.5 532.5L1051.2 536.8L1054.9 541.1L1058.6 545.3L1062.3 549.4L1066 553.5L1069.7 557.6L1073.4 561.6L1077.1 565.5L1080.8 569.4L1084.5 573.2L1088.2 576.9L1091.8 580.6L1095.5 584.3L1099.2 588L1102.9 591.7L1106.6 595.3L1110.3 598.8L1114 602.2L1117.7 605.5L1121.4 608.7L1125.1 611.9L1128.8 615.1L1132.5 618.2L1136.2 621.3L1139.9 624.4L1143.6 627.4L1147.3 630.5L1151 633.5L1154.7 636.6L1158.4 639.6L1162.1 642.6L1165.8 645.6L1169.5 648.6L1173.2 651.7L1176.9 654.8L1180.6 657.8L1184.3 660.8L1188 663.7L1191.7 666.5L1195.4 669.4L1199.1 672.3L1202.8 675.3L1206.5 678.5L1210.2 681.8L1213.9 685.2L1217.6 688.6L1221.3 691.9L1225 695.2L1228.7 698.4L1232.4 701.6L1236.1 704.7L1239.8 707.8L1243.5 711L1247.2 714.1L1250.9 717.3L1254.6 720.4L1256.2 727.4L1257.2 735.4L1258 744.4L1258.5 749" stroke="#73ff8b" stroke-width="2.0"/>
<path d="M962.4 441.8L966.1 445.6L969.8 449.5L973.5 453.3L977.2 457.2L980.9 461.1L984.6 465L988.3 468.8L992 472.7L995.7 476.6L999.4 480.6L1003.1 484.5L1006.8 488.4L1010.5 492.3L1014.2 496.2L1017.9 500.1L1021.6 504L1025.3 508L1029 512L1032.7 516L1036.4 520L1040.1 524.1L1043.8 528.3L1047.5 532.5L1051.2 536.8L1054.9 541.1L1058.6 545.3L1062.3 549.4L1066 553.5L1069.7 557.6L1073.4 561.6L1077.1 565.5L1080.8 569.3L1084.5 573.1L1088.2 576.8L1091.9 580.5L1095.6 584.1L1099.3 587.8L1103 591.5L1106.7 595L1110.4 598.5L1114.1 601.9L1117.8 605.1L1121.5 608.3L1125.2 611.5L1128.9 614.6L1132.6 617.7L1136.2 620.8L1139.9 623.9L1143.6 626.9L1147.3 630L1151 633L1154.7 636L1158.4 639L1162.1 642L1165.8 645.1L1169.5 648.1L1173.2 651.1L1176.9 654.2L1180.6 657.2L1184.3 660.2L1188 663.1L1191.7 666L1195.4 668.9L1199.1 671.8L1202.8 674.8L1206.5 678L1210.2 681.3L1213.9 684.7L1217.6 688.1L1221.3 691.5L1225 694.8L1228.7 698L1232.4 701.2L1236.1 704.4L1239.8 707.6L1243.5 710.7L1247.2 713.9L1250.9 717L1254.6 720.2L1256.2 727.2L1257.2 735.2L1258 744.2L1258.5 749" stroke="#8bff73" stroke-width="2.0"/>
<path d="M962.4 441.8L966.1 445.6L969.8 449.5L973.5 453.3L977.2 457.2L980.9 461.1L984.6 465L988.3 468.9L992 472.7L995.7 476.6L999.4 480.6L1003.1 484.5L1006.8 488.4L1010.5 492.3L1014.2 496.2L1017.9 500.1L1021.6 504L1025.3 508L1029 512L1032.7 516L1036.4 520L1040.1 524.1L1043.8 528.3L1047.5 532.5L1051.2 536.8L1054.9 541.1L1058.6 545.3L1062.3 549.4L1066 553.5L1069.7 557.5L1073.4 561.5L1077.1 565.4L1080.8 569.2L1084.5 573L1088.2 576.7L1091.9 580.3L1095.6 584L1099.3 587.6L1103 591.2L1106.7 594.8L1110.4 598.2L1114.1 601.6L1117.8 604.8L1121.5 607.9L1125.2 611.1L1128.9 614.2L1132.6 617.3L1136.3 620.3L1140 623.4L1143.7 626.4L1147.4 629.4L1151.1 632.5L1154.8 635.5L1158.5 638.5L1162.2 641.5L1165.9 644.5L1169.6 647.5L1173.3 650.6L1177 653.6L1180.7 656.7L1184.4 659.7L1188.1 662.6L1191.8 665.4L1195.5 668.3L1199.2 671.3L1202.9 674.3L1206.6 677.5L1210.3 680.9L1214 684.3L1217.7 687.7L1221.4 691.1L1225.1 694.4L1228.8 697.7L1232.4 700.9L1236.1 704.1L1239.8 707.3L1243.5 710.5L1247.2 713.7L1250.9 716.8L1254.6 720L1256.2 727L1257.2 735L1258 744L1258.5 749" stroke="#a3ff5b" stroke-width="2.0"/>
<path d="M962.4 441.8L966.1 445.6L969.8 449.5L973.5 453.4L977.2 457.2L980.9 461.1L984.6 465L988.3 468.9L992 472.8L995.7 476.7L999.4 480.6L1003.1 484.5L1006.8 488.4L1010.5 492.3L1014.2 496.2L1017.9 500.1L1021.6 504L1025.3 508L1029 512L1032.7 516L1036.4 520L1040.1 524.1L1043.8 528.3L1047.5 532.5L1051.2 536.8L1054.9 541.1L1058.6 545.3L1062.3 549.4L1066 553.5L1069.7 557.5L1073.4 561.5L1077.1 565.4L1080.8 569.2L1084.5 572.9L1088.2 576.5L1091.9 580.2L1095.6 583.8L1099.3 587.4L1103 591L1106.7 594.5L1110.4 597.9L1114.1 601.2L1117.8 604.4L1121.5 607.6L1125.2 610.7L1128.9 613.8L1132.6 616.8L1136.3 619.9L1140 622.9L1143.7 625.9L1147.4 628.9L1151.1 631.9L1154.8 634.9L1158.5 637.9L1162.2 640.9L1165.9 643.9L1169.6 647L1173.3 650L1177 653.1L1180.7 656.1L1184.4 659.1L1188.1 662L1191.8 664.9L1195.5 667.8L1199.2 670.8L1202.9 673.8L1206.6 677.1L1210.3 680.4L1214 683.8L1217.7 687.3L1221.4 690.7L1225.1 694.1L1228.8 697.3L1232.5 700.6L1236.2 703.8L1239.9 707L1243.6 710.2L1247.3 713.4L1251 716.6L1254.7 719.8L1256.3 726.8L1257.3 734.8L1258.1 743.8L1258.6 749" stroke="#baff44" stroke-width="2.0"/>
<path d="M962.4 441.8L966.1 445.6L969.8 449.5L973.5 453.4L977.2 457.2L980.9 461.1L984.6 465L988.3 468.9L992 472.8L995.7 476.7L999.4 480.6L1003.1 484.5L1006.8 488.4L1010.5 492.3L1014.2 496.2L1017.9 500.1L1021.6 504L1025.3 508L1029 512L1032.7 516L1036.4 520L1040.1 524.1L1043.8 528.3L1047.5 532.5L1051.2 536.8L1054.9 541.1L1058.6 545.3L1062.3 549.4L1066 553.4L1069.7 557.5L1073.4 561.5L1077.1 565.3L1080.8 569.1L1084.5 572.8L1088.2 576.4L1091.9 580L1095.6 583.6L1099.3 587.2L1103 590.7L1106.7 594.2L1110.4 597.6L1114.1 600.9L1117.8 604.1L1121.5 607.2L1125.2 610.3L1128.9 613.3L1132.6 616.4L1136.3 619.4L1140 622.4L1143.7 625.4L1147.4 628.4L1151.1 631.4L1154.8 634.4L1158.5 637.4L1162.2 640.4L1165.9 643.4L1169.6 646.4L1173.3 649.5L1177 652.5L1180.7 655.6L1184.4 658.5L1188.1 661.5L1191.8 664.4L1195.5 667.3L1199.2 670.3L1202.9 673.3L1206.6 676.6L1210.3 680L1214 683.4L1217.7 686.9L1221.4 690.3L1225.1 693.7L1228.8 697L1232.5 700.3L1236.2 703.5L1239.9 706.8L1243.6 710L1247.3 713.2L1251 716.4L1254.7 719.6L1256.3 726.6L1257.3 734.6L1258.1 743.6L1258.6 749" stroke="#d2ff2c" stroke-width="2.0"/>
<path d="M962.4 441.8L966.1 445.6L969.8 449.5L973.5 453.4L977.2 457.2L980.9 461.1L984.6 465L988.3 468.9L992 472.8L995.7 476.7L999.4 480.6L1003.1 484.5L1006.8 488.4L1010.5 492.3L1014.2 496.2L1017.9 500.1L1021.6 504L1025.3 508L1029 512L1032.7 516L1036.4 520L1040.1 524.1L1043.8 528.3L1047.5 532.5L1051.2 536.8L1054.9 541.1L1058.6 545.2L1062.3 549.3L1066 553.4L1069.7 557.5L1073.4 561.4L1077.1 565.3L1080.8 569L1084.5 572.7L1088.2 576.3L1091.9 579.8L1095.6 583.4L1099.3 587L1103 590.5L1106.7 594L1110.4 597.3L1114.1 600.6L1117.8 603.7L1121.5 606.8L1125.2 609.9L1128.9 612.9L1132.6 615.9L1136.3 618.9L1140 621.9L1143.7 624.9L1147.4 627.9L1151.1 630.9L1154.8 633.9L1158.5 636.9L1162.2 639.8L1165.9 642.9L1169.6 645.9L1173.3 648.9L1177 652L1180.7 655L1184.4 658L1188.1 660.9L1191.8 663.8L1195.5 666.8L1199.2 669.8L1202.9 672.9L1206.6 676.1L1210.3 679.5L1214 683L1217.7 686.5L1221.4 690L1225.1 693.3L1228.8 696.7L1232.5 700L1236.2 703.2L1239.9 706.5L1243.6 709.7L1247.3 713L1251 716.2L1254.7 719.5L1256.3 726.5L1257.3 734.5L1258.1 743.5L1258.6 749" stroke="#eaff14" stroke-width="2.0"/>
<path d="M962.4 441.8L966.1 445.6L969.8 449.5L973.5 453.4L977.2 457.2L980.9 461.1L984.6 465L988.3 468.9L992 472.8L995.7 476.7L999.4 480.6L1003.1 484.5L1006.8 488.4L1010.5 492.3L1014.2 496.2L1017.9 500.1L1021.6 504L1025.3 508L1029 512L1032.7 516L1036.4 520L1040.1 524.1L1043.8 528.3L1047.5 532.5L1051.2 536.8L1054.9 541L1058.6 545.2L1062.3 549.3L1066 553.4L1069.7 557.4L1073.4 561.4L1077.1 565.2L1080.8 568.9L1084.5 572.6L1088.2 576.1L1091.9 579.7L1095.6 583.2L1099.3 586.8L1103 590.3L1106.7 593.7L1110.4 597.1L1114.1 600.3L1117.8 603.4L1121.5 606.5L1125.2 609.5L1128.9 612.5L1132.6 615.5L1136.3 618.5L1140 621.5L1143.7 624.4L1147.4 627.4L1151.1 630.4L1154.8 633.4L1158.5 636.3L1162.2 639.3L1165.9 642.3L1169.6 645.3L1173.3 648.4L1177 651.4L1180.7 654.5L1184.4 657.5L1188.2 660.4L1191.9 663.3L1195.6 666.3L1199.3 669.3L1203 672.4L1206.7 675.6L1210.4 679.1L1214.1 682.6L1217.8 686.1L1221.5 689.6L1225.2 693L1228.9 696.3L1232.6 699.7L1236.3 703L1240 706.2L1243.7 709.5L1247.4 712.8L1251.1 716L1254.8 719.3L1256.4 726.3L1257.4 734.3L1258.2 743.3L1258.7 749" stroke="#fffc00" stroke-width="2.0"/>
<path d="M962.4 441.8L966.1 445.6L969.8 449.5L973.5 453.4L977.2 457.2L980.9 461.1L984.6 465L988.3 468.9L992 472.8L995.7 476.7L999.4 480.6L1003.1 484.5L1006.8 488.4L1010.5 492.3L1014.2 496.2L1017.9 500.1L1021.6 504L1025.3 508L1029 512L1032.7 516L1036.4 520L1040.1 524.1L1043.8 528.3L1047.5 532.5L1051.2 536.8L1054.9 541L1058.6 545.2L1062.3 549.3L1066 553.4L1069.7 557.4L1073.4 561.3L1077.1 565.2L1080.8 568.9L1084.5 572.5L1088.2 576L1091.9 579.5L1095.6 583.1L1099.3 586.6L1103 590L1106.7 593.5L1110.4 596.8L1114.1 600L1117.8 603.1L1121.6 606.1L1125.3 609.1L1129 612.1L1132.7 615.1L1136.4 618L1140.1 621L1143.8 624L1147.5 626.9L1151.2 629.9L1154.9 632.8L1158.6 635.8L1162.3 638.8L1166 641.8L1169.7 644.8L1173.4 647.9L1177.1 650.9L1180.8 654L1184.5 656.9L1188.2 659.9L1191.9 662.8L1195.6 665.8L1199.3 668.8L1203 671.9L1206.7 675.2L1210.4 678.6L1214.1 682.1L1217.8 685.7L1221.5 689.2L1225.2 692.6L1228.9 696L1232.6 699.4L1236.3 702.7L1240 706L1243.7 709.3L1247.4 712.6L1251.1 715.8L1254.8 719.1L1256.4 726.1L1257.4 734.1L1258.2 743.1L1258.7 749" stroke="#ffe400" stroke-width="2.0"/>
<path d="M962.4 441.8L966.1 445.6L969.8 449.5L973.5 453.4L977.2 457.2L980.9 461.1L984.6 465L988.3 468.9L992 472.8L995.7 476.7L999.4 480.6L1003.1 484.5L1006.8 488.4L1010.5 492.3L1014.2 496.2L1017.9 500.1L1021.6 504L1025.3 508L1029 511.9L1032.7 516L1036.4 520L1040.1 524.1L1043.8 528.3L1047.5 532.5L1051.2 536.8L1054.9 541L1058.6 545.2L1062.3 549.3L1066 553.4L1069.7 557.4L1073.4 561.3L1077.1 565.1L1080.8 568.8L1084.6 572.4L1088.3 575.9L1092 579.4L1095.7 582.9L1099.4 586.4L1103.1 589.8L1106.8 593.2L1110.5 596.5L1114.2 599.7L1117.9 602.7L1121.6 605.7L1125.3 608.7L1129 611.7L1132.7 614.7L1136.4 617.6L1140.1 620.5L1143.8 623.5L1147.5 626.4L1151.2 629.4L1154.9 632.3L1158.6 635.3L1162.3 638.3L1166 641.3L1169.7 644.3L1173.4 647.3L1177.1 650.4L1180.8 653.4L1184.5 656.4L1188.2 659.4L1191.9 662.3L1195.6 665.3L1199.3 668.3L1203 671.4L1206.7 674.7L1210.4 678.2L1214.1 681.7L1217.8 685.3L1221.5 688.9L1225.2 692.3L1228.9 695.7L1232.6 699.1L1236.3 702.4L1240 705.7L1243.7 709.1L1247.4 712.4L1251.1 715.7L1254.8 718.9L1256.4 725.9L1257.4 733.9L1258.2 742.9L1258.7 749" stroke="#ffcc00" stroke-width="2.0"/>
<path d="M962.4 441.8L966.1 445.6L969.8 449.5L973.5 453.4L977.2 457.2L980.9 461.1L984.6 465L988.3 468.9L992 472.8L995.7 476.7L999.4 480.6L1003.1 484.5L1006.8 488.4L1010.5 492.3L1014.2 496.2L1017.9 500.1L1021.6 504L1025.3 508L1029 511.9L1032.7 516L1036.4 520L1040.1 524.1L1043.8 528.3L1047.5 532.5L1051.2 536.8L1054.9 541L1058.6 545.2L1062.4 549.3L1066.1 553.4L1069.8 557.4L1073.5 561.3L1077.2 565.1L1080.9 568.7L1084.6 572.3L1088.3 575.8L1092 579.2L1095.7 582.7L1099.4 586.2L1103.1 589.6L1106.8 593L1110.5 596.2L1114.2 599.4L1117.9 602.4L1121.6 605.4L1125.3 608.4L1129 611.3L1132.7 614.3L1136.4 617.2L1140.1 620.1L1143.8 623L1147.5 626L1151.2 628.9L1154.9 631.9L1158.6 634.8L1162.3 637.8L1166 640.8L1169.7 643.8L1173.4 646.8L1177.1 649.9L1180.8 652.9L1184.5 655.9L1188.2 658.9L1191.9 661.8L1195.6 664.8L1199.3 667.8L1203 671L1206.7 674.3L1210.4 677.8L1214.1 681.3L1217.8 684.9L1221.5 688.5L1225.2 692L1228.9 695.4L1232.6 698.8L1236.3 702.2L1240 705.5L1243.7 708.8L1247.4 712.2L1251.1 715.5L1254.8 718.8L1256.4 725.8L1257.4 733.8L1258.2 742.8L1258.7 749" stroke="#ffb400" stroke-width="2.0"/>
<path d="M962.4 441.8L966.1 445.6L969.8 449.5L973.5 453.4L977.2 457.2L980.9 461.1L984.6 465L988.3 468.9L992 472.8L995.7 476.7L999.4 480.6L1003.1 484.5L1006.8 488.4L1010.5 492.3L1014.2 496.2L1017.9 500.1L1021.6 504L1025.3 508L1029 511.9L1032.7 515.9L1036.4 520L1040.1 524.1L1043.8 528.3L1047.6 532.5L1051.3 536.8L1055 541L1058.7 545.2L1062.4 549.3L1066.1 553.3L1069.8 557.3L1073.5 561.2L1077.2 565L1080.9 568.7L1084.6 572.2L1088.3 575.7L1092 579.1L1095.7 582.6L1099.4 586L1103.1 589.4L1106.8 592.7L1110.5 596L1114.2 599.1L1117.9 602.1L1121.6 605.1L1125.3 608L1129 610.9L1132.7 613.9L1136.4 616.8L1140.1 619.7L1143.8 622.6L1147.5 625.5L1151.2 628.5L1154.9 631.4L1158.6 634.3L1162.3 637.3L1166 640.3L1169.7 643.3L1173.4 646.4L1177.1 649.4L1180.8 652.5L1184.5 655.4L1188.2 658.4L1191.9 661.3L1195.6 664.3L1199.3 667.4L1203 670.6L1206.7 673.9L1210.4 677.4L1214.2 681L1217.9 684.6L1221.6 688.2L1225.3 691.7L1229 695.1L1232.7 698.5L1236.4 701.9L1240.1 705.3L1243.8 708.6L1247.5 712L1251.2 715.3L1254.9 718.6L1256.5 725.6L1257.5 733.6L1258.3 742.6L1258.8 749" stroke="#ff9d00" stroke-width="2.0"/>
<path d="M962.4 441.8L966.1 445.6L969.8 449.5L973.5 453.4L977.2 457.2L980.9 461.1L984.6 465L988.3 468.9L992 472.8L995.7 476.7L999.4 480.6L1003.1 484.5L1006.8 488.4L1010.5 492.3L1014.2 496.2L1017.9 500.1L1021.6 504L1025.3 508L1029 511.9L1032.7 515.9L1036.5 520L1040.2 524.1L1043.9 528.2L1047.6 532.5L1051.3 536.8L1055 541L1058.7 545.2L1062.4 549.3L1066.1 553.3L1069.8 557.3L1073.5 561.2L1077.2 565L1080.9 568.6L1084.6 572.1L1088.3 575.6L1092 579L1095.7 582.4L1099.4 585.8L1103.1 589.2L1106.8 592.5L1110.5 595.7L1114.2 598.8L1117.9 601.8L1121.6 604.8L1125.3 607.7L1129 610.6L1132.7 613.5L1136.4 616.4L1140.1 619.3L1143.8 622.2L1147.5 625.1L1151.2 628L1154.9 630.9L1158.6 633.9L1162.3 636.8L1166 639.8L1169.7 642.8L1173.4 645.9L1177.1 648.9L1180.8 652L1184.6 655L1188.3 657.9L1192 660.9L1195.7 663.9L1199.4 667L1203.1 670.1L1206.8 673.5L1210.5 677L1214.2 680.6L1217.9 684.2L1221.6 687.8L1225.3 691.3L1229 694.8L1232.7 698.2L1236.4 701.7L1240.1 705L1243.8 708.4L1247.5 711.8L1251.2 715.1L1254.9 718.4L1256.5 725.4L1257.5 733.4L1258.3 742.4L1258.8 749" stroke="#ff8500" stroke-width="2.0"/>
<path d="M962.4 441.8L966.1 445.7L969.8 449.5L973.5 453.4L977.2 457.2L980.9 461.1L984.6 465L988.3 468.9L992 472.8L995.7 476.7L999.4 480.6L1003.1 484.5L1006.8 488.4L1010.5 492.3L1014.2 496.2L1017.9 500.1L1021.6 504L1025.3 508L1029.1 511.9L1032.8 515.9L1036.5 520L1040.2 524.1L1043.9 528.2L1047.6 532.5L1051.3 536.8L1055 541L1058.7 545.2L1062.4 549.2L1066.1 553.3L1069.8 557.3L1073.5 561.2L1077.2 564.9L1080.9 568.6L1084.6 572L1088.3 575.5L1092 578.9L1095.7 582.2L1099.4 585.6L1103.1 589L1106.8 592.3L1110.5 595.5L1114.2 598.6L1117.9 601.5L1121.6 604.5L1125.3 607.3L1129 610.2L1132.7 613.1L1136.4 616L1140.1 618.9L1143.8 621.8L1147.5 624.7L1151.2 627.6L1154.9 630.5L1158.7 633.4L1162.4 636.4L1166.1 639.4L1169.8 642.4L1173.5 645.4L1177.2 648.5L1180.9 651.5L1184.6 654.5L1188.3 657.5L1192 660.5L1195.7 663.5L1199.4 666.5L1203.1 669.7L1206.8 673.1L1210.5 676.6L1214.2 680.2L1217.9 683.9L1221.6 687.5L1225.3 691.1L1229 694.5L1232.7 698L1236.4 701.4L1240.1 704.8L1243.8 708.2L1247.5 711.6L1251.2 715L1254.9 718.3L1256.5 725.3L1257.5 733.3L1258.3 742.3L1258.8 749" stroke="#ff6d00" stroke-width="2.0"/>
<path d="M962.4 441.8L966.1 445.7L969.8 449.5L973.5 453.4L977.2 457.2L980.9 461.1L984.6 465L988.3 468.9L992 472.8L995.7 476.7L999.4 480.6L1003.1 484.5L1006.8 488.4L1010.5 492.3L1014.2 496.2L1017.9 500.1L1021.7 504L1025.4 508L1029.1 511.9L1032.8 515.9L1036.5 520L1040.2 524.1L1043.9 528.2L1047.6 532.5L1051.3 536.8L1055 541L1058.7 545.2L1062.4 549.2L1066.1 553.3L1069.8 557.3L1073.5 561.2L1077.2 564.9L1080.9 568.5L1084.6 572L1088.3 575.4L1092 578.7L1095.7 582.1L1099.4 585.5L1103.1 588.8L1106.8 592.1L1110.5 595.3L1114.2 598.3L1117.9 601.3L1121.6 604.2L1125.3 607L1129 609.9L1132.7 612.8L1136.4 615.6L1140.2 618.5L1143.9 621.4L1147.6 624.3L1151.3 627.2L1155 630.1L1158.7 633L1162.4 636L1166.1 639L1169.8 642L1173.5 645L1177.2 648.1L1180.9 651.1L1184.6 654.1L1188.3 657.1L1192 660L1195.7 663.1L1199.4 666.1L1203.1 669.3L1206.8 672.7L1210.5 676.3L1214.2 679.9L1217.9 683.6L1221.6 687.2L1225.3 690.8L1229 694.3L1232.7 697.7L1236.4 701.2L1240.1 704.6L1243.8 708L1247.5 711.4L1251.2 714.8L1254.9 718.1L1256.5 725.1L1257.5 733.1L1258.3 742.1L1258.8 749" stroke="#ff5500" stroke-width="2.0"/>
<path d="M962.4 441.8L966.1 445.7L969.8 449.5L973.5 453.4L977.2 457.2L980.9 461.1L984.6 465L988.3 468.9L992 472.8L995.7 476.7L999.4 480.6L1003.1 484.5L1006.8 488.4L1010.5 492.3L1014.2 496.2L1018 500.1L1021.7 504L1025.4 508L1029.1 511.9L1032.8 515.9L1036.5 520L1040.2 524.1L1043.9 528.2L1047.6 532.5L1051.3 536.8L1055 541L1058.7 545.2L1062.4 549.2L1066.1 553.3L1069.8 557.3L1073.5 561.1L1077.2 564.9L1080.9 568.4L1084.6 571.9L1088.3 575.3L1092 578.6L1095.7 582L1099.4 585.3L1103.1 588.6L1106.8 591.9L1110.5 595.1L1114.2 598.1L1117.9 601L1121.6 603.9L1125.4 606.7L1129.1 609.6L1132.8 612.5L1136.5 615.3L1140.2 618.1L1143.9 621L1147.6 623.9L1151.3 626.8L1155 629.7L1158.7 632.6L1162.4 635.6L1166.1 638.6L1169.8 641.6L1173.5 644.6L1177.2 647.7L1180.9 650.7L1184.6 653.7L1188.3 656.7L1192 659.6L1195.7 662.7L1199.4 665.8L1203.1 669L1206.8 672.4L1210.5 675.9L1214.2 679.6L1217.9 683.3L1221.6 686.9L1225.3 690.5L1229 694L1232.8 697.5L1236.5 701L1240.2 704.4L1243.9 707.9L1247.6 711.3L1251.3 714.6L1255 718L1256.6 725L1257.6 733L1258.4 742L1258.9 749" stroke="#ff3e00" stroke-width="2.0"/>
<path d="M962.4 441.8L966.1 445.7L969.8 449.5L973.5 453.4L977.2 457.2L980.9 461.1L984.6 465L988.3 468.9L992 472.8L995.7 476.7L999.4 480.6L1003.1 484.5L1006.8 488.4L1010.5 492.3L1014.3 496.2L1018 500.1L1021.7 504L1025.4 508L1029.1 511.9L1032.8 515.9L1036.5 520L1040.2 524.1L1043.9 528.2L1047.6 532.5L1051.3 536.8L1055 541L1058.7 545.1L1062.4 549.2L1066.1 553.3L1069.8 557.2L1073.5 561.1L1077.2 564.8L1080.9 568.4L1084.6 571.8L1088.3 575.2L1092 578.5L1095.7 581.8L1099.4 585.2L1103.1 588.5L1106.8 591.7L1110.5 594.9L1114.3 597.9L1118 600.8L1121.7 603.6L1125.4 606.5L1129.1 609.3L1132.8 612.1L1136.5 615L1140.2 617.8L1143.9 620.7L1147.6 623.5L1151.3 626.4L1155 629.3L1158.7 632.2L1162.4 635.2L1166.1 638.2L1169.8 641.2L1173.5 644.2L1177.2 647.3L1180.9 650.3L1184.6 653.3L1188.3 656.3L1192 659.3L1195.7 662.3L1199.4 665.4L1203.1 668.6L1206.8 672L1210.5 675.6L1214.3 679.3L1218 683L1221.7 686.7L1225.4 690.2L1229.1 693.8L1232.8 697.3L1236.5 700.8L1240.2 704.3L1243.9 707.7L1247.6 711.1L1251.3 714.5L1255 717.9L1256.6 724.9L1257.6 732.9L1258.4 741.9L1258.9 749" stroke="#ff2600" stroke-width="2.0"/>
<path d="M962.4 441.8L966.1 445.7L969.8 449.5L973.5 453.4L977.2 457.2L980.9 461.1L984.6 465L988.3 468.9L992 472.8L995.7 476.7L999.4 480.6L1003.1 484.5L1006.8 488.4L1010.6 492.3L1014.3 496.2L1018 500.1L1021.7 504L1025.4 508L1029.1 511.9L1032.8 515.9L1036.5 520L1040.2 524.1L1043.9 528.2L1047.6 532.5L1051.3 536.7L1055 541L1058.7 545.1L1062.4 549.2L1066.1 553.2L1069.8 557.2L1073.5 561.1L1077.2 564.8L1080.9 568.3L1084.6 571.8L1088.3 575.1L1092 578.4L1095.7 581.7L1099.4 585L1103.1 588.3L1106.9 591.5L1110.6 594.7L1114.3 597.7L1118 600.6L1121.7 603.4L1125.4 606.2L1129.1 609L1132.8 611.9L1136.5 614.7L1140.2 617.5L1143.9 620.3L1147.6 623.2L1151.3 626.1L1155 629L1158.7 631.9L1162.4 634.8L1166.1 637.8L1169.8 640.8L1173.5 643.9L1177.2 646.9L1180.9 650L1184.6 653L1188.3 655.9L1192 658.9L1195.7 662L1199.5 665.1L1203.2 668.3L1206.9 671.7L1210.6 675.3L1214.3 679L1218 682.7L1221.7 686.4L1225.4 690L1229.1 693.6L1232.8 697.1L1236.5 700.6L1240.2 704.1L1243.9 707.5L1247.6 711L1251.3 714.4L1255 717.8L1256.6 724.8L1257.6 732.8L1258.4 741.8L1258.9 749" stroke="#ff0e00" stroke-width="2.0"/>
<path d="M962.4 441.8L966.1 445.7L969.8 449.5L973.5 453.4L977.2 457.3L980.9 461.1L984.6 465L988.3 468.9L992 472.8L995.7 476.7L999.4 480.6L1003.1 484.5L1006.9 488.4L1010.6 492.3L1014.3 496.2L1018 500.1L1021.7 504L1025.4 508L1029.1 511.9L1032.8 515.9L1036.5 520L1040.2 524.1L1043.9 528.2L1047.6 532.5L1051.3 536.7L1055 541L1058.7 545.1L1062.4 549.2L1066.1 553.2L1069.8 557.2L1073.5 561.1L1077.2 564.8L1080.9 568.3L1084.6 571.7L1088.3 575L1092 578.3L1095.8 581.6L1099.5 584.9L1103.2 588.2L1106.9 591.4L1110.6 594.5L1114.3 597.5L1118 600.3L1121.7 603.2L1125.4 605.9L1129.1 608.8L1132.8 611.6L1136.5 614.4L1140.2 617.2L1143.9 620L1147.6 622.9L1151.3 625.8L1155 628.6L1158.7 631.6L1162.4 634.5L1166.1 637.5L1169.8 640.5L1173.5 643.5L1177.2 646.6L1180.9 649.6L1184.7 652.6L1188.4 655.6L1192.1 658.6L1195.8 661.6L1199.5 664.8L1203.2 668L1206.9 671.4L1210.6 675L1214.3 678.7L1218 682.5L1221.7 686.2L1225.4 689.8L1229.1 693.4L1232.8 696.9L1236.5 700.4L1240.2 703.9L1243.9 707.4L1247.6 710.8L1251.3 714.3L1255 717.6L1256.6 724.6L1257.6 732.6L1258.4 741.6L1258.9 749" stroke="#f60000" stroke-width="2.0"/>
<path d="M962.4 441.8L966.1 445.7L969.8 449.5L973.5 453.4L977.2 457.3L980.9 461.1L984.6 465L988.3 468.9L992 472.8L995.7 476.7L999.4 480.6L1003.1 484.5L1006.9 488.4L1010.6 492.3L1014.3 496.2L1018 500.1L1021.7 504L1025.4 508L1029.1 511.9L1032.8 515.9L1036.5 520L1040.2 524.1L1043.9 528.2L1047.6 532.5L1051.3 536.7L1055 541L1058.7 545.1L1062.4 549.2L1066.1 553.2L1069.8 557.2L1073.5 561L1077.2 564.7L1080.9 568.3L1084.6 571.6L1088.3 574.9L1092.1 578.2L1095.8 581.5L1099.5 584.8L1103.2 588L1106.9 591.2L1110.6 594.3L1114.3 597.3L1118 600.1L1121.7 602.9L1125.4 605.7L1129.1 608.5L1132.8 611.3L1136.5 614.1L1140.2 616.9L1143.9 619.7L1147.6 622.6L1151.3 625.5L1155 628.3L1158.7 631.3L1162.4 634.2L1166.1 637.2L1169.8 640.2L1173.5 643.2L1177.3 646.3L1181 649.3L1184.7 652.3L1188.4 655.3L1192.1 658.3L1195.8 661.3L1199.5 664.5L1203.2 667.7L1206.9 671.2L1210.6 674.8L1214.3 678.5L1218 682.2L1221.7 686L1225.4 689.6L1229.1 693.2L1232.8 696.7L1236.5 700.3L1240.2 703.8L1243.9 707.3L1247.6 710.7L1251.3 714.1L1255 717.5L1256.6 724.5L1257.6 732.5L1258.4 741.5L1258.9 749" stroke="#de0000" stroke-width="2.0"/>
<path d="M962.4 441.8L966.1 445.7L969.8 449.5L973.5 453.4L977.2 457.3L980.9 461.1L984.6 465L988.3 468.9L992 472.8L995.7 476.7L999.4 480.6L1003.2 484.5L1006.9 488.4L1010.6 492.3L1014.3 496.2L1018 500.1L1021.7 504L1025.4 508L1029.1 511.9L1032.8 515.9L1036.5 520L1040.2 524.1L1043.9 528.2L1047.6 532.5L1051.3 536.7L1055 541L1058.7 545.1L1062.4 549.2L1066.1 553.2L1069.8 557.2L1073.5 561L1077.2 564.7L1080.9 568.2L1084.7 571.6L1088.4 574.9L1092.1 578.1L1095.8 581.4L1099.5 584.7L1103.2 587.9L1106.9 591.1L1110.6 594.2L1114.3 597.1L1118 600L1121.7 602.7L1125.4 605.5L1129.1 608.3L1132.8 611.1L1136.5 613.9L1140.2 616.7L1143.9 619.5L1147.6 622.3L1151.3 625.2L1155 628.1L1158.7 631L1162.4 633.9L1166.2 636.9L1169.9 639.9L1173.6 642.9L1177.3 646L1181 649L1184.7 652L1188.4 655L1192.1 658L1195.8 661.1L1199.5 664.2L1203.2 667.5L1206.9 670.9L1210.6 674.5L1214.3 678.3L1218 682L1221.7 685.8L1225.4 689.4L1229.1 693L1232.8 696.6L1236.5 700.1L1240.2 703.6L1243.9 707.1L1247.7 710.6L1251.4 714L1255.1 717.4L1256.7 724.4L1257.7 732.4L1258.5 741.4L1259 749" stroke="#c60000" stroke-width="2.0"/>
<path d="M962.4 441.8L966.1 445.7L969.8 449.5L973.5 453.4L977.2 457.3L980.9 461.1L984.6 465L988.3 468.9L992 472.8L995.7 476.7L999.4 480.6L1003.2 484.5L1006.9 488.4L1010.6 492.3L1014.3 496.2L1018 500.1L1021.7 504L1025.4 508L1029.1 511.9L1032.8 515.9L1036.5 520L1040.2 524L1043.9 528.2L1047.6 532.5L1051.3 536.7L1055 541L1058.7 545.1L1062.4 549.2L1066.1 553.2L1069.8 557.2L1073.5 561L1077.2 564.7L1081 568.2L1084.7 571.5L1088.4 574.8L1092.1 578.1L1095.8 581.3L1099.5 584.6L1103.2 587.8L1106.9 591L1110.6 594L1114.3 597L1118 599.8L1121.7 602.6L1125.4 605.3L1129.1 608.1L1132.8 610.9L1136.5 613.7L1140.2 616.4L1143.9 619.2L1147.6 622.1L1151.3 624.9L1155 627.8L1158.8 630.7L1162.5 633.7L1166.2 636.6L1169.9 639.6L1173.6 642.7L1177.3 645.7L1181 648.8L1184.7 651.8L1188.4 654.8L1192.1 657.8L1195.8 660.8L1199.5 664L1203.2 667.2L1206.9 670.7L1210.6 674.3L1214.3 678.1L1218 681.8L1221.7 685.6L1225.4 689.2L1229.1 692.8L1232.8 696.4L1236.6 700L1240.3 703.5L1244 707L1247.7 710.5L1251.4 713.9L1255.1 717.3L1256.7 724.3L1257.7 732.3L1258.5 741.3L1259 749" stroke="#ae0000" stroke-width="2.0"/>
<path d="M962.4 441.8L966.1 445.7L969.8 449.5L973.5 453.4L977.2 457.3L980.9 461.1L984.6 465L988.3 468.9L992 472.8L995.7 476.7L999.4 480.6L1003.2 484.5L1006.9 488.4L1010.6 492.3L1014.3 496.2L1018 500.1L1021.7 504L1025.4 508L1029.1 511.9L1032.8 515.9L1036.5 520L1040.2 524L1043.9 528.2L1047.6 532.5L1051.3 536.7L1055 541L1058.7 545.1L1062.4 549.2L1066.1 553.2L1069.8 557.1L1073.5 561L1077.3 564.7L1081 568.2L1084.7 571.5L1088.4 574.8L1092.1 578L1095.8 581.2L1099.5 584.5L1103.2 587.7L1106.9 590.9L1110.6 593.9L1114.3 596.8L1118 599.7L1121.7 602.4L1125.4 605.2L1129.1 607.9L1132.8 610.7L1136.5 613.5L1140.2 616.2L1143.9 619L1147.6 621.9L1151.4 624.7L1155.1 627.6L1158.8 630.5L1162.5 633.4L1166.2 636.4L1169.9 639.4L1173.6 642.4L1177.3 645.5L1181 648.5L1184.7 651.5L1188.4 654.5L1192.1 657.5L1195.8 660.6L1199.5 663.8L1203.2 667L1206.9 670.5L1210.6 674.1L1214.3 677.9L1218 681.7L1221.7 685.4L1225.4 689.1L1229.2 692.7L1232.9 696.3L1236.6 699.8L1240.3 703.4L1244 706.9L1247.7 710.4L1251.4 713.9L1255.1 717.3L1256.7 724.3L1257.7 732.3L1258.5 741.3L1259 749" stroke="#970000" stroke-width="2.0"/>
<path d="M962.4 441.8L966.1 445.7L969.8 449.5L973.5 453.4L977.2 457.3L980.9 461.1L984.6 465L988.3 468.9L992 472.8L995.7 476.7L999.5 480.6L1003.2 484.5L1006.9 488.4L1010.6 492.3L1014.3 496.2L1018 500.1L1021.7 504L1025.4 508L1029.1 511.9L1032.8 515.9L1036.5 520L1040.2 524L1043.9 528.2L1047.6 532.5L1051.3 536.7L1055 541L1058.7 545.1L1062.4 549.2L1066.1 553.2L1069.8 557.1L1073.6 561L1077.3 564.6L1081 568.1L1084.7 571.5L1088.4 574.7L1092.1 577.9L1095.8 581.2L1099.5 584.4L1103.2 587.6L1106.9 590.8L1110.6 593.8L1114.3 596.7L1118 599.5L1121.7 602.3L1125.4 605L1129.1 607.8L1132.8 610.5L1136.5 613.3L1140.2 616.1L1143.9 618.8L1147.7 621.7L1151.4 624.5L1155.1 627.4L1158.8 630.3L1162.5 633.2L1166.2 636.2L1169.9 639.2L1173.6 642.2L1177.3 645.3L1181 648.3L1184.7 651.3L1188.4 654.3L1192.1 657.3L1195.8 660.4L1199.5 663.6L1203.2 666.8L1206.9 670.3L1210.6 674L1214.3 677.7L1218 681.5L1221.8 685.3L1225.5 688.9L1229.2 692.6L1232.9 696.2L1236.6 699.7L1240.3 703.3L1244 706.8L1247.7 710.3L1251.4 713.8L1255.1 717.2L1256.7 724.2L1257.7 732.2L1258.5 741.2L1259 749" stroke="#7f0000" stroke-width="2.5"/>
</g>
<rect x="1043.5" y="433.6" width="219" height="56.4" rx="3" ry="3" fill="#f8fafc" fill-opacity="0.85" stroke="#e6e8ea" stroke-width="1"/>
<line x1="1050" y1="445.8" x2="1085.4" y2="445.8" stroke="#1414e0" stroke-width="1.8"/>
<line x1="1050" y1="470.9" x2="1085.4" y2="470.9" stroke="#8e1212" stroke-width="1.8"/>
<text x="1099.4" y="452" font-size="17" font-family="DejaVu Sans, Liberation Sans, sans-serif" fill="#222">Delithiated (2.8 V)</text>
<text x="1099.4" y="477.2" font-size="17" font-family="DejaVu Sans, Liberation Sans, sans-serif" fill="#222">Lithiated (4.3 V)</text>
<rect x="1082.8" y="499.6" width="174.7" height="63.2" rx="10" ry="10" fill="#f7f9fb" stroke="#3c3c3c" stroke-width="1.4"/>
<text x="1167.2" y="525.6" font-size="17" font-family="DejaVu Sans, Liberation Sans, sans-serif" fill="#222" text-anchor="middle">Domains</text>
<text x="1170.2" y="545.8" font-size="17" font-family="DejaVu Sans, Liberation Sans, sans-serif" fill="#222" text-anchor="middle">&lt; 60 nm to 3 nm</text>
<rect x="982.2" y="530.4" width="44.2" height="182.4" rx="10" ry="10" fill="#f7f9fb" stroke="#3c3c3c" stroke-width="1.4"/>
<text x="1007.6" y="621.6" font-size="17" font-family="DejaVu Sans, Liberation Sans, sans-serif" fill="#222" text-anchor="middle" transform="rotate(-90 1007.6 621.6)">Domains &gt; 60 nm</text>
<rect x="1101" y="687.4" width="107.6" height="52.6" rx="8.5" ry="8.5" fill="#f5f7f9" stroke="#555" stroke-width="1.4"/>
<text x="1154.8" y="708.6" font-size="17" font-family="DejaVu Sans, Liberation Sans, sans-serif" fill="#a032a0" text-anchor="middle">Integrated</text>
<text x="1152.4" y="727.2" font-size="17" font-family="DejaVu Sans, Liberation Sans, sans-serif" fill="#a032a0" text-anchor="middle">Area</text>
<rect x="962.4" y="430.3" width="303.8" height="317.3" fill="none" stroke="#444" stroke-width="1.2"/>
<line x1="957.9" y1="430.4" x2="962.4" y2="430.4" stroke="#333" stroke-width="1.1"/>
<text x="954.4" y="438.5" font-size="20" font-family="DejaVu Sans, Liberation Sans, sans-serif" fill="#222" text-anchor="end">10<tspan font-size="14" dy="-7.6">1</tspan></text>
<line x1="957.9" y1="493.8" x2="962.4" y2="493.8" stroke="#333" stroke-width="1.1"/>
<text x="954.4" y="501.9" font-size="20" font-family="DejaVu Sans, Liberation Sans, sans-serif" fill="#222" text-anchor="end">10<tspan font-size="14" dy="-7.6">0</tspan></text>
<line x1="957.9" y1="557.2" x2="962.4" y2="557.2" stroke="#333" stroke-width="1.1"/>
<text x="954.4" y="565.4" font-size="20" font-family="DejaVu Sans, Liberation Sans, sans-serif" fill="#222" text-anchor="end">10<tspan font-size="14" dy="-7.6">−1</tspan></text>
<line x1="957.9" y1="620.7" x2="962.4" y2="620.7" stroke="#333" stroke-width="1.1"/>
<text x="954.4" y="628.8" font-size="20" font-family="DejaVu Sans, Liberation Sans, sans-serif" fill="#222" text-anchor="end">10<tspan font-size="14" dy="-7.6">−2</tspan></text>
<line x1="957.9" y1="684.2" x2="962.4" y2="684.2" stroke="#333" stroke-width="1.1"/>
<text x="954.4" y="692.3" font-size="20" font-family="DejaVu Sans, Liberation Sans, sans-serif" fill="#222" text-anchor="end">10<tspan font-size="14" dy="-7.6">−3</tspan></text>
<line x1="957.9" y1="747.6" x2="962.4" y2="747.6" stroke="#333" stroke-width="1.1"/>
<text x="954.4" y="755.7" font-size="20" font-family="DejaVu Sans, Liberation Sans, sans-serif" fill="#222" text-anchor="end">10<tspan font-size="14" dy="-7.6">−4</tspan></text>
<line x1="960" y1="728.5" x2="962.4" y2="728.5" stroke="#444" stroke-width="0.8"/>
<line x1="960" y1="717.3" x2="962.4" y2="717.3" stroke="#444" stroke-width="0.8"/>
<line x1="960" y1="709.4" x2="962.4" y2="709.4" stroke="#444" stroke-width="0.8"/>
<line x1="960" y1="703.3" x2="962.4" y2="703.3" stroke="#444" stroke-width="0.8"/>
<line x1="960" y1="698.2" x2="962.4" y2="698.2" stroke="#444" stroke-width="0.8"/>
<line x1="960" y1="694" x2="962.4" y2="694" stroke="#444" stroke-width="0.8"/>
<line x1="960" y1="690.3" x2="962.4" y2="690.3" stroke="#444" stroke-width="0.8"/>
<line x1="960" y1="687.1" x2="962.4" y2="687.1" stroke="#444" stroke-width="0.8"/>
<line x1="960" y1="665" x2="962.4" y2="665" stroke="#444" stroke-width="0.8"/>
<line x1="960" y1="653.9" x2="962.4" y2="653.9" stroke="#444" stroke-width="0.8"/>
<line x1="960" y1="645.9" x2="962.4" y2="645.9" stroke="#444" stroke-width="0.8"/>
<line x1="960" y1="639.8" x2="962.4" y2="639.8" stroke="#444" stroke-width="0.8"/>
<line x1="960" y1="634.8" x2="962.4" y2="634.8" stroke="#444" stroke-width="0.8"/>
<line x1="960" y1="630.5" x2="962.4" y2="630.5" stroke="#444" stroke-width="0.8"/>
<line x1="960" y1="626.8" x2="962.4" y2="626.8" stroke="#444" stroke-width="0.8"/>
<line x1="960" y1="623.6" x2="962.4" y2="623.6" stroke="#444" stroke-width="0.8"/>
<line x1="960" y1="601.6" x2="962.4" y2="601.6" stroke="#444" stroke-width="0.8"/>
<line x1="960" y1="590.4" x2="962.4" y2="590.4" stroke="#444" stroke-width="0.8"/>
<line x1="960" y1="582.5" x2="962.4" y2="582.5" stroke="#444" stroke-width="0.8"/>
<line x1="960" y1="576.4" x2="962.4" y2="576.4" stroke="#444" stroke-width="0.8"/>
<line x1="960" y1="571.3" x2="962.4" y2="571.3" stroke="#444" stroke-width="0.8"/>
<line x1="960" y1="567.1" x2="962.4" y2="567.1" stroke="#444" stroke-width="0.8"/>
<line x1="960" y1="563.4" x2="962.4" y2="563.4" stroke="#444" stroke-width="0.8"/>
<line x1="960" y1="560.2" x2="962.4" y2="560.2" stroke="#444" stroke-width="0.8"/>
<line x1="960" y1="538.1" x2="962.4" y2="538.1" stroke="#444" stroke-width="0.8"/>
<line x1="960" y1="527" x2="962.4" y2="527" stroke="#444" stroke-width="0.8"/>
<line x1="960" y1="519" x2="962.4" y2="519" stroke="#444" stroke-width="0.8"/>
<line x1="960" y1="512.9" x2="962.4" y2="512.9" stroke="#444" stroke-width="0.8"/>
<line x1="960" y1="507.9" x2="962.4" y2="507.9" stroke="#444" stroke-width="0.8"/>
<line x1="960" y1="503.6" x2="962.4" y2="503.6" stroke="#444" stroke-width="0.8"/>
<line x1="960" y1="499.9" x2="962.4" y2="499.9" stroke="#444" stroke-width="0.8"/>
<line x1="960" y1="496.7" x2="962.4" y2="496.7" stroke="#444" stroke-width="0.8"/>
<line x1="960" y1="474.7" x2="962.4" y2="474.7" stroke="#444" stroke-width="0.8"/>
<line x1="960" y1="463.5" x2="962.4" y2="463.5" stroke="#444" stroke-width="0.8"/>
<line x1="960" y1="455.6" x2="962.4" y2="455.6" stroke="#444" stroke-width="0.8"/>
<line x1="960" y1="449.5" x2="962.4" y2="449.5" stroke="#444" stroke-width="0.8"/>
<line x1="960" y1="444.4" x2="962.4" y2="444.4" stroke="#444" stroke-width="0.8"/>
<line x1="960" y1="440.2" x2="962.4" y2="440.2" stroke="#444" stroke-width="0.8"/>
<line x1="960" y1="436.5" x2="962.4" y2="436.5" stroke="#444" stroke-width="0.8"/>
<line x1="960" y1="433.3" x2="962.4" y2="433.3" stroke="#444" stroke-width="0.8"/>
<line x1="1038.7" y1="747.6" x2="1038.7" y2="752.1" stroke="#333" stroke-width="1.1"/>
<text x="1039.3" y="771.6" font-size="20" font-family="DejaVu Sans, Liberation Sans, sans-serif" fill="#222" text-anchor="middle">10<tspan font-size="14" dy="-7.6">−2</tspan></text>
<line x1="1230.8" y1="747.6" x2="1230.8" y2="752.1" stroke="#333" stroke-width="1.1"/>
<text x="1231.4" y="771.6" font-size="20" font-family="DejaVu Sans, Liberation Sans, sans-serif" fill="#222" text-anchor="middle">10<tspan font-size="14" dy="-7.6">−1</tspan></text>
<line x1="962.3" y1="747.6" x2="962.3" y2="750" stroke="#444" stroke-width="0.8"/>
<line x1="980.9" y1="747.6" x2="980.9" y2="750" stroke="#444" stroke-width="0.8"/>
<line x1="996.1" y1="747.6" x2="996.1" y2="750" stroke="#444" stroke-width="0.8"/>
<line x1="1008.9" y1="747.6" x2="1008.9" y2="750" stroke="#444" stroke-width="0.8"/>
<line x1="1020.1" y1="747.6" x2="1020.1" y2="750" stroke="#444" stroke-width="0.8"/>
<line x1="1029.9" y1="747.6" x2="1029.9" y2="750" stroke="#444" stroke-width="0.8"/>
<line x1="1096.5" y1="747.6" x2="1096.5" y2="750" stroke="#444" stroke-width="0.8"/>
<line x1="1130.4" y1="747.6" x2="1130.4" y2="750" stroke="#444" stroke-width="0.8"/>
<line x1="1154.4" y1="747.6" x2="1154.4" y2="750" stroke="#444" stroke-width="0.8"/>
<line x1="1173" y1="747.6" x2="1173" y2="750" stroke="#444" stroke-width="0.8"/>
<line x1="1188.2" y1="747.6" x2="1188.2" y2="750" stroke="#444" stroke-width="0.8"/>
<line x1="1201" y1="747.6" x2="1201" y2="750" stroke="#444" stroke-width="0.8"/>
<line x1="1212.2" y1="747.6" x2="1212.2" y2="750" stroke="#444" stroke-width="0.8"/>
<line x1="1222" y1="747.6" x2="1222" y2="750" stroke="#444" stroke-width="0.8"/>
<text x="898" y="589" font-size="22.5" font-family="DejaVu Sans, Liberation Sans, sans-serif" fill="#222" text-anchor="middle" transform="rotate(-90 898 589)">Intensity (a.u.)</text>
<text x="1113.5" y="803.3" font-size="22.8" font-family="DejaVu Sans, Liberation Sans, sans-serif" fill="#222" text-anchor="middle">Q (<tspan font-style="italic">Å</tspan><tspan font-size="16" dy="-9"> −1</tspan><tspan dy="9">)</tspan></text>
</svg>
</body></html>
